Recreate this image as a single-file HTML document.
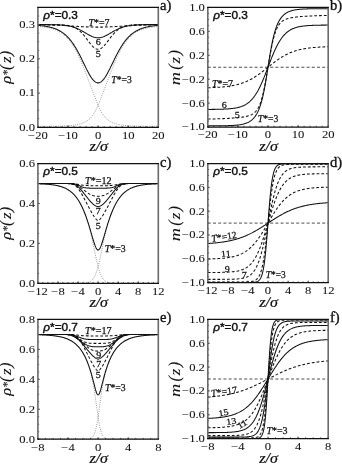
<!DOCTYPE html>
<html><head><meta charset="utf-8"><style>
html,body{margin:0;padding:0;background:#fff;}
svg{display:block;}
.fv{stroke:#6a6a6a;stroke-width:1.6;}
.fh{stroke:#111;stroke-width:1.25;}
.tk{stroke:#333;stroke-width:0.8;}
.cs{fill:none;stroke:#111;stroke-width:1.05;}
.cd{fill:none;stroke:#111;stroke-width:1.05;stroke-dasharray:2.8 2;}
.c0{stroke:#222;stroke-width:0.8;stroke-dasharray:3 2.2;}
.dt{fill:none;stroke:#666;stroke-width:0.8;stroke-dasharray:0.8 1.4;}
text{font-family:"Liberation Serif",serif;fill:#111;}
.tl{font-size:10.5px;stroke:#222;stroke-width:0.06;}
.ax{font-size:15px;font-style:italic;stroke:#111;stroke-width:0.06;}
.axz{stroke-width:0.22;}
.pl{font-size:14.6px;stroke:#111;stroke-width:0.35;}
.rl{font-family:"Liberation Sans",sans-serif;font-size:10px;stroke:#111;stroke-width:0.38;}
.cl{font-size:10px;stroke:#111;stroke-width:0.25;}
.cn{font-size:8.9px;}
</style></head><body>
<svg width="342" height="465" viewBox="0 0 342 465">
<polyline class="dt" points="37.9,126.27 38.4,126.27 38.9,126.27 39.41,126.27 39.91,126.27 40.41,126.27 40.91,126.27 41.41,126.27 41.91,126.27 42.41,126.27 42.92,126.27 43.42,126.26 43.92,126.26 44.42,126.26 44.92,126.26 45.42,126.26 45.93,126.26 46.43,126.26 46.93,126.26 47.43,126.25 47.93,126.25 48.44,126.25 48.94,126.25 49.44,126.25 49.94,126.24 50.44,126.24 50.94,126.24 51.45,126.24 51.95,126.23 52.45,126.23 52.95,126.22 53.45,126.22 53.95,126.22 54.45,126.21 54.96,126.2 55.46,126.2 55.96,126.19 56.46,126.19 56.96,126.18 57.47,126.17 57.97,126.16 58.47,126.15 58.97,126.14 59.47,126.13 59.97,126.12 60.48,126.11 60.98,126.1 61.48,126.08 61.98,126.07 62.48,126.05 62.98,126.03 63.48,126.01 63.99,125.99 64.49,125.97 64.99,125.95 65.49,125.93 65.99,125.9 66.5,125.87 67,125.84 67.5,125.81 68,125.78 68.5,125.74 69,125.7 69.5,125.66 70.01,125.62 70.51,125.57 71.01,125.52 71.51,125.47 72.01,125.41 72.52,125.35 73.02,125.29 73.52,125.22 74.02,125.15 74.52,125.07 75.02,124.99 75.53,124.9 76.03,124.81 76.53,124.72 77.03,124.62 77.53,124.51 78.03,124.4 78.53,124.28 79.04,124.15 79.54,124.02 80.04,123.88 80.54,123.73 81.04,123.57 81.55,123.41 82.05,123.23 82.55,123.05 83.05,122.85 83.55,122.65 84.05,122.43 84.56,122.2 85.06,121.95 85.56,121.69 86.06,121.42 86.56,121.13 87.06,120.81 87.56,120.48 88.07,120.13 88.57,119.75 89.07,119.34 89.57,118.91 90.07,118.44 90.58,117.95 91.08,117.41 91.58,116.84 92.08,116.22 92.58,115.56 93.08,114.85 93.59,114.1 94.09,113.29 94.59,112.43 95.09,111.53 95.59,110.57 96.09,109.56 96.59,108.5 97.1,107.41 97.6,106.27 98.1,105.09 98.6,103.89 99.1,102.66 99.6,101.41 100.11,100.14 100.61,98.85 101.11,97.56 101.61,96.27 102.11,94.96 102.62,93.66 103.12,92.35 103.62,91.04 104.12,89.73 104.62,88.42 105.12,87.11 105.62,85.8 106.13,84.49 106.63,83.18 107.13,81.86 107.63,80.55 108.13,79.24 108.63,77.93 109.14,76.62 109.64,75.32 110.14,74.02 110.64,72.72 111.14,71.43 111.65,70.16 112.15,68.89 112.65,67.63 113.15,66.38 113.65,65.15 114.15,63.94 114.66,62.74 115.16,61.55 115.66,60.39 116.16,59.25 116.66,58.12 117.16,57.02 117.66,55.94 118.17,54.89 118.67,53.85 119.17,52.84 119.67,51.86 120.17,50.9 120.68,49.97 121.18,49.06 121.68,48.17 122.18,47.31 122.68,46.48 123.18,45.67 123.69,44.88 124.19,44.12 124.69,43.39 125.19,42.68 125.69,41.99 126.19,41.32 126.7,40.68 127.2,40.06 127.7,39.46 128.2,38.89 128.7,38.33 129.2,37.8 129.7,37.28 130.21,36.79 130.71,36.31 131.21,35.85 131.71,35.41 132.21,34.99 132.72,34.58 133.22,34.19 133.72,33.82 134.22,33.46 134.72,33.12 135.22,32.79 135.72,32.47 136.23,32.17 136.73,31.87 137.23,31.6 137.73,31.33 138.23,31.07 138.74,30.83 139.24,30.59 139.74,30.37 140.24,30.16 140.74,29.95 141.24,29.75 141.75,29.57 142.25,29.39 142.75,29.21 143.25,29.05 143.75,28.89 144.25,28.74 144.75,28.6 145.26,28.46 145.76,28.33 146.26,28.21 146.76,28.09 147.26,27.97 147.77,27.87 148.27,27.76 148.77,27.66 149.27,27.57 149.77,27.48 150.27,27.39 150.78,27.31 151.28,27.23 151.78,27.15 152.28,27.08 152.78,27.01 153.28,26.95 153.78,26.89 154.29,26.83 154.79,26.77 155.29,26.72 155.79,26.66 156.29,26.62 156.8,26.57 157.3,26.52 157.8,26.48 158.3,26.44"/>
<polyline class="dt" points="37.9,26.44 38.4,26.48 38.9,26.52 39.41,26.57 39.91,26.62 40.41,26.66 40.91,26.72 41.41,26.77 41.91,26.83 42.41,26.89 42.92,26.95 43.42,27.01 43.92,27.08 44.42,27.15 44.92,27.23 45.42,27.31 45.93,27.39 46.43,27.48 46.93,27.57 47.43,27.66 47.93,27.76 48.44,27.87 48.94,27.97 49.44,28.09 49.94,28.21 50.44,28.33 50.94,28.46 51.45,28.6 51.95,28.74 52.45,28.89 52.95,29.05 53.45,29.21 53.95,29.39 54.45,29.57 54.96,29.75 55.46,29.95 55.96,30.16 56.46,30.37 56.96,30.59 57.47,30.83 57.97,31.07 58.47,31.33 58.97,31.6 59.47,31.87 59.97,32.17 60.48,32.47 60.98,32.79 61.48,33.12 61.98,33.46 62.48,33.82 62.98,34.19 63.48,34.58 63.99,34.99 64.49,35.41 64.99,35.85 65.49,36.31 65.99,36.79 66.5,37.28 67,37.8 67.5,38.33 68,38.89 68.5,39.46 69,40.06 69.5,40.68 70.01,41.32 70.51,41.99 71.01,42.68 71.51,43.39 72.01,44.12 72.52,44.88 73.02,45.67 73.52,46.48 74.02,47.31 74.52,48.17 75.02,49.06 75.53,49.97 76.03,50.9 76.53,51.86 77.03,52.84 77.53,53.85 78.03,54.89 78.53,55.94 79.04,57.02 79.54,58.12 80.04,59.25 80.54,60.39 81.04,61.55 81.55,62.74 82.05,63.94 82.55,65.15 83.05,66.38 83.55,67.63 84.05,68.89 84.56,70.16 85.06,71.43 85.56,72.72 86.06,74.02 86.56,75.32 87.06,76.62 87.56,77.93 88.07,79.24 88.57,80.55 89.07,81.86 89.57,83.18 90.07,84.49 90.58,85.8 91.08,87.11 91.58,88.42 92.08,89.73 92.58,91.04 93.08,92.35 93.59,93.66 94.09,94.96 94.59,96.27 95.09,97.56 95.59,98.85 96.09,100.14 96.59,101.41 97.1,102.66 97.6,103.89 98.1,105.09 98.6,106.27 99.1,107.41 99.6,108.5 100.11,109.56 100.61,110.57 101.11,111.53 101.61,112.43 102.11,113.29 102.62,114.1 103.12,114.85 103.62,115.56 104.12,116.22 104.62,116.84 105.12,117.41 105.62,117.95 106.13,118.44 106.63,118.91 107.13,119.34 107.63,119.75 108.13,120.13 108.63,120.48 109.14,120.81 109.64,121.13 110.14,121.42 110.64,121.69 111.14,121.95 111.65,122.2 112.15,122.43 112.65,122.65 113.15,122.85 113.65,123.05 114.15,123.23 114.66,123.41 115.16,123.57 115.66,123.73 116.16,123.88 116.66,124.02 117.16,124.15 117.66,124.28 118.17,124.4 118.67,124.51 119.17,124.62 119.67,124.72 120.17,124.81 120.68,124.9 121.18,124.99 121.68,125.07 122.18,125.15 122.68,125.22 123.18,125.29 123.69,125.35 124.19,125.41 124.69,125.47 125.19,125.52 125.69,125.57 126.19,125.62 126.7,125.66 127.2,125.7 127.7,125.74 128.2,125.78 128.7,125.81 129.2,125.84 129.7,125.87 130.21,125.9 130.71,125.93 131.21,125.95 131.71,125.97 132.21,125.99 132.72,126.01 133.22,126.03 133.72,126.05 134.22,126.07 134.72,126.08 135.22,126.1 135.72,126.11 136.23,126.12 136.73,126.13 137.23,126.14 137.73,126.15 138.23,126.16 138.74,126.17 139.24,126.18 139.74,126.19 140.24,126.19 140.74,126.2 141.24,126.2 141.75,126.21 142.25,126.22 142.75,126.22 143.25,126.22 143.75,126.23 144.25,126.23 144.75,126.24 145.26,126.24 145.76,126.24 146.26,126.24 146.76,126.25 147.26,126.25 147.77,126.25 148.27,126.25 148.77,126.25 149.27,126.26 149.77,126.26 150.27,126.26 150.78,126.26 151.28,126.26 151.78,126.26 152.28,126.26 152.78,126.26 153.28,126.27 153.78,126.27 154.29,126.27 154.79,126.27 155.29,126.27 155.79,126.27 156.29,126.27 156.8,126.27 157.3,126.27 157.8,126.27 158.3,126.27"/>
<polyline class="cd" points="37.9,24.76 38.4,24.77 38.9,24.78 39.41,24.78 39.91,24.79 40.41,24.8 40.91,24.81 41.41,24.82 41.91,24.83 42.41,24.84 42.92,24.85 43.42,24.86 43.92,24.87 44.42,24.88 44.92,24.89 45.42,24.9 45.93,24.91 46.43,24.93 46.93,24.94 47.43,24.95 47.93,24.96 48.44,24.98 48.94,24.99 49.44,25.01 49.94,25.02 50.44,25.04 50.94,25.05 51.45,25.07 51.95,25.08 52.45,25.1 52.95,25.12 53.45,25.13 53.95,25.15 54.45,25.17 54.96,25.19 55.46,25.21 55.96,25.23 56.46,25.25 56.96,25.27 57.47,25.29 57.97,25.31 58.47,25.33 58.97,25.35 59.47,25.38 59.97,25.4 60.48,25.42 60.98,25.45 61.48,25.47 61.98,25.5 62.48,25.52 62.98,25.55 63.48,25.57 63.99,25.6 64.49,25.63 64.99,25.65 65.49,25.68 65.99,25.71 66.5,25.74 67,25.76 67.5,25.79 68,25.82 68.5,25.85 69,25.88 69.5,25.91 70.01,25.94 70.51,25.97 71.01,26 71.51,26.03 72.01,26.06 72.52,26.09 73.02,26.12 73.52,26.15 74.02,26.18 74.52,26.21 75.02,26.24 75.53,26.27 76.03,26.3 76.53,26.33 77.03,26.36 77.53,26.39 78.03,26.42 78.53,26.45 79.04,26.48 79.54,26.51 80.04,26.54 80.54,26.57 81.04,26.6 81.55,26.62 82.05,26.65 82.55,26.68 83.05,26.7 83.55,26.73 84.05,26.76 84.56,26.78 85.06,26.8 85.56,26.83 86.06,26.85 86.56,26.87 87.06,26.89 87.56,26.92 88.07,26.94 88.57,26.95 89.07,26.97 89.57,26.99 90.07,27.01 90.58,27.02 91.08,27.04 91.58,27.05 92.08,27.06 92.58,27.08 93.08,27.09 93.59,27.1 94.09,27.11 94.59,27.11 95.09,27.12 95.59,27.13 96.09,27.13 96.59,27.13 97.1,27.14 97.6,27.14 98.1,27.14 98.6,27.14 99.1,27.14 99.6,27.13 100.11,27.13 100.61,27.13 101.11,27.12 101.61,27.11 102.11,27.11 102.62,27.1 103.12,27.09 103.62,27.08 104.12,27.06 104.62,27.05 105.12,27.04 105.62,27.02 106.13,27.01 106.63,26.99 107.13,26.97 107.63,26.95 108.13,26.94 108.63,26.92 109.14,26.89 109.64,26.87 110.14,26.85 110.64,26.83 111.14,26.8 111.65,26.78 112.15,26.76 112.65,26.73 113.15,26.7 113.65,26.68 114.15,26.65 114.66,26.62 115.16,26.6 115.66,26.57 116.16,26.54 116.66,26.51 117.16,26.48 117.66,26.45 118.17,26.42 118.67,26.39 119.17,26.36 119.67,26.33 120.17,26.3 120.68,26.27 121.18,26.24 121.68,26.21 122.18,26.18 122.68,26.15 123.18,26.12 123.69,26.09 124.19,26.06 124.69,26.03 125.19,26 125.69,25.97 126.19,25.94 126.7,25.91 127.2,25.88 127.7,25.85 128.2,25.82 128.7,25.79 129.2,25.76 129.7,25.74 130.21,25.71 130.71,25.68 131.21,25.65 131.71,25.63 132.21,25.6 132.72,25.57 133.22,25.55 133.72,25.52 134.22,25.5 134.72,25.47 135.22,25.45 135.72,25.42 136.23,25.4 136.73,25.38 137.23,25.35 137.73,25.33 138.23,25.31 138.74,25.29 139.24,25.27 139.74,25.25 140.24,25.23 140.74,25.21 141.24,25.19 141.75,25.17 142.25,25.15 142.75,25.13 143.25,25.12 143.75,25.1 144.25,25.08 144.75,25.07 145.26,25.05 145.76,25.04 146.26,25.02 146.76,25.01 147.26,24.99 147.77,24.98 148.27,24.96 148.77,24.95 149.27,24.94 149.77,24.93 150.27,24.91 150.78,24.9 151.28,24.89 151.78,24.88 152.28,24.87 152.78,24.86 153.28,24.85 153.78,24.84 154.29,24.83 154.79,24.82 155.29,24.81 155.79,24.8 156.29,24.79 156.8,24.78 157.3,24.78 157.8,24.77 158.3,24.76"/>
<polyline class="cs" points="37.9,24.58 38.4,24.58 38.9,24.58 39.41,24.58 39.91,24.58 40.41,24.59 40.91,24.59 41.41,24.59 41.91,24.59 42.41,24.59 42.92,24.59 43.42,24.59 43.92,24.6 44.42,24.6 44.92,24.6 45.42,24.6 45.93,24.61 46.43,24.61 46.93,24.61 47.43,24.62 47.93,24.62 48.44,24.63 48.94,24.63 49.44,24.64 49.94,24.64 50.44,24.65 50.94,24.66 51.45,24.67 51.95,24.67 52.45,24.68 52.95,24.69 53.45,24.7 53.95,24.71 54.45,24.73 54.96,24.74 55.46,24.75 55.96,24.77 56.46,24.79 56.96,24.81 57.47,24.83 57.97,24.85 58.47,24.87 58.97,24.9 59.47,24.92 59.97,24.95 60.48,24.98 60.98,25.01 61.48,25.05 61.98,25.09 62.48,25.13 62.98,25.17 63.48,25.22 63.99,25.27 64.49,25.33 64.99,25.38 65.49,25.45 65.99,25.51 66.5,25.58 67,25.66 67.5,25.74 68,25.82 68.5,25.91 69,26.01 69.5,26.11 70.01,26.22 70.51,26.33 71.01,26.45 71.51,26.58 72.01,26.71 72.52,26.85 73.02,27 73.52,27.15 74.02,27.31 74.52,27.48 75.02,27.66 75.53,27.84 76.03,28.04 76.53,28.24 77.03,28.45 77.53,28.66 78.03,28.89 78.53,29.12 79.04,29.36 79.54,29.61 80.04,29.86 80.54,30.12 81.04,30.39 81.55,30.66 82.05,30.94 82.55,31.22 83.05,31.51 83.55,31.8 84.05,32.09 84.56,32.39 85.06,32.68 85.56,32.98 86.06,33.28 86.56,33.58 87.06,33.87 87.56,34.16 88.07,34.45 88.57,34.74 89.07,35.01 89.57,35.28 90.07,35.54 90.58,35.79 91.08,36.03 91.58,36.26 92.08,36.48 92.58,36.69 93.08,36.87 93.59,37.05 94.09,37.21 94.59,37.35 95.09,37.47 95.59,37.58 96.09,37.67 96.59,37.73 97.1,37.78 97.6,37.81 98.1,37.82 98.6,37.81 99.1,37.78 99.6,37.73 100.11,37.67 100.61,37.58 101.11,37.47 101.61,37.35 102.11,37.21 102.62,37.05 103.12,36.87 103.62,36.69 104.12,36.48 104.62,36.26 105.12,36.03 105.62,35.79 106.13,35.54 106.63,35.28 107.13,35.01 107.63,34.74 108.13,34.45 108.63,34.16 109.14,33.87 109.64,33.58 110.14,33.28 110.64,32.98 111.14,32.68 111.65,32.39 112.15,32.09 112.65,31.8 113.15,31.51 113.65,31.22 114.15,30.94 114.66,30.66 115.16,30.39 115.66,30.12 116.16,29.86 116.66,29.61 117.16,29.36 117.66,29.12 118.17,28.89 118.67,28.66 119.17,28.45 119.67,28.24 120.17,28.04 120.68,27.84 121.18,27.66 121.68,27.48 122.18,27.31 122.68,27.15 123.18,27 123.69,26.85 124.19,26.71 124.69,26.58 125.19,26.45 125.69,26.33 126.19,26.22 126.7,26.11 127.2,26.01 127.7,25.91 128.2,25.82 128.7,25.74 129.2,25.66 129.7,25.58 130.21,25.51 130.71,25.45 131.21,25.38 131.71,25.33 132.21,25.27 132.72,25.22 133.22,25.17 133.72,25.13 134.22,25.09 134.72,25.05 135.22,25.01 135.72,24.98 136.23,24.95 136.73,24.92 137.23,24.9 137.73,24.87 138.23,24.85 138.74,24.83 139.24,24.81 139.74,24.79 140.24,24.77 140.74,24.75 141.24,24.74 141.75,24.73 142.25,24.71 142.75,24.7 143.25,24.69 143.75,24.68 144.25,24.67 144.75,24.67 145.26,24.66 145.76,24.65 146.26,24.64 146.76,24.64 147.26,24.63 147.77,24.63 148.27,24.62 148.77,24.62 149.27,24.61 149.77,24.61 150.27,24.61 150.78,24.6 151.28,24.6 151.78,24.6 152.28,24.6 152.78,24.59 153.28,24.59 153.78,24.59 154.29,24.59 154.79,24.59 155.29,24.59 155.79,24.59 156.29,24.58 156.8,24.58 157.3,24.58 157.8,24.58 158.3,24.58"/>
<polyline class="cd" points="37.9,24.57 38.4,24.57 38.9,24.57 39.41,24.57 39.91,24.57 40.41,24.57 40.91,24.57 41.41,24.58 41.91,24.58 42.41,24.58 42.92,24.58 43.42,24.58 43.92,24.58 44.42,24.58 44.92,24.58 45.42,24.58 45.93,24.58 46.43,24.58 46.93,24.58 47.43,24.59 47.93,24.59 48.44,24.59 48.94,24.59 49.44,24.59 49.94,24.6 50.44,24.6 50.94,24.6 51.45,24.6 51.95,24.61 52.45,24.61 52.95,24.62 53.45,24.62 53.95,24.63 54.45,24.63 54.96,24.64 55.46,24.65 55.96,24.66 56.46,24.67 56.96,24.68 57.47,24.69 57.97,24.7 58.47,24.71 58.97,24.73 59.47,24.75 59.97,24.77 60.48,24.79 60.98,24.81 61.48,24.84 61.98,24.86 62.48,24.9 62.98,24.93 63.48,24.97 63.99,25.01 64.49,25.05 64.99,25.1 65.49,25.15 65.99,25.21 66.5,25.28 67,25.35 67.5,25.42 68,25.51 68.5,25.6 69,25.7 69.5,25.81 70.01,25.92 70.51,26.05 71.01,26.19 71.51,26.33 72.01,26.49 72.52,26.67 73.02,26.85 73.52,27.05 74.02,27.27 74.52,27.5 75.02,27.74 75.53,28.01 76.03,28.29 76.53,28.59 77.03,28.91 77.53,29.25 78.03,29.6 78.53,29.98 79.04,30.38 79.54,30.8 80.04,31.25 80.54,31.71 81.04,32.2 81.55,32.7 82.05,33.23 82.55,33.77 83.05,34.34 83.55,34.93 84.05,35.53 84.56,36.14 85.06,36.78 85.56,37.42 86.06,38.07 86.56,38.74 87.06,39.4 87.56,40.07 88.07,40.75 88.57,41.42 89.07,42.08 89.57,42.73 90.07,43.37 90.58,44 91.08,44.6 91.58,45.19 92.08,45.74 92.58,46.27 93.08,46.76 93.59,47.22 94.09,47.64 94.59,48.02 95.09,48.35 95.59,48.63 96.09,48.87 96.59,49.05 97.1,49.19 97.6,49.27 98.1,49.29 98.6,49.27 99.1,49.19 99.6,49.05 100.11,48.87 100.61,48.63 101.11,48.35 101.61,48.02 102.11,47.64 102.62,47.22 103.12,46.76 103.62,46.27 104.12,45.74 104.62,45.19 105.12,44.6 105.62,44 106.13,43.37 106.63,42.73 107.13,42.08 107.63,41.42 108.13,40.75 108.63,40.07 109.14,39.4 109.64,38.74 110.14,38.07 110.64,37.42 111.14,36.78 111.65,36.14 112.15,35.53 112.65,34.93 113.15,34.34 113.65,33.77 114.15,33.23 114.66,32.7 115.16,32.2 115.66,31.71 116.16,31.25 116.66,30.8 117.16,30.38 117.66,29.98 118.17,29.6 118.67,29.25 119.17,28.91 119.67,28.59 120.17,28.29 120.68,28.01 121.18,27.74 121.68,27.5 122.18,27.27 122.68,27.05 123.18,26.85 123.69,26.67 124.19,26.49 124.69,26.33 125.19,26.19 125.69,26.05 126.19,25.92 126.7,25.81 127.2,25.7 127.7,25.6 128.2,25.51 128.7,25.42 129.2,25.35 129.7,25.28 130.21,25.21 130.71,25.15 131.21,25.1 131.71,25.05 132.21,25.01 132.72,24.97 133.22,24.93 133.72,24.9 134.22,24.86 134.72,24.84 135.22,24.81 135.72,24.79 136.23,24.77 136.73,24.75 137.23,24.73 137.73,24.71 138.23,24.7 138.74,24.69 139.24,24.68 139.74,24.67 140.24,24.66 140.74,24.65 141.24,24.64 141.75,24.63 142.25,24.63 142.75,24.62 143.25,24.62 143.75,24.61 144.25,24.61 144.75,24.6 145.26,24.6 145.76,24.6 146.26,24.6 146.76,24.59 147.26,24.59 147.77,24.59 148.27,24.59 148.77,24.59 149.27,24.58 149.77,24.58 150.27,24.58 150.78,24.58 151.28,24.58 151.78,24.58 152.28,24.58 152.78,24.58 153.28,24.58 153.78,24.58 154.29,24.58 154.79,24.58 155.29,24.57 155.79,24.57 156.29,24.57 156.8,24.57 157.3,24.57 157.8,24.57 158.3,24.57"/>
<polyline class="cs" points="37.9,25.41 38.4,25.45 38.9,25.49 39.41,25.54 39.91,25.58 40.41,25.63 40.91,25.68 41.41,25.74 41.91,25.79 42.41,25.85 42.92,25.91 43.42,25.98 43.92,26.05 44.42,26.12 44.92,26.19 45.42,26.27 45.93,26.35 46.43,26.44 46.93,26.52 47.43,26.62 47.93,26.71 48.44,26.82 48.94,26.92 49.44,27.04 49.94,27.15 50.44,27.27 50.94,27.4 51.45,27.54 51.95,27.68 52.45,27.82 52.95,27.98 53.45,28.13 53.95,28.3 54.45,28.48 54.96,28.66 55.46,28.85 55.96,29.05 56.46,29.26 56.96,29.47 57.47,29.7 57.97,29.94 58.47,30.18 58.97,30.44 59.47,30.71 59.97,30.99 60.48,31.28 60.98,31.58 61.48,31.9 61.98,32.23 62.48,32.57 62.98,32.93 63.48,33.3 63.99,33.68 64.49,34.09 64.99,34.5 65.49,34.94 65.99,35.39 66.5,35.85 67,36.34 67.5,36.84 68,37.36 68.5,37.9 69,38.46 69.5,39.04 70.01,39.64 70.51,40.26 71.01,40.89 71.51,41.55 72.01,42.23 72.52,42.93 73.02,43.65 73.52,44.39 74.02,45.16 74.52,45.94 75.02,46.74 75.53,47.57 76.03,48.41 76.53,49.28 77.03,50.16 77.53,51.06 78.03,51.98 78.53,52.92 79.04,53.87 79.54,54.84 80.04,55.83 80.54,56.82 81.04,57.83 81.55,58.84 82.05,59.87 82.55,60.9 83.05,61.94 83.55,62.98 84.05,64.02 84.56,65.05 85.06,66.09 85.56,67.12 86.06,68.13 86.56,69.14 87.06,70.13 87.56,71.11 88.07,72.06 88.57,73 89.07,73.91 89.57,74.78 90.07,75.63 90.58,76.45 91.08,77.22 91.58,77.96 92.08,78.65 92.58,79.3 93.08,79.9 93.59,80.45 94.09,80.95 94.59,81.4 95.09,81.79 95.59,82.12 96.09,82.4 96.59,82.61 97.1,82.76 97.6,82.86 98.1,82.89 98.6,82.86 99.1,82.76 99.6,82.61 100.11,82.4 100.61,82.12 101.11,81.79 101.61,81.4 102.11,80.95 102.62,80.45 103.12,79.9 103.62,79.3 104.12,78.65 104.62,77.96 105.12,77.22 105.62,76.45 106.13,75.63 106.63,74.78 107.13,73.91 107.63,73 108.13,72.06 108.63,71.11 109.14,70.13 109.64,69.14 110.14,68.13 110.64,67.12 111.14,66.09 111.65,65.05 112.15,64.02 112.65,62.98 113.15,61.94 113.65,60.9 114.15,59.87 114.66,58.84 115.16,57.83 115.66,56.82 116.16,55.83 116.66,54.84 117.16,53.87 117.66,52.92 118.17,51.98 118.67,51.06 119.17,50.16 119.67,49.28 120.17,48.41 120.68,47.57 121.18,46.74 121.68,45.94 122.18,45.16 122.68,44.39 123.18,43.65 123.69,42.93 124.19,42.23 124.69,41.55 125.19,40.89 125.69,40.26 126.19,39.64 126.7,39.04 127.2,38.46 127.7,37.9 128.2,37.36 128.7,36.84 129.2,36.34 129.7,35.85 130.21,35.39 130.71,34.94 131.21,34.5 131.71,34.09 132.21,33.68 132.72,33.3 133.22,32.93 133.72,32.57 134.22,32.23 134.72,31.9 135.22,31.58 135.72,31.28 136.23,30.99 136.73,30.71 137.23,30.44 137.73,30.18 138.23,29.94 138.74,29.7 139.24,29.47 139.74,29.26 140.24,29.05 140.74,28.85 141.24,28.66 141.75,28.48 142.25,28.3 142.75,28.13 143.25,27.98 143.75,27.82 144.25,27.68 144.75,27.54 145.26,27.4 145.76,27.27 146.26,27.15 146.76,27.04 147.26,26.92 147.77,26.82 148.27,26.71 148.77,26.62 149.27,26.52 149.77,26.44 150.27,26.35 150.78,26.27 151.28,26.19 151.78,26.12 152.28,26.05 152.78,25.98 153.28,25.91 153.78,25.85 154.29,25.79 154.79,25.74 155.29,25.68 155.79,25.63 156.29,25.58 156.8,25.54 157.3,25.49 157.8,25.45 158.3,25.41"/>
<line class="c0" x1="207.8" y1="67.25" x2="328.2" y2="67.25"/>
<polyline class="cd" points="207.8,87.77 208.3,87.76 208.8,87.74 209.31,87.72 209.81,87.7 210.31,87.69 210.81,87.67 211.31,87.65 211.81,87.63 212.31,87.6 212.82,87.58 213.32,87.56 213.82,87.53 214.32,87.51 214.82,87.48 215.33,87.46 215.83,87.43 216.33,87.4 216.83,87.37 217.33,87.34 217.83,87.31 218.34,87.27 218.84,87.24 219.34,87.2 219.84,87.17 220.34,87.13 220.84,87.09 221.34,87.04 221.85,87 222.35,86.96 222.85,86.91 223.35,86.86 223.85,86.81 224.36,86.76 224.86,86.71 225.36,86.65 225.86,86.59 226.36,86.53 226.86,86.47 227.37,86.41 227.87,86.34 228.37,86.27 228.87,86.2 229.37,86.13 229.87,86.05 230.38,85.97 230.88,85.89 231.38,85.8 231.88,85.71 232.38,85.62 232.88,85.53 233.38,85.43 233.89,85.33 234.39,85.23 234.89,85.12 235.39,85.01 235.89,84.9 236.4,84.78 236.9,84.65 237.4,84.53 237.9,84.4 238.4,84.26 238.9,84.12 239.41,83.98 239.91,83.83 240.41,83.68 240.91,83.53 241.41,83.36 241.91,83.2 242.41,83.03 242.92,82.85 243.42,82.67 243.92,82.48 244.42,82.29 244.92,82.09 245.43,81.89 245.93,81.68 246.43,81.46 246.93,81.25 247.43,81.02 247.93,80.79 248.44,80.55 248.94,80.31 249.44,80.06 249.94,79.8 250.44,79.54 250.94,79.28 251.44,79 251.95,78.72 252.45,78.44 252.95,78.15 253.45,77.85 253.95,77.55 254.46,77.24 254.96,76.93 255.46,76.61 255.96,76.28 256.46,75.95 256.96,75.62 257.46,75.28 257.97,74.93 258.47,74.58 258.97,74.22 259.47,73.86 259.97,73.5 260.48,73.13 260.98,72.76 261.48,72.38 261.98,72 262.48,71.62 262.98,71.23 263.49,70.84 263.99,70.45 264.49,70.05 264.99,69.66 265.49,69.26 265.99,68.86 266.5,68.46 267,68.06 267.5,67.65 268,67.25 268.5,66.85 269,66.44 269.5,66.04 270.01,65.64 270.51,65.24 271.01,64.84 271.51,64.45 272.01,64.05 272.51,63.66 273.02,63.27 273.52,62.88 274.02,62.5 274.52,62.12 275.02,61.74 275.52,61.37 276.03,61 276.53,60.64 277.03,60.28 277.53,59.92 278.03,59.57 278.53,59.22 279.04,58.88 279.54,58.55 280.04,58.22 280.54,57.89 281.04,57.57 281.55,57.26 282.05,56.95 282.55,56.65 283.05,56.35 283.55,56.06 284.05,55.78 284.56,55.5 285.06,55.22 285.56,54.96 286.06,54.7 286.56,54.44 287.06,54.19 287.56,53.95 288.07,53.71 288.57,53.48 289.07,53.25 289.57,53.04 290.07,52.82 290.57,52.61 291.08,52.41 291.58,52.21 292.08,52.02 292.58,51.83 293.08,51.65 293.58,51.47 294.09,51.3 294.59,51.14 295.09,50.97 295.59,50.82 296.09,50.67 296.6,50.52 297.1,50.38 297.6,50.24 298.1,50.1 298.6,49.97 299.1,49.85 299.61,49.72 300.11,49.6 300.61,49.49 301.11,49.38 301.61,49.27 302.11,49.17 302.62,49.07 303.12,48.97 303.62,48.88 304.12,48.79 304.62,48.7 305.12,48.61 305.62,48.53 306.13,48.45 306.63,48.37 307.13,48.3 307.63,48.23 308.13,48.16 308.63,48.09 309.14,48.03 309.64,47.97 310.14,47.91 310.64,47.85 311.14,47.79 311.64,47.74 312.15,47.69 312.65,47.64 313.15,47.59 313.65,47.54 314.15,47.5 314.65,47.46 315.16,47.41 315.66,47.37 316.16,47.33 316.66,47.3 317.16,47.26 317.66,47.23 318.17,47.19 318.67,47.16 319.17,47.13 319.67,47.1 320.17,47.07 320.67,47.04 321.18,47.02 321.68,46.99 322.18,46.97 322.68,46.94 323.18,46.92 323.69,46.9 324.19,46.87 324.69,46.85 325.19,46.83 325.69,46.81 326.19,46.8 326.69,46.78 327.2,46.76 327.7,46.74 328.2,46.73"/>
<polyline class="cs" points="207.8,109.42 208.3,109.42 208.8,109.42 209.31,109.41 209.81,109.41 210.31,109.4 210.81,109.4 211.31,109.4 211.81,109.39 212.31,109.39 212.82,109.38 213.32,109.38 213.82,109.37 214.32,109.36 214.82,109.36 215.33,109.35 215.83,109.34 216.33,109.33 216.83,109.32 217.33,109.31 217.83,109.3 218.34,109.29 218.84,109.28 219.34,109.27 219.84,109.26 220.34,109.24 220.84,109.23 221.34,109.22 221.85,109.2 222.35,109.18 222.85,109.16 223.35,109.14 223.85,109.12 224.36,109.1 224.86,109.08 225.36,109.05 225.86,109.03 226.36,109 226.86,108.97 227.37,108.93 227.87,108.9 228.37,108.86 228.87,108.83 229.37,108.78 229.87,108.74 230.38,108.69 230.88,108.64 231.38,108.59 231.88,108.54 232.38,108.48 232.88,108.41 233.38,108.35 233.89,108.28 234.39,108.2 234.89,108.12 235.39,108.03 235.89,107.94 236.4,107.85 236.9,107.74 237.4,107.64 237.9,107.52 238.4,107.4 238.9,107.27 239.41,107.13 239.91,106.98 240.41,106.83 240.91,106.66 241.41,106.49 241.91,106.3 242.41,106.11 242.92,105.9 243.42,105.68 243.92,105.45 244.42,105.2 244.92,104.94 245.43,104.67 245.93,104.38 246.43,104.07 246.93,103.75 247.43,103.41 247.93,103.05 248.44,102.66 248.94,102.26 249.44,101.84 249.94,101.4 250.44,100.93 250.94,100.44 251.44,99.92 251.95,99.38 252.45,98.81 252.95,98.22 253.45,97.6 253.95,96.94 254.46,96.26 254.96,95.55 255.46,94.81 255.96,94.04 256.46,93.24 256.96,92.4 257.46,91.54 257.97,90.64 258.47,89.71 258.97,88.75 259.47,87.76 259.97,86.74 260.48,85.69 260.98,84.61 261.48,83.5 261.98,82.36 262.48,81.2 262.98,80.02 263.49,78.81 263.99,77.58 264.49,76.33 264.99,75.07 265.49,73.79 265.99,72.49 266.5,71.19 267,69.88 267.5,68.57 268,67.25 268.5,65.93 269,64.62 269.5,63.31 270.01,62.01 270.51,60.71 271.01,59.43 271.51,58.17 272.01,56.92 272.51,55.69 273.02,54.48 273.52,53.3 274.02,52.14 274.52,51 275.02,49.89 275.52,48.81 276.03,47.76 276.53,46.74 277.03,45.75 277.53,44.79 278.03,43.86 278.53,42.96 279.04,42.1 279.54,41.26 280.04,40.46 280.54,39.69 281.04,38.95 281.55,38.24 282.05,37.56 282.55,36.9 283.05,36.28 283.55,35.69 284.05,35.12 284.56,34.58 285.06,34.06 285.56,33.57 286.06,33.1 286.56,32.66 287.06,32.24 287.56,31.84 288.07,31.45 288.57,31.09 289.07,30.75 289.57,30.43 290.07,30.12 290.57,29.83 291.08,29.56 291.58,29.3 292.08,29.05 292.58,28.82 293.08,28.6 293.58,28.39 294.09,28.2 294.59,28.01 295.09,27.84 295.59,27.67 296.09,27.52 296.6,27.37 297.1,27.23 297.6,27.1 298.1,26.98 298.6,26.86 299.1,26.76 299.61,26.65 300.11,26.56 300.61,26.47 301.11,26.38 301.61,26.3 302.11,26.22 302.62,26.15 303.12,26.09 303.62,26.02 304.12,25.96 304.62,25.91 305.12,25.86 305.62,25.81 306.13,25.76 306.63,25.72 307.13,25.67 307.63,25.64 308.13,25.6 308.63,25.57 309.14,25.53 309.64,25.5 310.14,25.47 310.64,25.45 311.14,25.42 311.64,25.4 312.15,25.38 312.65,25.36 313.15,25.34 313.65,25.32 314.15,25.3 314.65,25.28 315.16,25.27 315.66,25.26 316.16,25.24 316.66,25.23 317.16,25.22 317.66,25.21 318.17,25.2 318.67,25.19 319.17,25.18 319.67,25.17 320.17,25.16 320.67,25.15 321.18,25.14 321.68,25.14 322.18,25.13 322.68,25.12 323.18,25.12 323.69,25.11 324.19,25.11 324.69,25.1 325.19,25.1 325.69,25.1 326.19,25.09 326.69,25.09 327.2,25.08 327.7,25.08 328.2,25.08"/>
<polyline class="cd" points="207.8,119.04 208.3,119.03 208.8,119.02 209.31,119.01 209.81,119.01 210.31,119 210.81,118.99 211.31,118.98 211.81,118.97 212.31,118.96 212.82,118.95 213.32,118.94 213.82,118.93 214.32,118.91 214.82,118.9 215.33,118.89 215.83,118.88 216.33,118.86 216.83,118.85 217.33,118.84 217.83,118.82 218.34,118.81 218.84,118.79 219.34,118.78 219.84,118.76 220.34,118.74 220.84,118.73 221.34,118.71 221.85,118.69 222.35,118.67 222.85,118.65 223.35,118.63 223.85,118.61 224.36,118.59 224.86,118.57 225.36,118.54 225.86,118.52 226.36,118.5 226.86,118.47 227.37,118.44 227.87,118.42 228.37,118.39 228.87,118.36 229.37,118.33 229.87,118.3 230.38,118.27 230.88,118.24 231.38,118.21 231.88,118.17 232.38,118.14 232.88,118.1 233.38,118.06 233.89,118.03 234.39,117.99 234.89,117.94 235.39,117.9 235.89,117.86 236.4,117.81 236.9,117.77 237.4,117.72 237.9,117.67 238.4,117.61 238.9,117.56 239.41,117.5 239.91,117.44 240.41,117.38 240.91,117.32 241.41,117.25 241.91,117.18 242.41,117.11 242.92,117.04 243.42,116.96 243.92,116.87 244.42,116.78 244.92,116.69 245.43,116.59 245.93,116.49 246.43,116.38 246.93,116.26 247.43,116.13 247.93,116 248.44,115.85 248.94,115.69 249.44,115.52 249.94,115.34 250.44,115.14 250.94,114.92 251.44,114.69 251.95,114.43 252.45,114.15 252.95,113.84 253.45,113.5 253.95,113.12 254.46,112.71 254.96,112.25 255.46,111.75 255.96,111.19 256.46,110.58 256.96,109.9 257.46,109.15 257.97,108.32 258.47,107.4 258.97,106.39 259.47,105.28 259.97,104.06 260.48,102.72 260.98,101.26 261.48,99.66 261.98,97.93 262.48,96.06 262.98,94.04 263.49,91.88 263.99,89.58 264.49,87.14 264.99,84.57 265.49,81.88 265.99,79.09 266.5,76.21 267,73.26 267.5,70.27 268,67.25 268.5,64.23 269,61.24 269.5,58.29 270.01,55.41 270.51,52.62 271.01,49.93 271.51,47.36 272.01,44.92 272.51,42.62 273.02,40.46 273.52,38.44 274.02,36.57 274.52,34.84 275.02,33.24 275.52,31.78 276.03,30.44 276.53,29.22 277.03,28.11 277.53,27.1 278.03,26.18 278.53,25.35 279.04,24.6 279.54,23.92 280.04,23.31 280.54,22.75 281.04,22.25 281.55,21.79 282.05,21.38 282.55,21 283.05,20.66 283.55,20.35 284.05,20.07 284.56,19.81 285.06,19.58 285.56,19.36 286.06,19.16 286.56,18.98 287.06,18.81 287.56,18.65 288.07,18.5 288.57,18.37 289.07,18.24 289.57,18.12 290.07,18.01 290.57,17.91 291.08,17.81 291.58,17.72 292.08,17.63 292.58,17.54 293.08,17.46 293.58,17.39 294.09,17.32 294.59,17.25 295.09,17.18 295.59,17.12 296.09,17.06 296.6,17 297.1,16.94 297.6,16.89 298.1,16.83 298.6,16.78 299.1,16.73 299.61,16.69 300.11,16.64 300.61,16.6 301.11,16.56 301.61,16.51 302.11,16.47 302.62,16.44 303.12,16.4 303.62,16.36 304.12,16.33 304.62,16.29 305.12,16.26 305.62,16.23 306.13,16.2 306.63,16.17 307.13,16.14 307.63,16.11 308.13,16.08 308.63,16.06 309.14,16.03 309.64,16 310.14,15.98 310.64,15.96 311.14,15.93 311.64,15.91 312.15,15.89 312.65,15.87 313.15,15.85 313.65,15.83 314.15,15.81 314.65,15.79 315.16,15.77 315.66,15.76 316.16,15.74 316.66,15.72 317.16,15.71 317.66,15.69 318.17,15.68 318.67,15.66 319.17,15.65 319.67,15.64 320.17,15.62 320.67,15.61 321.18,15.6 321.68,15.59 322.18,15.57 322.68,15.56 323.18,15.55 323.69,15.54 324.19,15.53 324.69,15.52 325.19,15.51 325.69,15.5 326.19,15.49 326.69,15.49 327.2,15.48 327.7,15.47 328.2,15.46"/>
<polyline class="cs" points="207.8,125.84 208.3,125.84 208.8,125.84 209.31,125.84 209.81,125.84 210.31,125.84 210.81,125.84 211.31,125.83 211.81,125.83 212.31,125.83 212.82,125.83 213.32,125.83 213.82,125.83 214.32,125.82 214.82,125.82 215.33,125.82 215.83,125.82 216.33,125.81 216.83,125.81 217.33,125.81 217.83,125.81 218.34,125.8 218.84,125.8 219.34,125.79 219.84,125.79 220.34,125.78 220.84,125.78 221.34,125.77 221.85,125.77 222.35,125.76 222.85,125.75 223.35,125.75 223.85,125.74 224.36,125.73 224.86,125.72 225.36,125.71 225.86,125.7 226.36,125.69 226.86,125.68 227.37,125.67 227.87,125.65 228.37,125.64 228.87,125.62 229.37,125.6 229.87,125.59 230.38,125.57 230.88,125.55 231.38,125.52 231.88,125.5 232.38,125.47 232.88,125.44 233.38,125.41 233.89,125.38 234.39,125.35 234.89,125.31 235.39,125.27 235.89,125.23 236.4,125.18 236.9,125.13 237.4,125.08 237.9,125.02 238.4,124.96 238.9,124.9 239.41,124.83 239.91,124.75 240.41,124.67 240.91,124.58 241.41,124.49 241.91,124.39 242.41,124.28 242.92,124.17 243.42,124.05 243.92,123.91 244.42,123.77 244.92,123.62 245.43,123.46 245.93,123.28 246.43,123.09 246.93,122.89 247.43,122.67 247.93,122.44 248.44,122.19 248.94,121.92 249.44,121.63 249.94,121.32 250.44,120.99 250.94,120.63 251.44,120.25 251.95,119.84 252.45,119.39 252.95,118.91 253.45,118.4 253.95,117.84 254.46,117.25 254.96,116.6 255.46,115.91 255.96,115.16 256.46,114.35 256.96,113.48 257.46,112.54 257.97,111.52 258.47,110.42 258.97,109.23 259.47,107.94 259.97,106.55 260.48,105.05 260.98,103.43 261.48,101.69 261.98,99.81 262.48,97.8 262.98,95.64 263.49,93.34 263.99,90.9 264.49,88.31 264.99,85.6 265.49,82.75 265.99,79.8 266.5,76.75 267,73.63 267.5,70.45 268,67.25 268.5,64.05 269,60.87 269.5,57.75 270.01,54.7 270.51,51.75 271.01,48.9 271.51,46.19 272.01,43.6 272.51,41.16 273.02,38.86 273.52,36.7 274.02,34.69 274.52,32.81 275.02,31.07 275.52,29.45 276.03,27.95 276.53,26.56 277.03,25.27 277.53,24.08 278.03,22.98 278.53,21.96 279.04,21.02 279.54,20.15 280.04,19.34 280.54,18.59 281.04,17.9 281.55,17.25 282.05,16.66 282.55,16.1 283.05,15.59 283.55,15.11 284.05,14.66 284.56,14.25 285.06,13.87 285.56,13.51 286.06,13.18 286.56,12.87 287.06,12.58 287.56,12.31 288.07,12.06 288.57,11.83 289.07,11.61 289.57,11.41 290.07,11.22 290.57,11.04 291.08,10.88 291.58,10.73 292.08,10.59 292.58,10.45 293.08,10.33 293.58,10.22 294.09,10.11 294.59,10.01 295.09,9.92 295.59,9.83 296.09,9.75 296.6,9.67 297.1,9.6 297.6,9.54 298.1,9.48 298.6,9.42 299.1,9.37 299.61,9.32 300.11,9.27 300.61,9.23 301.11,9.19 301.61,9.15 302.11,9.12 302.62,9.09 303.12,9.06 303.62,9.03 304.12,9 304.62,8.98 305.12,8.95 305.62,8.93 306.13,8.91 306.63,8.9 307.13,8.88 307.63,8.86 308.13,8.85 308.63,8.83 309.14,8.82 309.64,8.81 310.14,8.8 310.64,8.79 311.14,8.78 311.64,8.77 312.15,8.76 312.65,8.75 313.15,8.75 313.65,8.74 314.15,8.73 314.65,8.73 315.16,8.72 315.66,8.72 316.16,8.71 316.66,8.71 317.16,8.7 317.66,8.7 318.17,8.69 318.67,8.69 319.17,8.69 319.67,8.69 320.17,8.68 320.67,8.68 321.18,8.68 321.68,8.68 322.18,8.67 322.68,8.67 323.18,8.67 323.69,8.67 324.19,8.67 324.69,8.67 325.19,8.66 325.69,8.66 326.19,8.66 326.69,8.66 327.2,8.66 327.7,8.66 328.2,8.66"/>
<polyline class="dt" points="37.9,283.15 38.4,283.15 38.9,283.15 39.41,283.15 39.91,283.15 40.41,283.15 40.91,283.15 41.41,283.15 41.91,283.15 42.41,283.15 42.92,283.15 43.42,283.15 43.92,283.15 44.42,283.15 44.92,283.15 45.42,283.15 45.93,283.15 46.43,283.15 46.93,283.15 47.43,283.15 47.93,283.15 48.43,283.15 48.94,283.15 49.44,283.15 49.94,283.15 50.44,283.15 50.94,283.15 51.44,283.15 51.95,283.15 52.45,283.15 52.95,283.15 53.45,283.15 53.95,283.15 54.46,283.15 54.96,283.15 55.46,283.15 55.96,283.15 56.46,283.15 56.96,283.15 57.47,283.15 57.97,283.15 58.47,283.15 58.97,283.15 59.47,283.15 59.97,283.15 60.48,283.15 60.98,283.15 61.48,283.15 61.98,283.15 62.48,283.15 62.98,283.15 63.48,283.15 63.99,283.15 64.49,283.15 64.99,283.15 65.49,283.16 65.99,283.16 66.5,283.16 67,283.16 67.5,283.16 68,283.16 68.5,283.16 69,283.16 69.5,283.16 70.01,283.16 70.51,283.16 71.01,283.16 71.51,283.16 72.01,283.16 72.52,283.16 73.02,283.16 73.52,283.16 74.02,283.16 74.52,283.16 75.02,283.16 75.53,283.16 76.03,283.16 76.53,283.16 77.03,283.16 77.53,283.16 78.03,283.16 78.53,283.15 79.04,283.15 79.54,283.15 80.04,283.14 80.54,283.14 81.04,283.13 81.55,283.12 82.05,283.11 82.55,283.1 83.05,283.08 83.55,283.06 84.05,283.04 84.56,283.01 85.06,282.97 85.56,282.92 86.06,282.86 86.56,282.8 87.06,282.71 87.56,282.61 88.07,282.49 88.57,282.34 89.07,282.16 89.57,281.95 90.07,281.7 90.58,281.4 91.08,281.04 91.58,280.63 92.08,280.14 92.58,279.58 93.08,278.94 93.59,278.2 94.09,277.37 94.59,276.43 95.09,275.38 95.59,274.23 96.09,272.96 96.59,271.57 97.1,270.06 97.6,268.42 98.1,266.64 98.6,264.73 99.1,262.69 99.61,260.53 100.11,258.27 100.61,255.92 101.11,253.51 101.61,251.08 102.11,248.63 102.62,246.21 103.12,243.82 103.62,241.47 104.12,239.18 104.62,236.96 105.12,234.81 105.62,232.73 106.13,230.71 106.63,228.77 107.13,226.91 107.63,225.1 108.13,223.37 108.63,221.7 109.14,220.1 109.64,218.55 110.14,217.06 110.64,215.63 111.14,214.26 111.65,212.94 112.15,211.66 112.65,210.44 113.15,209.27 113.65,208.14 114.15,207.06 114.66,206.02 115.16,205.02 115.66,204.07 116.16,203.15 116.66,202.27 117.16,201.42 117.66,200.62 118.17,199.84 118.67,199.1 119.17,198.39 119.67,197.71 120.17,197.05 120.68,196.43 121.18,195.83 121.68,195.26 122.18,194.72 122.68,194.2 123.18,193.7 123.69,193.22 124.19,192.77 124.69,192.33 125.19,191.92 125.69,191.52 126.19,191.14 126.69,190.78 127.2,190.44 127.7,190.11 128.2,189.79 128.7,189.49 129.2,189.21 129.71,188.94 130.21,188.68 130.71,188.43 131.21,188.19 131.71,187.97 132.21,187.75 132.72,187.55 133.22,187.36 133.72,187.17 134.22,186.99 134.72,186.83 135.22,186.67 135.72,186.51 136.23,186.37 136.73,186.23 137.23,186.1 137.73,185.97 138.23,185.86 138.74,185.74 139.24,185.64 139.74,185.53 140.24,185.44 140.74,185.34 141.24,185.25 141.75,185.17 142.25,185.09 142.75,185.02 143.25,184.94 143.75,184.88 144.25,184.81 144.76,184.75 145.26,184.69 145.76,184.63 146.26,184.58 146.76,184.53 147.26,184.48 147.77,184.44 148.27,184.4 148.77,184.35 149.27,184.32 149.77,184.28 150.27,184.24 150.78,184.21 151.28,184.18 151.78,184.15 152.28,184.12 152.78,184.09 153.28,184.07 153.78,184.04 154.29,184.02 154.79,184 155.29,183.98 155.79,183.96 156.29,183.94 156.8,183.92 157.3,183.9 157.8,183.89 158.3,183.87"/>
<polyline class="dt" points="37.9,183.87 38.4,183.89 38.9,183.9 39.41,183.92 39.91,183.94 40.41,183.96 40.91,183.98 41.41,184 41.91,184.02 42.41,184.04 42.92,184.07 43.42,184.09 43.92,184.12 44.42,184.15 44.92,184.18 45.42,184.21 45.93,184.24 46.43,184.28 46.93,184.32 47.43,184.35 47.93,184.4 48.43,184.44 48.94,184.48 49.44,184.53 49.94,184.58 50.44,184.63 50.94,184.69 51.44,184.75 51.95,184.81 52.45,184.88 52.95,184.94 53.45,185.02 53.95,185.09 54.46,185.17 54.96,185.25 55.46,185.34 55.96,185.44 56.46,185.53 56.96,185.64 57.47,185.74 57.97,185.86 58.47,185.97 58.97,186.1 59.47,186.23 59.97,186.37 60.48,186.51 60.98,186.67 61.48,186.83 61.98,186.99 62.48,187.17 62.98,187.36 63.48,187.55 63.99,187.75 64.49,187.97 64.99,188.19 65.49,188.43 65.99,188.68 66.5,188.94 67,189.21 67.5,189.49 68,189.79 68.5,190.11 69,190.44 69.5,190.78 70.01,191.14 70.51,191.52 71.01,191.92 71.51,192.33 72.01,192.77 72.52,193.22 73.02,193.7 73.52,194.2 74.02,194.72 74.52,195.26 75.02,195.83 75.53,196.43 76.03,197.05 76.53,197.71 77.03,198.39 77.53,199.1 78.03,199.84 78.53,200.62 79.04,201.42 79.54,202.27 80.04,203.15 80.54,204.07 81.04,205.02 81.55,206.02 82.05,207.06 82.55,208.14 83.05,209.27 83.55,210.44 84.05,211.66 84.56,212.94 85.06,214.26 85.56,215.63 86.06,217.06 86.56,218.55 87.06,220.1 87.56,221.7 88.07,223.37 88.57,225.1 89.07,226.91 89.57,228.77 90.07,230.71 90.58,232.73 91.08,234.81 91.58,236.96 92.08,239.18 92.58,241.47 93.08,243.82 93.59,246.21 94.09,248.63 94.59,251.08 95.09,253.51 95.59,255.92 96.09,258.27 96.59,260.53 97.1,262.69 97.6,264.73 98.1,266.64 98.6,268.42 99.1,270.06 99.61,271.57 100.11,272.96 100.61,274.23 101.11,275.38 101.61,276.43 102.11,277.37 102.62,278.2 103.12,278.94 103.62,279.58 104.12,280.14 104.62,280.63 105.12,281.04 105.62,281.4 106.13,281.7 106.63,281.95 107.13,282.16 107.63,282.34 108.13,282.49 108.63,282.61 109.14,282.71 109.64,282.8 110.14,282.86 110.64,282.92 111.14,282.97 111.65,283.01 112.15,283.04 112.65,283.06 113.15,283.08 113.65,283.1 114.15,283.11 114.66,283.12 115.16,283.13 115.66,283.14 116.16,283.14 116.66,283.15 117.16,283.15 117.66,283.15 118.17,283.16 118.67,283.16 119.17,283.16 119.67,283.16 120.17,283.16 120.68,283.16 121.18,283.16 121.68,283.16 122.18,283.16 122.68,283.16 123.18,283.16 123.69,283.16 124.19,283.16 124.69,283.16 125.19,283.16 125.69,283.16 126.19,283.16 126.69,283.16 127.2,283.16 127.7,283.16 128.2,283.16 128.7,283.16 129.2,283.16 129.71,283.16 130.21,283.16 130.71,283.16 131.21,283.15 131.71,283.15 132.21,283.15 132.72,283.15 133.22,283.15 133.72,283.15 134.22,283.15 134.72,283.15 135.22,283.15 135.72,283.15 136.23,283.15 136.73,283.15 137.23,283.15 137.73,283.15 138.23,283.15 138.74,283.15 139.24,283.15 139.74,283.15 140.24,283.15 140.74,283.15 141.24,283.15 141.75,283.15 142.25,283.15 142.75,283.15 143.25,283.15 143.75,283.15 144.25,283.15 144.76,283.15 145.26,283.15 145.76,283.15 146.26,283.15 146.76,283.15 147.26,283.15 147.77,283.15 148.27,283.15 148.77,283.15 149.27,283.15 149.77,283.15 150.27,283.15 150.78,283.15 151.28,283.15 151.78,283.15 152.28,283.15 152.78,283.15 153.28,283.15 153.78,283.15 154.29,283.15 154.79,283.15 155.29,283.15 155.79,283.15 156.29,283.15 156.8,283.15 157.3,283.15 157.8,283.15 158.3,283.15"/>
<polyline class="cd" points="37.9,183.5 38.4,183.5 38.9,183.5 39.41,183.5 39.91,183.5 40.41,183.5 40.91,183.5 41.41,183.5 41.91,183.5 42.41,183.5 42.92,183.5 43.42,183.5 43.92,183.5 44.42,183.5 44.92,183.5 45.42,183.5 45.93,183.5 46.43,183.5 46.93,183.5 47.43,183.5 47.93,183.5 48.43,183.5 48.94,183.5 49.44,183.5 49.94,183.5 50.44,183.5 50.94,183.5 51.44,183.5 51.95,183.5 52.45,183.5 52.95,183.5 53.45,183.5 53.95,183.5 54.46,183.5 54.96,183.5 55.46,183.5 55.96,183.5 56.46,183.5 56.96,183.5 57.47,183.5 57.97,183.5 58.47,183.5 58.97,183.5 59.47,183.5 59.97,183.5 60.48,183.5 60.98,183.5 61.48,183.5 61.98,183.5 62.48,183.5 62.98,183.5 63.48,183.51 63.99,183.51 64.49,183.51 64.99,183.51 65.49,183.51 65.99,183.52 66.5,183.52 67,183.52 67.5,183.53 68,183.53 68.5,183.54 69,183.55 69.5,183.56 70.01,183.57 70.51,183.59 71.01,183.61 71.51,183.63 72.01,183.65 72.52,183.68 73.02,183.72 73.52,183.76 74.02,183.8 74.52,183.85 75.02,183.91 75.53,183.97 76.03,184.04 76.53,184.12 77.03,184.2 77.53,184.28 78.03,184.37 78.53,184.46 79.04,184.55 79.54,184.64 80.04,184.74 80.54,184.83 81.04,184.92 81.55,185 82.05,185.08 82.55,185.16 83.05,185.22 83.55,185.29 84.05,185.34 84.56,185.4 85.06,185.44 85.56,185.48 86.06,185.51 86.56,185.54 87.06,185.57 87.56,185.59 88.07,185.61 88.57,185.62 89.07,185.64 89.57,185.65 90.07,185.66 90.58,185.66 91.08,185.67 91.58,185.67 92.08,185.68 92.58,185.68 93.08,185.68 93.59,185.69 94.09,185.69 94.59,185.69 95.09,185.69 95.59,185.69 96.09,185.69 96.59,185.69 97.1,185.69 97.6,185.69 98.1,185.69 98.6,185.69 99.1,185.69 99.61,185.69 100.11,185.69 100.61,185.69 101.11,185.69 101.61,185.69 102.11,185.69 102.62,185.69 103.12,185.68 103.62,185.68 104.12,185.68 104.62,185.67 105.12,185.67 105.62,185.66 106.13,185.66 106.63,185.65 107.13,185.64 107.63,185.62 108.13,185.61 108.63,185.59 109.14,185.57 109.64,185.54 110.14,185.51 110.64,185.48 111.14,185.44 111.65,185.4 112.15,185.34 112.65,185.29 113.15,185.22 113.65,185.16 114.15,185.08 114.66,185 115.16,184.92 115.66,184.83 116.16,184.74 116.66,184.64 117.16,184.55 117.66,184.46 118.17,184.37 118.67,184.28 119.17,184.2 119.67,184.12 120.17,184.04 120.68,183.97 121.18,183.91 121.68,183.85 122.18,183.8 122.68,183.76 123.18,183.72 123.69,183.68 124.19,183.65 124.69,183.63 125.19,183.61 125.69,183.59 126.19,183.57 126.69,183.56 127.2,183.55 127.7,183.54 128.2,183.53 128.7,183.53 129.2,183.52 129.71,183.52 130.21,183.52 130.71,183.51 131.21,183.51 131.71,183.51 132.21,183.51 132.72,183.51 133.22,183.5 133.72,183.5 134.22,183.5 134.72,183.5 135.22,183.5 135.72,183.5 136.23,183.5 136.73,183.5 137.23,183.5 137.73,183.5 138.23,183.5 138.74,183.5 139.24,183.5 139.74,183.5 140.24,183.5 140.74,183.5 141.24,183.5 141.75,183.5 142.25,183.5 142.75,183.5 143.25,183.5 143.75,183.5 144.25,183.5 144.76,183.5 145.26,183.5 145.76,183.5 146.26,183.5 146.76,183.5 147.26,183.5 147.77,183.5 148.27,183.5 148.77,183.5 149.27,183.5 149.77,183.5 150.27,183.5 150.78,183.5 151.28,183.5 151.78,183.5 152.28,183.5 152.78,183.5 153.28,183.5 153.78,183.5 154.29,183.5 154.79,183.5 155.29,183.5 155.79,183.5 156.29,183.5 156.8,183.5 157.3,183.5 157.8,183.5 158.3,183.5"/>
<polyline class="cs" points="37.9,183.5 38.4,183.5 38.9,183.5 39.41,183.5 39.91,183.5 40.41,183.5 40.91,183.5 41.41,183.5 41.91,183.5 42.41,183.5 42.92,183.5 43.42,183.5 43.92,183.5 44.42,183.5 44.92,183.5 45.42,183.5 45.93,183.5 46.43,183.5 46.93,183.5 47.43,183.5 47.93,183.5 48.43,183.5 48.94,183.5 49.44,183.5 49.94,183.5 50.44,183.5 50.94,183.5 51.44,183.5 51.95,183.5 52.45,183.5 52.95,183.5 53.45,183.5 53.95,183.5 54.46,183.5 54.96,183.5 55.46,183.5 55.96,183.5 56.46,183.5 56.96,183.5 57.47,183.5 57.97,183.5 58.47,183.5 58.97,183.5 59.47,183.5 59.97,183.5 60.48,183.5 60.98,183.5 61.48,183.5 61.98,183.5 62.48,183.5 62.98,183.5 63.48,183.5 63.99,183.5 64.49,183.5 64.99,183.5 65.49,183.51 65.99,183.51 66.5,183.51 67,183.51 67.5,183.52 68,183.52 68.5,183.53 69,183.53 69.5,183.54 70.01,183.55 70.51,183.57 71.01,183.59 71.51,183.61 72.01,183.64 72.52,183.68 73.02,183.72 73.52,183.78 74.02,183.85 74.52,183.93 75.02,184.03 75.53,184.15 76.03,184.29 76.53,184.45 77.03,184.62 77.53,184.82 78.03,185.03 78.53,185.25 79.04,185.48 79.54,185.72 80.04,185.97 80.54,186.21 81.04,186.44 81.55,186.66 82.05,186.87 82.55,187.07 83.05,187.24 83.55,187.4 84.05,187.54 84.56,187.66 85.06,187.76 85.56,187.84 86.06,187.91 86.56,187.97 87.06,188.01 87.56,188.05 88.07,188.08 88.57,188.1 89.07,188.12 89.57,188.14 90.07,188.15 90.58,188.16 91.08,188.16 91.58,188.17 92.08,188.17 92.58,188.18 93.08,188.18 93.59,188.18 94.09,188.18 94.59,188.18 95.09,188.19 95.59,188.19 96.09,188.19 96.59,188.19 97.1,188.19 97.6,188.19 98.1,188.19 98.6,188.19 99.1,188.19 99.61,188.19 100.11,188.19 100.61,188.19 101.11,188.19 101.61,188.18 102.11,188.18 102.62,188.18 103.12,188.18 103.62,188.18 104.12,188.17 104.62,188.17 105.12,188.16 105.62,188.16 106.13,188.15 106.63,188.14 107.13,188.12 107.63,188.1 108.13,188.08 108.63,188.05 109.14,188.01 109.64,187.97 110.14,187.91 110.64,187.84 111.14,187.76 111.65,187.66 112.15,187.54 112.65,187.4 113.15,187.24 113.65,187.07 114.15,186.87 114.66,186.66 115.16,186.44 115.66,186.21 116.16,185.97 116.66,185.72 117.16,185.48 117.66,185.25 118.17,185.03 118.67,184.82 119.17,184.62 119.67,184.45 120.17,184.29 120.68,184.15 121.18,184.03 121.68,183.93 122.18,183.85 122.68,183.78 123.18,183.72 123.69,183.68 124.19,183.64 124.69,183.61 125.19,183.59 125.69,183.57 126.19,183.55 126.69,183.54 127.2,183.53 127.7,183.53 128.2,183.52 128.7,183.52 129.2,183.51 129.71,183.51 130.21,183.51 130.71,183.51 131.21,183.5 131.71,183.5 132.21,183.5 132.72,183.5 133.22,183.5 133.72,183.5 134.22,183.5 134.72,183.5 135.22,183.5 135.72,183.5 136.23,183.5 136.73,183.5 137.23,183.5 137.73,183.5 138.23,183.5 138.74,183.5 139.24,183.5 139.74,183.5 140.24,183.5 140.74,183.5 141.24,183.5 141.75,183.5 142.25,183.5 142.75,183.5 143.25,183.5 143.75,183.5 144.25,183.5 144.76,183.5 145.26,183.5 145.76,183.5 146.26,183.5 146.76,183.5 147.26,183.5 147.77,183.5 148.27,183.5 148.77,183.5 149.27,183.5 149.77,183.5 150.27,183.5 150.78,183.5 151.28,183.5 151.78,183.5 152.28,183.5 152.78,183.5 153.28,183.5 153.78,183.5 154.29,183.5 154.79,183.5 155.29,183.5 155.79,183.5 156.29,183.5 156.8,183.5 157.3,183.5 157.8,183.5 158.3,183.5"/>
<polyline class="cd" points="37.9,183.5 38.4,183.5 38.9,183.5 39.41,183.5 39.91,183.5 40.41,183.5 40.91,183.5 41.41,183.5 41.91,183.5 42.41,183.5 42.92,183.5 43.42,183.5 43.92,183.5 44.42,183.5 44.92,183.5 45.42,183.5 45.93,183.5 46.43,183.5 46.93,183.5 47.43,183.5 47.93,183.5 48.43,183.5 48.94,183.5 49.44,183.5 49.94,183.5 50.44,183.5 50.94,183.5 51.44,183.5 51.95,183.5 52.45,183.5 52.95,183.5 53.45,183.5 53.95,183.5 54.46,183.5 54.96,183.5 55.46,183.5 55.96,183.5 56.46,183.5 56.96,183.5 57.47,183.5 57.97,183.5 58.47,183.5 58.97,183.5 59.47,183.5 59.97,183.5 60.48,183.5 60.98,183.5 61.48,183.51 61.98,183.51 62.48,183.51 62.98,183.51 63.48,183.51 63.99,183.51 64.49,183.52 64.99,183.52 65.49,183.53 65.99,183.53 66.5,183.54 67,183.55 67.5,183.56 68,183.57 68.5,183.59 69,183.61 69.5,183.63 70.01,183.66 70.51,183.69 71.01,183.73 71.51,183.78 72.01,183.84 72.52,183.91 73.02,183.99 73.52,184.08 74.02,184.19 74.52,184.32 75.02,184.47 75.53,184.64 76.03,184.82 76.53,185.03 77.03,185.27 77.53,185.52 78.03,185.8 78.53,186.09 79.04,186.4 79.54,186.73 80.04,187.08 80.54,187.43 81.04,187.8 81.55,188.18 82.05,188.57 82.55,188.96 83.05,189.35 83.55,189.75 84.05,190.15 84.56,190.55 85.06,190.94 85.56,191.33 86.06,191.72 86.56,192.1 87.06,192.46 87.56,192.82 88.07,193.17 88.57,193.5 89.07,193.81 89.57,194.1 90.07,194.38 90.58,194.63 91.08,194.86 91.58,195.07 92.08,195.26 92.58,195.43 93.08,195.58 93.59,195.7 94.09,195.82 94.59,195.91 95.09,195.99 95.59,196.06 96.09,196.12 96.59,196.17 97.1,196.21 97.6,196.24 98.1,196.27 98.6,196.24 99.1,196.21 99.61,196.17 100.11,196.12 100.61,196.06 101.11,195.99 101.61,195.91 102.11,195.82 102.62,195.7 103.12,195.58 103.62,195.43 104.12,195.26 104.62,195.07 105.12,194.86 105.62,194.63 106.13,194.38 106.63,194.1 107.13,193.81 107.63,193.5 108.13,193.17 108.63,192.82 109.14,192.46 109.64,192.1 110.14,191.72 110.64,191.33 111.14,190.94 111.65,190.55 112.15,190.15 112.65,189.75 113.15,189.35 113.65,188.96 114.15,188.57 114.66,188.18 115.16,187.8 115.66,187.43 116.16,187.08 116.66,186.73 117.16,186.4 117.66,186.09 118.17,185.8 118.67,185.52 119.17,185.27 119.67,185.03 120.17,184.82 120.68,184.64 121.18,184.47 121.68,184.32 122.18,184.19 122.68,184.08 123.18,183.99 123.69,183.91 124.19,183.84 124.69,183.78 125.19,183.73 125.69,183.69 126.19,183.66 126.69,183.63 127.2,183.61 127.7,183.59 128.2,183.57 128.7,183.56 129.2,183.55 129.71,183.54 130.21,183.53 130.71,183.53 131.21,183.52 131.71,183.52 132.21,183.51 132.72,183.51 133.22,183.51 133.72,183.51 134.22,183.51 134.72,183.51 135.22,183.5 135.72,183.5 136.23,183.5 136.73,183.5 137.23,183.5 137.73,183.5 138.23,183.5 138.74,183.5 139.24,183.5 139.74,183.5 140.24,183.5 140.74,183.5 141.24,183.5 141.75,183.5 142.25,183.5 142.75,183.5 143.25,183.5 143.75,183.5 144.25,183.5 144.76,183.5 145.26,183.5 145.76,183.5 146.26,183.5 146.76,183.5 147.26,183.5 147.77,183.5 148.27,183.5 148.77,183.5 149.27,183.5 149.77,183.5 150.27,183.5 150.78,183.5 151.28,183.5 151.78,183.5 152.28,183.5 152.78,183.5 153.28,183.5 153.78,183.5 154.29,183.5 154.79,183.5 155.29,183.5 155.79,183.5 156.29,183.5 156.8,183.5 157.3,183.5 157.8,183.5 158.3,183.5"/>
<polyline class="cs" points="37.9,183.5 38.4,183.5 38.9,183.5 39.41,183.5 39.91,183.5 40.41,183.5 40.91,183.5 41.41,183.5 41.91,183.5 42.41,183.5 42.92,183.5 43.42,183.5 43.92,183.5 44.42,183.5 44.92,183.5 45.42,183.5 45.93,183.5 46.43,183.5 46.93,183.5 47.43,183.5 47.93,183.5 48.43,183.5 48.94,183.5 49.44,183.5 49.94,183.5 50.44,183.5 50.94,183.5 51.44,183.5 51.95,183.5 52.45,183.5 52.95,183.5 53.45,183.5 53.95,183.5 54.46,183.5 54.96,183.5 55.46,183.5 55.96,183.5 56.46,183.5 56.96,183.5 57.47,183.5 57.97,183.5 58.47,183.5 58.97,183.5 59.47,183.5 59.97,183.5 60.48,183.5 60.98,183.5 61.48,183.5 61.98,183.5 62.48,183.51 62.98,183.51 63.48,183.51 63.99,183.51 64.49,183.51 64.99,183.52 65.49,183.52 65.99,183.53 66.5,183.54 67,183.54 67.5,183.55 68,183.57 68.5,183.58 69,183.61 69.5,183.63 70.01,183.66 70.51,183.7 71.01,183.75 71.51,183.81 72.01,183.88 72.52,183.97 73.02,184.07 73.52,184.2 74.02,184.35 74.52,184.53 75.02,184.74 75.53,184.99 76.03,185.26 76.53,185.58 77.03,185.93 77.53,186.32 78.03,186.74 78.53,187.2 79.04,187.68 79.54,188.2 80.04,188.73 80.54,189.29 81.04,189.87 81.55,190.46 82.05,191.07 82.55,191.68 83.05,192.31 83.55,192.94 84.05,193.57 84.56,194.21 85.06,194.85 85.56,195.49 86.06,196.13 86.56,196.77 87.06,197.41 87.56,198.04 88.07,198.67 88.57,199.29 89.07,199.9 89.57,200.5 90.07,201.08 90.58,201.65 91.08,202.2 91.58,202.72 92.08,203.22 92.58,203.7 93.08,204.14 93.59,204.54 94.09,204.91 94.59,205.24 95.09,205.54 95.59,205.8 96.09,206.03 96.59,206.22 97.1,206.39 97.6,206.53 98.1,206.64 98.6,206.53 99.1,206.39 99.61,206.22 100.11,206.03 100.61,205.8 101.11,205.54 101.61,205.24 102.11,204.91 102.62,204.54 103.12,204.14 103.62,203.7 104.12,203.22 104.62,202.72 105.12,202.2 105.62,201.65 106.13,201.08 106.63,200.5 107.13,199.9 107.63,199.29 108.13,198.67 108.63,198.04 109.14,197.41 109.64,196.77 110.14,196.13 110.64,195.49 111.14,194.85 111.65,194.21 112.15,193.57 112.65,192.94 113.15,192.31 113.65,191.68 114.15,191.07 114.66,190.46 115.16,189.87 115.66,189.29 116.16,188.73 116.66,188.2 117.16,187.68 117.66,187.2 118.17,186.74 118.67,186.32 119.17,185.93 119.67,185.58 120.17,185.26 120.68,184.99 121.18,184.74 121.68,184.53 122.18,184.35 122.68,184.2 123.18,184.07 123.69,183.97 124.19,183.88 124.69,183.81 125.19,183.75 125.69,183.7 126.19,183.66 126.69,183.63 127.2,183.61 127.7,183.58 128.2,183.57 128.7,183.55 129.2,183.54 129.71,183.54 130.21,183.53 130.71,183.52 131.21,183.52 131.71,183.51 132.21,183.51 132.72,183.51 133.22,183.51 133.72,183.51 134.22,183.5 134.72,183.5 135.22,183.5 135.72,183.5 136.23,183.5 136.73,183.5 137.23,183.5 137.73,183.5 138.23,183.5 138.74,183.5 139.24,183.5 139.74,183.5 140.24,183.5 140.74,183.5 141.24,183.5 141.75,183.5 142.25,183.5 142.75,183.5 143.25,183.5 143.75,183.5 144.25,183.5 144.76,183.5 145.26,183.5 145.76,183.5 146.26,183.5 146.76,183.5 147.26,183.5 147.77,183.5 148.27,183.5 148.77,183.5 149.27,183.5 149.77,183.5 150.27,183.5 150.78,183.5 151.28,183.5 151.78,183.5 152.28,183.5 152.78,183.5 153.28,183.5 153.78,183.5 154.29,183.5 154.79,183.5 155.29,183.5 155.79,183.5 156.29,183.5 156.8,183.5 157.3,183.5 157.8,183.5 158.3,183.5"/>
<polyline class="cd" points="37.9,183.5 38.4,183.5 38.9,183.5 39.41,183.5 39.91,183.5 40.41,183.5 40.91,183.5 41.41,183.5 41.91,183.5 42.41,183.5 42.92,183.5 43.42,183.5 43.92,183.5 44.42,183.5 44.92,183.5 45.42,183.5 45.93,183.5 46.43,183.5 46.93,183.5 47.43,183.5 47.93,183.5 48.43,183.5 48.94,183.5 49.44,183.5 49.94,183.5 50.44,183.5 50.94,183.5 51.44,183.5 51.95,183.5 52.45,183.5 52.95,183.5 53.45,183.5 53.95,183.5 54.46,183.5 54.96,183.5 55.46,183.5 55.96,183.5 56.46,183.5 56.96,183.5 57.47,183.5 57.97,183.5 58.47,183.5 58.97,183.5 59.47,183.5 59.97,183.5 60.48,183.5 60.98,183.5 61.48,183.51 61.98,183.51 62.48,183.51 62.98,183.51 63.48,183.51 63.99,183.52 64.49,183.52 64.99,183.53 65.49,183.53 65.99,183.54 66.5,183.55 67,183.56 67.5,183.58 68,183.6 68.5,183.62 69,183.65 69.5,183.69 70.01,183.74 70.51,183.8 71.01,183.87 71.51,183.95 72.01,184.06 72.52,184.19 73.02,184.34 73.52,184.53 74.02,184.75 74.52,185.02 75.02,185.32 75.53,185.68 76.03,186.09 76.53,186.55 77.03,187.07 77.53,187.64 78.03,188.26 78.53,188.93 79.04,189.64 79.54,190.4 80.04,191.19 80.54,192.01 81.04,192.86 81.55,193.73 82.05,194.62 82.55,195.53 83.05,196.44 83.55,197.37 84.05,198.31 84.56,199.25 85.06,200.2 85.56,201.16 86.06,202.11 86.56,203.07 87.06,204.02 87.56,204.97 88.07,205.93 88.57,206.88 89.07,207.82 89.57,208.76 90.07,209.69 90.58,210.6 91.08,211.51 91.58,212.4 92.08,213.27 92.58,214.12 93.08,214.94 93.59,215.73 94.09,216.49 94.59,217.2 95.09,217.87 95.59,218.49 96.09,219.06 96.59,219.58 97.1,220.04 97.6,220.45 98.1,220.81 98.6,220.45 99.1,220.04 99.61,219.58 100.11,219.06 100.61,218.49 101.11,217.87 101.61,217.2 102.11,216.49 102.62,215.73 103.12,214.94 103.62,214.12 104.12,213.27 104.62,212.4 105.12,211.51 105.62,210.6 106.13,209.69 106.63,208.76 107.13,207.82 107.63,206.88 108.13,205.93 108.63,204.97 109.14,204.02 109.64,203.07 110.14,202.11 110.64,201.16 111.14,200.2 111.65,199.25 112.15,198.31 112.65,197.37 113.15,196.44 113.65,195.53 114.15,194.62 114.66,193.73 115.16,192.86 115.66,192.01 116.16,191.19 116.66,190.4 117.16,189.64 117.66,188.93 118.17,188.26 118.67,187.64 119.17,187.07 119.67,186.55 120.17,186.09 120.68,185.68 121.18,185.32 121.68,185.02 122.18,184.75 122.68,184.53 123.18,184.34 123.69,184.19 124.19,184.06 124.69,183.95 125.19,183.87 125.69,183.8 126.19,183.74 126.69,183.69 127.2,183.65 127.7,183.62 128.2,183.6 128.7,183.58 129.2,183.56 129.71,183.55 130.21,183.54 130.71,183.53 131.21,183.53 131.71,183.52 132.21,183.52 132.72,183.51 133.22,183.51 133.72,183.51 134.22,183.51 134.72,183.51 135.22,183.5 135.72,183.5 136.23,183.5 136.73,183.5 137.23,183.5 137.73,183.5 138.23,183.5 138.74,183.5 139.24,183.5 139.74,183.5 140.24,183.5 140.74,183.5 141.24,183.5 141.75,183.5 142.25,183.5 142.75,183.5 143.25,183.5 143.75,183.5 144.25,183.5 144.76,183.5 145.26,183.5 145.76,183.5 146.26,183.5 146.76,183.5 147.26,183.5 147.77,183.5 148.27,183.5 148.77,183.5 149.27,183.5 149.77,183.5 150.27,183.5 150.78,183.5 151.28,183.5 151.78,183.5 152.28,183.5 152.78,183.5 153.28,183.5 153.78,183.5 154.29,183.5 154.79,183.5 155.29,183.5 155.79,183.5 156.29,183.5 156.8,183.5 157.3,183.5 157.8,183.5 158.3,183.5"/>
<polyline class="cs" points="37.9,183.77 38.4,183.79 38.9,183.8 39.41,183.82 39.91,183.84 40.41,183.86 40.91,183.88 41.41,183.9 41.91,183.92 42.41,183.94 42.92,183.97 43.42,183.99 43.92,184.02 44.42,184.05 44.92,184.08 45.42,184.11 45.93,184.14 46.43,184.18 46.93,184.22 47.43,184.26 47.93,184.3 48.43,184.34 48.94,184.38 49.44,184.43 49.94,184.48 50.44,184.54 50.94,184.59 51.44,184.65 51.95,184.71 52.45,184.78 52.95,184.85 53.45,184.92 53.95,184.99 54.46,185.07 54.96,185.16 55.46,185.24 55.96,185.34 56.46,185.43 56.96,185.54 57.47,185.65 57.97,185.76 58.47,185.88 58.97,186 59.47,186.13 59.97,186.27 60.48,186.42 60.98,186.57 61.48,186.73 61.98,186.9 62.48,187.07 62.98,187.26 63.48,187.45 63.99,187.66 64.49,187.87 64.99,188.1 65.49,188.33 65.99,188.58 66.5,188.84 67,189.11 67.5,189.4 68,189.7 68.5,190.01 69,190.34 69.5,190.69 70.01,191.05 70.51,191.43 71.01,191.83 71.51,192.24 72.01,192.68 72.52,193.13 73.02,193.61 73.52,194.11 74.02,194.63 74.52,195.17 75.02,195.74 75.53,196.34 76.03,196.96 76.53,197.61 77.03,198.29 77.53,199 78.03,199.75 78.53,200.52 79.04,201.32 79.54,202.17 80.04,203.04 80.54,203.95 81.04,204.9 81.55,205.89 82.05,206.92 82.55,207.99 83.05,209.1 83.55,210.25 84.05,211.45 84.56,212.69 85.06,213.98 85.56,215.3 86.06,216.68 86.56,218.1 87.06,219.56 87.56,221.06 88.07,222.61 88.57,224.19 89.07,225.82 89.57,227.47 90.07,229.16 90.58,230.87 91.08,232.6 91.58,234.34 92.08,236.08 92.58,237.81 93.08,239.5 93.59,241.16 94.09,242.75 94.59,244.25 95.09,245.65 95.59,246.89 96.09,247.97 96.59,248.85 97.1,249.5 97.6,249.9 98.1,250.03 98.6,249.9 99.1,249.5 99.61,248.85 100.11,247.97 100.61,246.89 101.11,245.65 101.61,244.25 102.11,242.75 102.62,241.16 103.12,239.5 103.62,237.81 104.12,236.08 104.62,234.34 105.12,232.6 105.62,230.87 106.13,229.16 106.63,227.47 107.13,225.82 107.63,224.19 108.13,222.61 108.63,221.06 109.14,219.56 109.64,218.1 110.14,216.68 110.64,215.3 111.14,213.98 111.65,212.69 112.15,211.45 112.65,210.25 113.15,209.1 113.65,207.99 114.15,206.92 114.66,205.89 115.16,204.9 115.66,203.95 116.16,203.04 116.66,202.17 117.16,201.32 117.66,200.52 118.17,199.75 118.67,199 119.17,198.29 119.67,197.61 120.17,196.96 120.68,196.34 121.18,195.74 121.68,195.17 122.18,194.63 122.68,194.11 123.18,193.61 123.69,193.13 124.19,192.68 124.69,192.24 125.19,191.83 125.69,191.43 126.19,191.05 126.69,190.69 127.2,190.34 127.7,190.01 128.2,189.7 128.7,189.4 129.2,189.11 129.71,188.84 130.21,188.58 130.71,188.33 131.21,188.1 131.71,187.87 132.21,187.66 132.72,187.45 133.22,187.26 133.72,187.07 134.22,186.9 134.72,186.73 135.22,186.57 135.72,186.42 136.23,186.27 136.73,186.13 137.23,186 137.73,185.88 138.23,185.76 138.74,185.65 139.24,185.54 139.74,185.43 140.24,185.34 140.74,185.24 141.24,185.16 141.75,185.07 142.25,184.99 142.75,184.92 143.25,184.85 143.75,184.78 144.25,184.71 144.76,184.65 145.26,184.59 145.76,184.54 146.26,184.48 146.76,184.43 147.26,184.38 147.77,184.34 148.27,184.3 148.77,184.26 149.27,184.22 149.77,184.18 150.27,184.14 150.78,184.11 151.28,184.08 151.78,184.05 152.28,184.02 152.78,183.99 153.28,183.97 153.78,183.94 154.29,183.92 154.79,183.9 155.29,183.88 155.79,183.86 156.29,183.84 156.8,183.82 157.3,183.8 157.8,183.79 158.3,183.77"/>
<line class="c0" x1="207.8" y1="223.1" x2="328.2" y2="223.1"/>
<polyline class="cs" points="207.8,243.5 208.3,243.46 208.8,243.43 209.31,243.4 209.81,243.36 210.31,243.33 210.81,243.29 211.31,243.25 211.81,243.21 212.31,243.17 212.82,243.13 213.32,243.09 213.82,243.05 214.32,243 214.82,242.96 215.33,242.91 215.83,242.86 216.33,242.81 216.83,242.76 217.33,242.7 217.83,242.65 218.34,242.59 218.84,242.53 219.34,242.47 219.84,242.41 220.34,242.35 220.84,242.29 221.34,242.22 221.85,242.15 222.35,242.08 222.85,242.01 223.35,241.93 223.85,241.86 224.36,241.78 224.86,241.7 225.36,241.62 225.86,241.53 226.36,241.44 226.86,241.35 227.37,241.26 227.87,241.17 228.37,241.07 228.87,240.97 229.37,240.87 229.87,240.77 230.38,240.66 230.88,240.55 231.38,240.44 231.88,240.32 232.38,240.2 232.88,240.08 233.39,239.96 233.89,239.83 234.39,239.7 234.89,239.56 235.39,239.43 235.89,239.29 236.4,239.14 236.9,239 237.4,238.85 237.9,238.69 238.4,238.54 238.9,238.38 239.41,238.21 239.91,238.04 240.41,237.87 240.91,237.7 241.41,237.52 241.91,237.34 242.42,237.15 242.92,236.96 243.42,236.77 243.92,236.57 244.42,236.37 244.92,236.16 245.43,235.95 245.93,235.74 246.43,235.52 246.93,235.3 247.43,235.07 247.93,234.85 248.44,234.61 248.94,234.38 249.44,234.14 249.94,233.89 250.44,233.64 250.94,233.39 251.44,233.14 251.95,232.88 252.45,232.61 252.95,232.35 253.45,232.08 253.95,231.8 254.46,231.53 254.96,231.25 255.46,230.96 255.96,230.67 256.46,230.38 256.96,230.09 257.47,229.79 257.97,229.5 258.47,229.19 258.97,228.89 259.47,228.58 259.97,228.27 260.48,227.96 260.98,227.65 261.48,227.33 261.98,227.01 262.48,226.69 262.98,226.37 263.49,226.05 263.99,225.73 264.49,225.4 264.99,225.07 265.49,224.75 265.99,224.42 266.5,224.09 267,223.76 267.5,223.43 268,223.1 268.5,222.77 269,222.44 269.5,222.11 270.01,221.78 270.51,221.45 271.01,221.13 271.51,220.8 272.01,220.47 272.51,220.15 273.02,219.83 273.52,219.51 274.02,219.19 274.52,218.87 275.02,218.55 275.52,218.24 276.03,217.93 276.53,217.62 277.03,217.31 277.53,217.01 278.03,216.7 278.53,216.41 279.04,216.11 279.54,215.82 280.04,215.53 280.54,215.24 281.04,214.95 281.55,214.67 282.05,214.4 282.55,214.12 283.05,213.85 283.55,213.59 284.05,213.32 284.56,213.06 285.06,212.81 285.56,212.56 286.06,212.31 286.56,212.06 287.06,211.82 287.56,211.59 288.07,211.35 288.57,211.13 289.07,210.9 289.57,210.68 290.07,210.46 290.57,210.25 291.08,210.04 291.58,209.83 292.08,209.63 292.58,209.43 293.08,209.24 293.58,209.05 294.09,208.86 294.59,208.68 295.09,208.5 295.59,208.33 296.09,208.16 296.59,207.99 297.1,207.82 297.6,207.66 298.1,207.51 298.6,207.35 299.1,207.2 299.61,207.06 300.11,206.91 300.61,206.77 301.11,206.64 301.61,206.5 302.11,206.37 302.62,206.24 303.12,206.12 303.62,206 304.12,205.88 304.62,205.76 305.12,205.65 305.62,205.54 306.13,205.43 306.63,205.33 307.13,205.23 307.63,205.13 308.13,205.03 308.63,204.94 309.14,204.85 309.64,204.76 310.14,204.67 310.64,204.58 311.14,204.5 311.64,204.42 312.15,204.34 312.65,204.27 313.15,204.19 313.65,204.12 314.15,204.05 314.65,203.98 315.16,203.91 315.66,203.85 316.16,203.79 316.66,203.73 317.16,203.67 317.67,203.61 318.17,203.55 318.67,203.5 319.17,203.44 319.67,203.39 320.17,203.34 320.67,203.29 321.18,203.24 321.68,203.2 322.18,203.15 322.68,203.11 323.18,203.07 323.69,203.03 324.19,202.99 324.69,202.95 325.19,202.91 325.69,202.87 326.19,202.84 326.69,202.8 327.2,202.77 327.7,202.74 328.2,202.7"/>
<polyline class="cd" points="207.8,259.01 208.3,259 208.8,258.99 209.31,258.97 209.81,258.96 210.31,258.95 210.81,258.93 211.31,258.92 211.81,258.9 212.31,258.88 212.82,258.86 213.32,258.85 213.82,258.83 214.32,258.81 214.82,258.79 215.33,258.76 215.83,258.74 216.33,258.72 216.83,258.69 217.33,258.66 217.83,258.63 218.34,258.6 218.84,258.57 219.34,258.54 219.84,258.51 220.34,258.47 220.84,258.43 221.34,258.39 221.85,258.35 222.35,258.31 222.85,258.27 223.35,258.22 223.85,258.17 224.36,258.12 224.86,258.06 225.36,258.01 225.86,257.95 226.36,257.88 226.86,257.82 227.37,257.75 227.87,257.68 228.37,257.6 228.87,257.53 229.37,257.44 229.87,257.36 230.38,257.27 230.88,257.18 231.38,257.08 231.88,256.98 232.38,256.87 232.88,256.76 233.39,256.64 233.89,256.52 234.39,256.39 234.89,256.26 235.39,256.12 235.89,255.97 236.4,255.82 236.9,255.66 237.4,255.49 237.9,255.32 238.4,255.14 238.9,254.95 239.41,254.75 239.91,254.55 240.41,254.34 240.91,254.11 241.41,253.88 241.91,253.64 242.42,253.39 242.92,253.13 243.42,252.86 243.92,252.57 244.42,252.28 244.92,251.97 245.43,251.66 245.93,251.33 246.43,250.98 246.93,250.63 247.43,250.26 247.93,249.88 248.44,249.48 248.94,249.08 249.44,248.65 249.94,248.21 250.44,247.76 250.94,247.29 251.44,246.81 251.95,246.31 252.45,245.8 252.95,245.27 253.45,244.73 253.95,244.17 254.46,243.59 254.96,243 255.46,242.39 255.96,241.77 256.46,241.13 256.96,240.47 257.47,239.8 257.97,239.12 258.47,238.42 258.97,237.71 259.47,236.98 259.97,236.24 260.48,235.49 260.98,234.72 261.48,233.94 261.98,233.16 262.48,232.36 262.98,231.55 263.49,230.73 263.99,229.9 264.49,229.07 264.99,228.23 265.49,227.38 265.99,226.53 266.5,225.68 267,224.82 267.5,223.96 268,223.1 268.5,222.24 269,221.38 269.5,220.52 270.01,219.67 270.51,218.82 271.01,217.97 271.51,217.13 272.01,216.3 272.51,215.47 273.02,214.65 273.52,213.84 274.02,213.04 274.52,212.26 275.02,211.48 275.52,210.71 276.03,209.96 276.53,209.22 277.03,208.49 277.53,207.78 278.03,207.08 278.53,206.4 279.04,205.73 279.54,205.07 280.04,204.43 280.54,203.81 281.04,203.2 281.55,202.61 282.05,202.03 282.55,201.47 283.05,200.93 283.55,200.4 284.05,199.89 284.56,199.39 285.06,198.91 285.56,198.44 286.06,197.99 286.56,197.55 287.06,197.12 287.56,196.72 288.07,196.32 288.57,195.94 289.07,195.57 289.57,195.22 290.07,194.87 290.57,194.54 291.08,194.23 291.58,193.92 292.08,193.63 292.58,193.34 293.08,193.07 293.58,192.81 294.09,192.56 294.59,192.32 295.09,192.09 295.59,191.86 296.09,191.65 296.59,191.45 297.1,191.25 297.6,191.06 298.1,190.88 298.6,190.71 299.1,190.54 299.61,190.38 300.11,190.23 300.61,190.08 301.11,189.94 301.61,189.81 302.11,189.68 302.62,189.56 303.12,189.44 303.62,189.33 304.12,189.22 304.62,189.12 305.12,189.02 305.62,188.93 306.13,188.84 306.63,188.76 307.13,188.67 307.63,188.6 308.13,188.52 308.63,188.45 309.14,188.38 309.64,188.32 310.14,188.25 310.64,188.19 311.14,188.14 311.64,188.08 312.15,188.03 312.65,187.98 313.15,187.93 313.65,187.89 314.15,187.85 314.65,187.81 315.16,187.77 315.66,187.73 316.16,187.69 316.66,187.66 317.16,187.63 317.67,187.6 318.17,187.57 318.67,187.54 319.17,187.51 319.67,187.48 320.17,187.46 320.67,187.44 321.18,187.41 321.68,187.39 322.18,187.37 322.68,187.35 323.18,187.34 323.69,187.32 324.19,187.3 324.69,187.28 325.19,187.27 325.69,187.25 326.19,187.24 326.69,187.23 327.2,187.21 327.7,187.2 328.2,187.19"/>
<polyline class="cd" points="207.8,272.5 208.3,272.5 208.8,272.5 209.31,272.5 209.81,272.49 210.31,272.49 210.81,272.49 211.31,272.49 211.81,272.48 212.31,272.48 212.82,272.48 213.32,272.47 213.82,272.47 214.32,272.46 214.82,272.46 215.33,272.46 215.83,272.45 216.33,272.45 216.83,272.44 217.33,272.43 217.83,272.43 218.34,272.42 218.84,272.41 219.34,272.4 219.84,272.39 220.34,272.39 220.84,272.38 221.34,272.36 221.85,272.35 222.35,272.34 222.85,272.33 223.35,272.31 223.85,272.3 224.36,272.28 224.86,272.26 225.36,272.25 225.86,272.23 226.36,272.2 226.86,272.18 227.37,272.16 227.87,272.13 228.37,272.1 228.87,272.07 229.37,272.04 229.87,272.01 230.38,271.97 230.88,271.93 231.38,271.89 231.88,271.84 232.38,271.79 232.88,271.74 233.39,271.69 233.89,271.63 234.39,271.56 234.89,271.49 235.39,271.42 235.89,271.34 236.4,271.26 236.9,271.17 237.4,271.08 237.9,270.97 238.4,270.87 238.9,270.75 239.41,270.62 239.91,270.49 240.41,270.35 240.91,270.2 241.41,270.03 241.91,269.86 242.42,269.68 242.92,269.48 243.42,269.27 243.92,269.05 244.42,268.81 244.92,268.55 245.43,268.28 245.93,267.99 246.43,267.68 246.93,267.35 247.43,267.01 247.93,266.63 248.44,266.24 248.94,265.82 249.44,265.38 249.94,264.91 250.44,264.41 250.94,263.88 251.44,263.32 251.95,262.73 252.45,262.1 252.95,261.44 253.45,260.74 253.95,260.01 254.46,259.23 254.96,258.42 255.46,257.57 255.96,256.67 256.46,255.73 256.96,254.75 257.47,253.72 257.97,252.65 258.47,251.53 258.97,250.36 259.47,249.16 259.97,247.9 260.48,246.61 260.98,245.27 261.48,243.88 261.98,242.46 262.48,241 262.98,239.5 263.49,237.97 263.99,236.4 264.49,234.8 264.99,233.18 265.49,231.54 265.99,229.87 266.5,228.19 267,226.5 267.5,224.8 268,223.1 268.5,221.4 269,219.7 269.5,218.01 270.01,216.33 270.51,214.66 271.01,213.02 271.51,211.4 272.01,209.8 272.51,208.23 273.02,206.7 273.52,205.2 274.02,203.74 274.52,202.32 275.02,200.93 275.52,199.59 276.03,198.3 276.53,197.04 277.03,195.84 277.53,194.67 278.03,193.55 278.53,192.48 279.04,191.45 279.54,190.47 280.04,189.53 280.54,188.63 281.04,187.78 281.55,186.97 282.05,186.19 282.55,185.46 283.05,184.76 283.55,184.1 284.05,183.47 284.56,182.88 285.06,182.32 285.56,181.79 286.06,181.29 286.56,180.82 287.06,180.38 287.56,179.96 288.07,179.57 288.57,179.19 289.07,178.85 289.57,178.52 290.07,178.21 290.57,177.92 291.08,177.65 291.58,177.39 292.08,177.15 292.58,176.93 293.08,176.72 293.58,176.52 294.09,176.34 294.59,176.17 295.09,176 295.59,175.85 296.09,175.71 296.59,175.58 297.1,175.45 297.6,175.33 298.1,175.23 298.6,175.12 299.1,175.03 299.61,174.94 300.11,174.86 300.61,174.78 301.11,174.71 301.61,174.64 302.11,174.57 302.62,174.51 303.12,174.46 303.62,174.41 304.12,174.36 304.62,174.31 305.12,174.27 305.62,174.23 306.13,174.19 306.63,174.16 307.13,174.13 307.63,174.1 308.13,174.07 308.63,174.04 309.14,174.02 309.64,174 310.14,173.97 310.64,173.95 311.14,173.94 311.64,173.92 312.15,173.9 312.65,173.89 313.15,173.87 313.65,173.86 314.15,173.85 314.65,173.84 315.16,173.82 315.66,173.81 316.16,173.81 316.66,173.8 317.16,173.79 317.67,173.78 318.17,173.77 318.67,173.77 319.17,173.76 319.67,173.75 320.17,173.75 320.67,173.74 321.18,173.74 321.68,173.74 322.18,173.73 322.68,173.73 323.18,173.72 323.69,173.72 324.19,173.72 324.69,173.71 325.19,173.71 325.69,173.71 326.19,173.71 326.69,173.7 327.2,173.7 327.7,173.7 328.2,173.7"/>
<polyline class="cd" points="207.8,279.37 208.3,279.37 208.8,279.37 209.31,279.37 209.81,279.37 210.31,279.37 210.81,279.37 211.31,279.37 211.81,279.37 212.31,279.37 212.82,279.37 213.32,279.37 213.82,279.37 214.32,279.37 214.82,279.37 215.33,279.37 215.83,279.37 216.33,279.37 216.83,279.36 217.33,279.36 217.83,279.36 218.34,279.36 218.84,279.36 219.34,279.36 219.84,279.36 220.34,279.35 220.84,279.35 221.34,279.35 221.85,279.35 222.35,279.35 222.85,279.34 223.35,279.34 223.85,279.34 224.36,279.33 224.86,279.33 225.36,279.33 225.86,279.32 226.36,279.32 226.86,279.31 227.37,279.3 227.87,279.3 228.37,279.29 228.87,279.28 229.37,279.27 229.87,279.26 230.38,279.25 230.88,279.24 231.38,279.23 231.88,279.21 232.38,279.2 232.88,279.18 233.39,279.16 233.89,279.14 234.39,279.12 234.89,279.1 235.39,279.07 235.89,279.04 236.4,279.01 236.9,278.97 237.4,278.94 237.9,278.9 238.4,278.85 238.9,278.8 239.41,278.75 239.91,278.69 240.41,278.62 240.91,278.55 241.41,278.47 241.91,278.39 242.42,278.29 242.92,278.19 243.42,278.08 243.92,277.96 244.42,277.83 244.92,277.68 245.43,277.52 245.93,277.35 246.43,277.16 246.93,276.96 247.43,276.73 247.93,276.49 248.44,276.22 248.94,275.93 249.44,275.61 249.94,275.26 250.44,274.89 250.94,274.48 251.44,274.04 251.95,273.56 252.45,273.03 252.95,272.47 253.45,271.85 253.95,271.19 254.46,270.47 254.96,269.7 255.46,268.86 255.96,267.96 256.46,267 256.96,265.96 257.47,264.85 257.97,263.66 258.47,262.39 258.97,261.03 259.47,259.59 259.97,258.07 260.48,256.45 260.98,254.75 261.48,252.96 261.98,251.07 262.48,249.11 262.98,247.05 263.49,244.92 263.99,242.71 264.49,240.42 264.99,238.08 265.49,235.67 265.99,233.22 266.5,230.73 267,228.2 267.5,225.66 268,223.1 268.5,220.54 269,218 269.5,215.47 270.01,212.98 270.51,210.53 271.01,208.12 271.51,205.78 272.01,203.49 272.51,201.28 273.02,199.15 273.52,197.09 274.02,195.13 274.52,193.24 275.02,191.45 275.52,189.75 276.03,188.13 276.53,186.61 277.03,185.17 277.53,183.81 278.03,182.54 278.53,181.35 279.04,180.24 279.54,179.2 280.04,178.24 280.54,177.34 281.04,176.5 281.55,175.73 282.05,175.01 282.55,174.35 283.05,173.73 283.55,173.17 284.05,172.64 284.56,172.16 285.06,171.72 285.56,171.31 286.06,170.94 286.56,170.59 287.06,170.27 287.56,169.98 288.07,169.71 288.57,169.47 289.07,169.24 289.57,169.04 290.07,168.85 290.57,168.68 291.08,168.52 291.58,168.37 292.08,168.24 292.58,168.12 293.08,168.01 293.58,167.91 294.09,167.81 294.59,167.73 295.09,167.65 295.59,167.58 296.09,167.51 296.59,167.45 297.1,167.4 297.6,167.35 298.1,167.3 298.6,167.26 299.1,167.23 299.61,167.19 300.11,167.16 300.61,167.13 301.11,167.1 301.61,167.08 302.11,167.06 302.62,167.04 303.12,167.02 303.62,167 304.12,166.99 304.62,166.97 305.12,166.96 305.62,166.95 306.13,166.94 306.63,166.93 307.13,166.92 307.63,166.91 308.13,166.9 308.63,166.9 309.14,166.89 309.64,166.88 310.14,166.88 310.64,166.87 311.14,166.87 311.64,166.87 312.15,166.86 312.65,166.86 313.15,166.86 313.65,166.85 314.15,166.85 314.65,166.85 315.16,166.85 315.66,166.85 316.16,166.84 316.66,166.84 317.16,166.84 317.67,166.84 318.17,166.84 318.67,166.84 319.17,166.84 319.67,166.83 320.17,166.83 320.67,166.83 321.18,166.83 321.68,166.83 322.18,166.83 322.68,166.83 323.18,166.83 323.69,166.83 324.19,166.83 324.69,166.83 325.19,166.83 325.69,166.83 326.19,166.83 326.69,166.83 327.2,166.83 327.7,166.83 328.2,166.83"/>
<polyline class="cd" points="207.8,281.94 208.3,281.94 208.8,281.94 209.31,281.94 209.81,281.94 210.31,281.94 210.81,281.94 211.31,281.94 211.81,281.94 212.31,281.94 212.82,281.94 213.32,281.94 213.82,281.94 214.32,281.94 214.82,281.94 215.33,281.94 215.83,281.94 216.33,281.94 216.83,281.94 217.33,281.94 217.83,281.94 218.34,281.94 218.84,281.94 219.34,281.94 219.84,281.94 220.34,281.94 220.84,281.94 221.34,281.94 221.85,281.94 222.35,281.94 222.85,281.94 223.35,281.94 223.85,281.94 224.36,281.94 224.86,281.94 225.36,281.94 225.86,281.94 226.36,281.94 226.86,281.94 227.37,281.94 227.87,281.94 228.37,281.94 228.87,281.94 229.37,281.94 229.87,281.94 230.38,281.93 230.88,281.93 231.38,281.93 231.88,281.93 232.38,281.93 232.88,281.93 233.39,281.93 233.89,281.93 234.39,281.93 234.89,281.93 235.39,281.93 235.89,281.93 236.4,281.93 236.9,281.93 237.4,281.93 237.9,281.93 238.4,281.93 238.9,281.93 239.41,281.93 239.91,281.92 240.41,281.92 240.91,281.92 241.41,281.92 241.91,281.92 242.42,281.91 242.92,281.91 243.42,281.9 243.92,281.9 244.42,281.89 244.92,281.88 245.43,281.87 245.93,281.86 246.43,281.84 246.93,281.83 247.43,281.81 247.93,281.79 248.44,281.76 248.94,281.73 249.44,281.69 249.94,281.64 250.44,281.59 250.94,281.53 251.44,281.46 251.95,281.37 252.45,281.27 252.95,281.15 253.45,281.01 253.95,280.84 254.46,280.64 254.96,280.41 255.46,280.14 255.96,279.82 256.46,279.44 256.96,279 257.47,278.49 257.97,277.88 258.47,277.18 258.97,276.35 259.47,275.4 259.97,274.29 260.48,273.01 260.98,271.53 261.48,269.84 261.98,267.91 262.48,265.72 262.98,263.24 263.49,260.47 263.99,257.39 264.49,253.99 264.99,250.29 265.49,246.29 265.99,242.02 266.5,237.51 267,232.82 267.5,227.99 268,223.1 268.5,218.21 269,213.38 269.5,208.69 270.01,204.18 270.51,199.91 271.01,195.91 271.51,192.21 272.01,188.81 272.51,185.73 273.02,182.96 273.52,180.48 274.02,178.29 274.52,176.36 275.02,174.67 275.52,173.19 276.03,171.91 276.53,170.8 277.03,169.85 277.53,169.02 278.03,168.32 278.53,167.71 279.04,167.2 279.54,166.76 280.04,166.38 280.54,166.06 281.04,165.79 281.55,165.56 282.05,165.36 282.55,165.19 283.05,165.05 283.55,164.93 284.05,164.83 284.56,164.74 285.06,164.67 285.56,164.61 286.06,164.56 286.56,164.51 287.06,164.47 287.56,164.44 288.07,164.41 288.57,164.39 289.07,164.37 289.57,164.36 290.07,164.34 290.57,164.33 291.08,164.32 291.58,164.31 292.08,164.3 292.58,164.3 293.08,164.29 293.58,164.29 294.09,164.28 294.59,164.28 295.09,164.28 295.59,164.28 296.09,164.28 296.59,164.27 297.1,164.27 297.6,164.27 298.1,164.27 298.6,164.27 299.1,164.27 299.61,164.27 300.11,164.27 300.61,164.27 301.11,164.27 301.61,164.27 302.11,164.27 302.62,164.27 303.12,164.27 303.62,164.27 304.12,164.27 304.62,164.27 305.12,164.27 305.62,164.27 306.13,164.26 306.63,164.26 307.13,164.26 307.63,164.26 308.13,164.26 308.63,164.26 309.14,164.26 309.64,164.26 310.14,164.26 310.64,164.26 311.14,164.26 311.64,164.26 312.15,164.26 312.65,164.26 313.15,164.26 313.65,164.26 314.15,164.26 314.65,164.26 315.16,164.26 315.66,164.26 316.16,164.26 316.66,164.26 317.16,164.26 317.67,164.26 318.17,164.26 318.67,164.26 319.17,164.26 319.67,164.26 320.17,164.26 320.67,164.26 321.18,164.26 321.68,164.26 322.18,164.26 322.68,164.26 323.18,164.26 323.69,164.26 324.19,164.26 324.69,164.26 325.19,164.26 325.69,164.26 326.19,164.26 326.69,164.26 327.2,164.26 327.7,164.26 328.2,164.26"/>
<polyline class="cs" points="207.8,282.53 208.3,282.53 208.8,282.53 209.31,282.53 209.81,282.53 210.31,282.53 210.81,282.53 211.31,282.53 211.81,282.53 212.31,282.53 212.82,282.53 213.32,282.53 213.82,282.53 214.32,282.53 214.82,282.53 215.33,282.53 215.83,282.53 216.33,282.53 216.83,282.53 217.33,282.53 217.83,282.53 218.34,282.53 218.84,282.53 219.34,282.53 219.84,282.53 220.34,282.53 220.84,282.53 221.34,282.53 221.85,282.53 222.35,282.53 222.85,282.53 223.35,282.53 223.85,282.53 224.36,282.53 224.86,282.53 225.36,282.53 225.86,282.53 226.36,282.53 226.86,282.53 227.37,282.53 227.87,282.53 228.37,282.53 228.87,282.53 229.37,282.53 229.87,282.53 230.38,282.53 230.88,282.53 231.38,282.53 231.88,282.53 232.38,282.53 232.88,282.53 233.39,282.53 233.89,282.53 234.39,282.53 234.89,282.53 235.39,282.53 235.89,282.53 236.4,282.53 236.9,282.53 237.4,282.53 237.9,282.53 238.4,282.53 238.9,282.53 239.41,282.53 239.91,282.53 240.41,282.53 240.91,282.53 241.41,282.53 241.91,282.53 242.42,282.53 242.92,282.53 243.42,282.53 243.92,282.53 244.42,282.53 244.92,282.53 245.43,282.53 245.93,282.52 246.43,282.52 246.93,282.52 247.43,282.52 247.93,282.51 248.44,282.51 248.94,282.51 249.44,282.5 249.94,282.49 250.44,282.48 250.94,282.47 251.44,282.45 251.95,282.43 252.45,282.41 252.95,282.38 253.45,282.34 253.95,282.3 254.46,282.24 254.96,282.16 255.46,282.07 255.96,281.96 256.46,281.82 256.96,281.64 257.47,281.42 257.97,281.15 258.47,280.81 258.97,280.39 259.47,279.87 259.97,279.23 260.48,278.44 260.98,277.46 261.48,276.27 261.98,274.81 262.48,273.04 262.98,270.91 263.49,268.36 263.99,265.35 264.49,261.82 264.99,257.74 265.49,253.09 265.99,247.9 266.5,242.21 267,236.09 267.5,229.68 268,223.1 268.5,216.52 269,210.11 269.5,203.99 270.01,198.3 270.51,193.11 271.01,188.46 271.51,184.38 272.01,180.85 272.51,177.84 273.02,175.29 273.52,173.16 274.02,171.39 274.52,169.93 275.02,168.74 275.52,167.76 276.03,166.97 276.53,166.33 277.03,165.81 277.53,165.39 278.03,165.05 278.53,164.78 279.04,164.56 279.54,164.38 280.04,164.24 280.54,164.13 281.04,164.04 281.55,163.96 282.05,163.9 282.55,163.86 283.05,163.82 283.55,163.79 284.05,163.77 284.56,163.75 285.06,163.73 285.56,163.72 286.06,163.71 286.56,163.7 287.06,163.69 287.56,163.69 288.07,163.69 288.57,163.68 289.07,163.68 289.57,163.68 290.07,163.68 290.57,163.67 291.08,163.67 291.58,163.67 292.08,163.67 292.58,163.67 293.08,163.67 293.58,163.67 294.09,163.67 294.59,163.67 295.09,163.67 295.59,163.67 296.09,163.67 296.59,163.67 297.1,163.67 297.6,163.67 298.1,163.67 298.6,163.67 299.1,163.67 299.61,163.67 300.11,163.67 300.61,163.67 301.11,163.67 301.61,163.67 302.11,163.67 302.62,163.67 303.12,163.67 303.62,163.67 304.12,163.67 304.62,163.67 305.12,163.67 305.62,163.67 306.13,163.67 306.63,163.67 307.13,163.67 307.63,163.67 308.13,163.67 308.63,163.67 309.14,163.67 309.64,163.67 310.14,163.67 310.64,163.67 311.14,163.67 311.64,163.67 312.15,163.67 312.65,163.67 313.15,163.67 313.65,163.67 314.15,163.67 314.65,163.67 315.16,163.67 315.66,163.67 316.16,163.67 316.66,163.67 317.16,163.67 317.67,163.67 318.17,163.67 318.67,163.67 319.17,163.67 319.67,163.67 320.17,163.67 320.67,163.67 321.18,163.67 321.68,163.67 322.18,163.67 322.68,163.67 323.18,163.67 323.69,163.67 324.19,163.67 324.69,163.67 325.19,163.67 325.69,163.67 326.19,163.67 326.69,163.67 327.2,163.67 327.7,163.67 328.2,163.67"/>
<polyline class="dt" points="37.9,439.15 38.4,439.15 38.9,439.15 39.41,439.15 39.91,439.15 40.41,439.15 40.91,439.15 41.41,439.15 41.91,439.15 42.41,439.15 42.92,439.15 43.42,439.15 43.92,439.15 44.42,439.15 44.92,439.15 45.42,439.15 45.93,439.15 46.43,439.15 46.93,439.15 47.43,439.15 47.93,439.15 48.44,439.15 48.94,439.15 49.44,439.15 49.94,439.15 50.44,439.15 50.94,439.15 51.45,439.15 51.95,439.15 52.45,439.15 52.95,439.15 53.45,439.15 53.95,439.15 54.45,439.15 54.96,439.15 55.46,439.15 55.96,439.15 56.46,439.15 56.96,439.15 57.46,439.15 57.97,439.15 58.47,439.15 58.97,439.15 59.47,439.15 59.97,439.15 60.48,439.15 60.98,439.15 61.48,439.15 61.98,439.15 62.48,439.15 62.98,439.15 63.48,439.15 63.99,439.15 64.49,439.15 64.99,439.15 65.49,439.15 65.99,439.15 66.5,439.15 67,439.15 67.5,439.15 68,439.15 68.5,439.15 69,439.15 69.5,439.15 70.01,439.15 70.51,439.15 71.01,439.15 71.51,439.15 72.01,439.15 72.52,439.15 73.02,439.15 73.52,439.15 74.02,439.15 74.52,439.15 75.02,439.15 75.53,439.15 76.03,439.15 76.53,439.15 77.03,439.15 77.53,439.15 78.03,439.15 78.53,439.15 79.04,439.15 79.54,439.15 80.04,439.15 80.54,439.15 81.04,439.15 81.55,439.15 82.05,439.15 82.55,439.15 83.05,439.15 83.55,439.14 84.05,439.14 84.56,439.13 85.06,439.12 85.56,439.11 86.06,439.09 86.56,439.07 87.06,439.05 87.56,439.01 88.07,438.96 88.57,438.9 89.07,438.82 89.57,438.71 90.07,438.56 90.58,438.38 91.08,438.14 91.58,437.83 92.08,437.43 92.58,436.92 93.08,436.28 93.58,435.48 94.09,434.48 94.59,433.26 95.09,431.79 95.59,430.06 96.09,428.03 96.59,425.71 97.1,423.1 97.6,420.2 98.1,417.05 98.6,413.66 99.1,410.09 99.6,406.42 100.11,402.71 100.61,399.05 101.11,395.51 101.61,392.14 102.11,388.96 102.62,385.99 103.12,383.22 103.62,380.66 104.12,378.28 104.62,376.07 105.12,374.01 105.62,372.09 106.13,370.29 106.63,368.59 107.13,367 107.63,365.5 108.13,364.07 108.63,362.72 109.14,361.44 109.64,360.22 110.14,359.07 110.64,357.96 111.14,356.91 111.65,355.91 112.15,354.95 112.65,354.04 113.15,353.17 113.65,352.34 114.15,351.55 114.66,350.79 115.16,350.06 115.66,349.37 116.16,348.71 116.66,348.08 117.16,347.47 117.66,346.9 118.17,346.35 118.67,345.82 119.17,345.32 119.67,344.84 120.17,344.38 120.68,343.94 121.18,343.52 121.68,343.12 122.18,342.73 122.68,342.37 123.18,342.02 123.69,341.68 124.19,341.36 124.69,341.06 125.19,340.77 125.69,340.49 126.19,340.22 126.7,339.96 127.2,339.72 127.7,339.49 128.2,339.27 128.7,339.05 129.2,338.85 129.7,338.66 130.21,338.47 130.71,338.29 131.21,338.12 131.71,337.96 132.21,337.81 132.72,337.66 133.22,337.52 133.72,337.38 134.22,337.25 134.72,337.13 135.22,337.01 135.72,336.9 136.23,336.79 136.73,336.69 137.23,336.59 137.73,336.5 138.23,336.41 138.74,336.32 139.24,336.24 139.74,336.16 140.24,336.09 140.74,336.01 141.24,335.95 141.75,335.88 142.25,335.82 142.75,335.76 143.25,335.7 143.75,335.65 144.25,335.59 144.75,335.54 145.26,335.5 145.76,335.45 146.26,335.41 146.76,335.37 147.26,335.33 147.77,335.29 148.27,335.25 148.77,335.22 149.27,335.19 149.77,335.15 150.27,335.12 150.78,335.09 151.28,335.07 151.78,335.04 152.28,335.02 152.78,334.99 153.28,334.97 153.78,334.95 154.29,334.92 154.79,334.9 155.29,334.89 155.79,334.87 156.29,334.85 156.79,334.83 157.3,334.82 157.8,334.8 158.3,334.79"/>
<polyline class="dt" points="37.9,334.79 38.4,334.8 38.9,334.82 39.41,334.83 39.91,334.85 40.41,334.87 40.91,334.89 41.41,334.9 41.91,334.92 42.41,334.95 42.92,334.97 43.42,334.99 43.92,335.02 44.42,335.04 44.92,335.07 45.42,335.09 45.93,335.12 46.43,335.15 46.93,335.19 47.43,335.22 47.93,335.25 48.44,335.29 48.94,335.33 49.44,335.37 49.94,335.41 50.44,335.45 50.94,335.5 51.45,335.54 51.95,335.59 52.45,335.65 52.95,335.7 53.45,335.76 53.95,335.82 54.45,335.88 54.96,335.95 55.46,336.01 55.96,336.09 56.46,336.16 56.96,336.24 57.46,336.32 57.97,336.41 58.47,336.5 58.97,336.59 59.47,336.69 59.97,336.79 60.48,336.9 60.98,337.01 61.48,337.13 61.98,337.25 62.48,337.38 62.98,337.52 63.48,337.66 63.99,337.81 64.49,337.96 64.99,338.12 65.49,338.29 65.99,338.47 66.5,338.66 67,338.85 67.5,339.05 68,339.27 68.5,339.49 69,339.72 69.5,339.96 70.01,340.22 70.51,340.49 71.01,340.77 71.51,341.06 72.01,341.36 72.52,341.68 73.02,342.02 73.52,342.37 74.02,342.73 74.52,343.12 75.02,343.52 75.53,343.94 76.03,344.38 76.53,344.84 77.03,345.32 77.53,345.82 78.03,346.35 78.53,346.9 79.04,347.47 79.54,348.08 80.04,348.71 80.54,349.37 81.04,350.06 81.55,350.79 82.05,351.55 82.55,352.34 83.05,353.17 83.55,354.04 84.05,354.95 84.56,355.91 85.06,356.91 85.56,357.96 86.06,359.07 86.56,360.22 87.06,361.44 87.56,362.72 88.07,364.07 88.57,365.5 89.07,367 89.57,368.59 90.07,370.29 90.58,372.09 91.08,374.01 91.58,376.07 92.08,378.28 92.58,380.66 93.08,383.22 93.58,385.99 94.09,388.96 94.59,392.14 95.09,395.51 95.59,399.05 96.09,402.71 96.59,406.42 97.1,410.09 97.6,413.66 98.1,417.05 98.6,420.2 99.1,423.1 99.6,425.71 100.11,428.03 100.61,430.06 101.11,431.79 101.61,433.26 102.11,434.48 102.62,435.48 103.12,436.28 103.62,436.92 104.12,437.43 104.62,437.83 105.12,438.14 105.62,438.38 106.13,438.56 106.63,438.71 107.13,438.82 107.63,438.9 108.13,438.96 108.63,439.01 109.14,439.05 109.64,439.07 110.14,439.09 110.64,439.11 111.14,439.12 111.65,439.13 112.15,439.14 112.65,439.14 113.15,439.15 113.65,439.15 114.15,439.15 114.66,439.15 115.16,439.15 115.66,439.15 116.16,439.15 116.66,439.15 117.16,439.15 117.66,439.15 118.17,439.15 118.67,439.15 119.17,439.15 119.67,439.15 120.17,439.15 120.68,439.15 121.18,439.15 121.68,439.15 122.18,439.15 122.68,439.15 123.18,439.15 123.69,439.15 124.19,439.15 124.69,439.15 125.19,439.15 125.69,439.15 126.19,439.15 126.7,439.15 127.2,439.15 127.7,439.15 128.2,439.15 128.7,439.15 129.2,439.15 129.7,439.15 130.21,439.15 130.71,439.15 131.21,439.15 131.71,439.15 132.21,439.15 132.72,439.15 133.22,439.15 133.72,439.15 134.22,439.15 134.72,439.15 135.22,439.15 135.72,439.15 136.23,439.15 136.73,439.15 137.23,439.15 137.73,439.15 138.23,439.15 138.74,439.15 139.24,439.15 139.74,439.15 140.24,439.15 140.74,439.15 141.24,439.15 141.75,439.15 142.25,439.15 142.75,439.15 143.25,439.15 143.75,439.15 144.25,439.15 144.75,439.15 145.26,439.15 145.76,439.15 146.26,439.15 146.76,439.15 147.26,439.15 147.77,439.15 148.27,439.15 148.77,439.15 149.27,439.15 149.77,439.15 150.27,439.15 150.78,439.15 151.28,439.15 151.78,439.15 152.28,439.15 152.78,439.15 153.28,439.15 153.78,439.15 154.29,439.15 154.79,439.15 155.29,439.15 155.79,439.15 156.29,439.15 156.79,439.15 157.3,439.15 157.8,439.15 158.3,439.15"/>
<polyline class="cd" points="37.9,334.42 38.4,334.42 38.9,334.42 39.41,334.42 39.91,334.42 40.41,334.42 40.91,334.42 41.41,334.42 41.91,334.42 42.41,334.42 42.92,334.42 43.42,334.42 43.92,334.42 44.42,334.42 44.92,334.42 45.42,334.42 45.93,334.42 46.43,334.42 46.93,334.42 47.43,334.42 47.93,334.42 48.44,334.42 48.94,334.42 49.44,334.42 49.94,334.42 50.44,334.42 50.94,334.42 51.45,334.42 51.95,334.42 52.45,334.42 52.95,334.42 53.45,334.42 53.95,334.42 54.45,334.42 54.96,334.42 55.46,334.42 55.96,334.42 56.46,334.42 56.96,334.42 57.46,334.42 57.97,334.42 58.47,334.42 58.97,334.42 59.47,334.42 59.97,334.42 60.48,334.42 60.98,334.42 61.48,334.42 61.98,334.42 62.48,334.42 62.98,334.42 63.48,334.42 63.99,334.43 64.49,334.43 64.99,334.43 65.49,334.43 65.99,334.44 66.5,334.44 67,334.45 67.5,334.45 68,334.46 68.5,334.47 69,334.48 69.5,334.49 70.01,334.51 70.51,334.53 71.01,334.55 71.51,334.58 72.01,334.61 72.52,334.64 73.02,334.68 73.52,334.72 74.02,334.76 74.52,334.81 75.02,334.86 75.53,334.91 76.03,334.97 76.53,335.02 77.03,335.08 77.53,335.14 78.03,335.2 78.53,335.26 79.04,335.31 79.54,335.37 80.04,335.42 80.54,335.48 81.04,335.53 81.55,335.58 82.05,335.62 82.55,335.66 83.05,335.7 83.55,335.73 84.05,335.76 84.56,335.78 85.06,335.81 85.56,335.83 86.06,335.84 86.56,335.86 87.06,335.87 87.56,335.88 88.07,335.88 88.57,335.89 89.07,335.89 89.57,335.9 90.07,335.9 90.58,335.9 91.08,335.91 91.58,335.91 92.08,335.91 92.58,335.91 93.08,335.91 93.58,335.91 94.09,335.91 94.59,335.91 95.09,335.91 95.59,335.91 96.09,335.92 96.59,335.92 97.1,335.92 97.6,335.92 98.1,335.92 98.6,335.92 99.1,335.92 99.6,335.92 100.11,335.92 100.61,335.91 101.11,335.91 101.61,335.91 102.11,335.91 102.62,335.91 103.12,335.91 103.62,335.91 104.12,335.91 104.62,335.91 105.12,335.91 105.62,335.9 106.13,335.9 106.63,335.9 107.13,335.89 107.63,335.89 108.13,335.88 108.63,335.88 109.14,335.87 109.64,335.86 110.14,335.84 110.64,335.83 111.14,335.81 111.65,335.78 112.15,335.76 112.65,335.73 113.15,335.7 113.65,335.66 114.15,335.62 114.66,335.58 115.16,335.53 115.66,335.48 116.16,335.42 116.66,335.37 117.16,335.31 117.66,335.26 118.17,335.2 118.67,335.14 119.17,335.08 119.67,335.02 120.17,334.97 120.68,334.91 121.18,334.86 121.68,334.81 122.18,334.76 122.68,334.72 123.18,334.68 123.69,334.64 124.19,334.61 124.69,334.58 125.19,334.55 125.69,334.53 126.19,334.51 126.7,334.49 127.2,334.48 127.7,334.47 128.2,334.46 128.7,334.45 129.2,334.45 129.7,334.44 130.21,334.44 130.71,334.43 131.21,334.43 131.71,334.43 132.21,334.43 132.72,334.42 133.22,334.42 133.72,334.42 134.22,334.42 134.72,334.42 135.22,334.42 135.72,334.42 136.23,334.42 136.73,334.42 137.23,334.42 137.73,334.42 138.23,334.42 138.74,334.42 139.24,334.42 139.74,334.42 140.24,334.42 140.74,334.42 141.24,334.42 141.75,334.42 142.25,334.42 142.75,334.42 143.25,334.42 143.75,334.42 144.25,334.42 144.75,334.42 145.26,334.42 145.76,334.42 146.26,334.42 146.76,334.42 147.26,334.42 147.77,334.42 148.27,334.42 148.77,334.42 149.27,334.42 149.77,334.42 150.27,334.42 150.78,334.42 151.28,334.42 151.78,334.42 152.28,334.42 152.78,334.42 153.28,334.42 153.78,334.42 154.29,334.42 154.79,334.42 155.29,334.42 155.79,334.42 156.29,334.42 156.79,334.42 157.3,334.42 157.8,334.42 158.3,334.42"/>
<polyline class="cs" points="37.9,334.42 38.4,334.42 38.9,334.42 39.41,334.42 39.91,334.42 40.41,334.42 40.91,334.42 41.41,334.42 41.91,334.42 42.41,334.42 42.92,334.42 43.42,334.42 43.92,334.42 44.42,334.42 44.92,334.42 45.42,334.42 45.93,334.42 46.43,334.42 46.93,334.42 47.43,334.42 47.93,334.42 48.44,334.42 48.94,334.42 49.44,334.42 49.94,334.42 50.44,334.42 50.94,334.42 51.45,334.42 51.95,334.42 52.45,334.42 52.95,334.42 53.45,334.42 53.95,334.42 54.45,334.42 54.96,334.42 55.46,334.42 55.96,334.42 56.46,334.42 56.96,334.42 57.46,334.42 57.97,334.42 58.47,334.42 58.97,334.42 59.47,334.42 59.97,334.42 60.48,334.42 60.98,334.42 61.48,334.42 61.98,334.43 62.48,334.43 62.98,334.43 63.48,334.43 63.99,334.44 64.49,334.44 64.99,334.45 65.49,334.45 65.99,334.46 66.5,334.47 67,334.48 67.5,334.5 68,334.52 68.5,334.54 69,334.57 69.5,334.61 70.01,334.65 70.51,334.7 71.01,334.76 71.51,334.83 72.01,334.91 72.52,335 73.02,335.11 73.52,335.23 74.02,335.36 74.52,335.5 75.02,335.66 75.53,335.82 76.03,336 76.53,336.18 77.03,336.37 77.53,336.57 78.03,336.77 78.53,336.96 79.04,337.16 79.54,337.36 80.04,337.56 80.54,337.75 81.04,337.93 81.55,338.1 82.05,338.27 82.55,338.43 83.05,338.57 83.55,338.7 84.05,338.82 84.56,338.93 85.06,339.02 85.56,339.1 86.06,339.17 86.56,339.23 87.06,339.28 87.56,339.32 88.07,339.36 88.57,339.39 89.07,339.41 89.57,339.43 90.07,339.44 90.58,339.46 91.08,339.47 91.58,339.48 92.08,339.48 92.58,339.49 93.08,339.49 93.58,339.5 94.09,339.5 94.59,339.5 95.09,339.5 95.59,339.5 96.09,339.51 96.59,339.51 97.1,339.51 97.6,339.51 98.1,339.51 98.6,339.51 99.1,339.51 99.6,339.51 100.11,339.51 100.61,339.5 101.11,339.5 101.61,339.5 102.11,339.5 102.62,339.5 103.12,339.49 103.62,339.49 104.12,339.48 104.62,339.48 105.12,339.47 105.62,339.46 106.13,339.44 106.63,339.43 107.13,339.41 107.63,339.39 108.13,339.36 108.63,339.32 109.14,339.28 109.64,339.23 110.14,339.17 110.64,339.1 111.14,339.02 111.65,338.93 112.15,338.82 112.65,338.7 113.15,338.57 113.65,338.43 114.15,338.27 114.66,338.1 115.16,337.93 115.66,337.75 116.16,337.56 116.66,337.36 117.16,337.16 117.66,336.96 118.17,336.77 118.67,336.57 119.17,336.37 119.67,336.18 120.17,336 120.68,335.82 121.18,335.66 121.68,335.5 122.18,335.36 122.68,335.23 123.18,335.11 123.69,335 124.19,334.91 124.69,334.83 125.19,334.76 125.69,334.7 126.19,334.65 126.7,334.61 127.2,334.57 127.7,334.54 128.2,334.52 128.7,334.5 129.2,334.48 129.7,334.47 130.21,334.46 130.71,334.45 131.21,334.45 131.71,334.44 132.21,334.44 132.72,334.43 133.22,334.43 133.72,334.43 134.22,334.43 134.72,334.42 135.22,334.42 135.72,334.42 136.23,334.42 136.73,334.42 137.23,334.42 137.73,334.42 138.23,334.42 138.74,334.42 139.24,334.42 139.74,334.42 140.24,334.42 140.74,334.42 141.24,334.42 141.75,334.42 142.25,334.42 142.75,334.42 143.25,334.42 143.75,334.42 144.25,334.42 144.75,334.42 145.26,334.42 145.76,334.42 146.26,334.42 146.76,334.42 147.26,334.42 147.77,334.42 148.27,334.42 148.77,334.42 149.27,334.42 149.77,334.42 150.27,334.42 150.78,334.42 151.28,334.42 151.78,334.42 152.28,334.42 152.78,334.42 153.28,334.42 153.78,334.42 154.29,334.42 154.79,334.42 155.29,334.42 155.79,334.42 156.29,334.42 156.79,334.42 157.3,334.42 157.8,334.42 158.3,334.42"/>
<polyline class="cd" points="37.9,334.42 38.4,334.42 38.9,334.42 39.41,334.42 39.91,334.42 40.41,334.42 40.91,334.42 41.41,334.42 41.91,334.42 42.41,334.42 42.92,334.42 43.42,334.42 43.92,334.42 44.42,334.42 44.92,334.42 45.42,334.42 45.93,334.42 46.43,334.42 46.93,334.42 47.43,334.42 47.93,334.42 48.44,334.42 48.94,334.42 49.44,334.42 49.94,334.42 50.44,334.42 50.94,334.42 51.45,334.42 51.95,334.42 52.45,334.42 52.95,334.42 53.45,334.42 53.95,334.42 54.45,334.42 54.96,334.42 55.46,334.42 55.96,334.42 56.46,334.42 56.96,334.42 57.46,334.42 57.97,334.42 58.47,334.42 58.97,334.42 59.47,334.42 59.97,334.42 60.48,334.42 60.98,334.43 61.48,334.43 61.98,334.43 62.48,334.43 62.98,334.44 63.48,334.44 63.99,334.45 64.49,334.45 64.99,334.46 65.49,334.47 65.99,334.48 66.5,334.5 67,334.52 67.5,334.54 68,334.57 68.5,334.61 69,334.65 69.5,334.71 70.01,334.77 70.51,334.85 71.01,334.94 71.51,335.05 72.01,335.18 72.52,335.32 73.02,335.49 73.52,335.67 74.02,335.88 74.52,336.1 75.02,336.35 75.53,336.61 76.03,336.89 76.53,337.18 77.03,337.48 77.53,337.79 78.03,338.1 78.53,338.42 79.04,338.75 79.54,339.08 80.04,339.4 80.54,339.72 81.04,340.04 81.55,340.35 82.05,340.65 82.55,340.94 83.05,341.21 83.55,341.48 84.05,341.72 84.56,341.94 85.06,342.15 85.56,342.34 86.06,342.5 86.56,342.65 87.06,342.77 87.56,342.88 88.07,342.97 88.57,343.05 89.07,343.12 89.57,343.17 90.07,343.21 90.58,343.25 91.08,343.28 91.58,343.3 92.08,343.32 92.58,343.34 93.08,343.35 93.58,343.36 94.09,343.37 94.59,343.38 95.09,343.38 95.59,343.39 96.09,343.39 96.59,343.39 97.1,343.4 97.6,343.4 98.1,343.4 98.6,343.4 99.1,343.4 99.6,343.39 100.11,343.39 100.61,343.39 101.11,343.38 101.61,343.38 102.11,343.37 102.62,343.36 103.12,343.35 103.62,343.34 104.12,343.32 104.62,343.3 105.12,343.28 105.62,343.25 106.13,343.21 106.63,343.17 107.13,343.12 107.63,343.05 108.13,342.97 108.63,342.88 109.14,342.77 109.64,342.65 110.14,342.5 110.64,342.34 111.14,342.15 111.65,341.94 112.15,341.72 112.65,341.48 113.15,341.21 113.65,340.94 114.15,340.65 114.66,340.35 115.16,340.04 115.66,339.72 116.16,339.4 116.66,339.08 117.16,338.75 117.66,338.42 118.17,338.1 118.67,337.79 119.17,337.48 119.67,337.18 120.17,336.89 120.68,336.61 121.18,336.35 121.68,336.1 122.18,335.88 122.68,335.67 123.18,335.49 123.69,335.32 124.19,335.18 124.69,335.05 125.19,334.94 125.69,334.85 126.19,334.77 126.7,334.71 127.2,334.65 127.7,334.61 128.2,334.57 128.7,334.54 129.2,334.52 129.7,334.5 130.21,334.48 130.71,334.47 131.21,334.46 131.71,334.45 132.21,334.45 132.72,334.44 133.22,334.44 133.72,334.43 134.22,334.43 134.72,334.43 135.22,334.43 135.72,334.42 136.23,334.42 136.73,334.42 137.23,334.42 137.73,334.42 138.23,334.42 138.74,334.42 139.24,334.42 139.74,334.42 140.24,334.42 140.74,334.42 141.24,334.42 141.75,334.42 142.25,334.42 142.75,334.42 143.25,334.42 143.75,334.42 144.25,334.42 144.75,334.42 145.26,334.42 145.76,334.42 146.26,334.42 146.76,334.42 147.26,334.42 147.77,334.42 148.27,334.42 148.77,334.42 149.27,334.42 149.77,334.42 150.27,334.42 150.78,334.42 151.28,334.42 151.78,334.42 152.28,334.42 152.78,334.42 153.28,334.42 153.78,334.42 154.29,334.42 154.79,334.42 155.29,334.42 155.79,334.42 156.29,334.42 156.79,334.42 157.3,334.42 157.8,334.42 158.3,334.42"/>
<polyline class="cs" points="37.9,334.42 38.4,334.42 38.9,334.42 39.41,334.42 39.91,334.42 40.41,334.42 40.91,334.42 41.41,334.42 41.91,334.42 42.41,334.42 42.92,334.42 43.42,334.42 43.92,334.42 44.42,334.42 44.92,334.42 45.42,334.42 45.93,334.42 46.43,334.42 46.93,334.42 47.43,334.42 47.93,334.42 48.44,334.42 48.94,334.42 49.44,334.42 49.94,334.42 50.44,334.42 50.94,334.42 51.45,334.42 51.95,334.42 52.45,334.42 52.95,334.42 53.45,334.42 53.95,334.42 54.45,334.42 54.96,334.42 55.46,334.42 55.96,334.42 56.46,334.42 56.96,334.42 57.46,334.42 57.97,334.42 58.47,334.42 58.97,334.42 59.47,334.43 59.97,334.43 60.48,334.43 60.98,334.43 61.48,334.44 61.98,334.44 62.48,334.45 62.98,334.45 63.48,334.46 63.99,334.47 64.49,334.49 64.99,334.5 65.49,334.52 65.99,334.55 66.5,334.58 67,334.61 67.5,334.66 68,334.71 68.5,334.78 69,334.86 69.5,334.95 70.01,335.06 70.51,335.19 71.01,335.33 71.51,335.5 72.01,335.69 72.52,335.9 73.02,336.13 73.52,336.38 74.02,336.64 74.52,336.93 75.02,337.23 75.53,337.54 76.03,337.86 76.53,338.19 77.03,338.52 77.53,338.87 78.03,339.22 78.53,339.57 79.04,339.93 79.54,340.28 80.04,340.64 80.54,341 81.04,341.36 81.55,341.71 82.05,342.07 82.55,342.41 83.05,342.76 83.55,343.1 84.05,343.43 84.56,343.75 85.06,344.06 85.56,344.36 86.06,344.64 86.56,344.91 87.06,345.15 87.56,345.38 88.07,345.59 88.57,345.78 89.07,345.95 89.57,346.1 90.07,346.22 90.58,346.33 91.08,346.43 91.58,346.51 92.08,346.57 92.58,346.63 93.08,346.67 93.58,346.71 94.09,346.74 94.59,346.76 95.09,346.78 95.59,346.8 96.09,346.81 96.59,346.82 97.1,346.83 97.6,346.84 98.1,346.84 98.6,346.84 99.1,346.83 99.6,346.82 100.11,346.81 100.61,346.8 101.11,346.78 101.61,346.76 102.11,346.74 102.62,346.71 103.12,346.67 103.62,346.63 104.12,346.57 104.62,346.51 105.12,346.43 105.62,346.33 106.13,346.22 106.63,346.1 107.13,345.95 107.63,345.78 108.13,345.59 108.63,345.38 109.14,345.15 109.64,344.91 110.14,344.64 110.64,344.36 111.14,344.06 111.65,343.75 112.15,343.43 112.65,343.1 113.15,342.76 113.65,342.41 114.15,342.07 114.66,341.71 115.16,341.36 115.66,341 116.16,340.64 116.66,340.28 117.16,339.93 117.66,339.57 118.17,339.22 118.67,338.87 119.17,338.52 119.67,338.19 120.17,337.86 120.68,337.54 121.18,337.23 121.68,336.93 122.18,336.64 122.68,336.38 123.18,336.13 123.69,335.9 124.19,335.69 124.69,335.5 125.19,335.33 125.69,335.19 126.19,335.06 126.7,334.95 127.2,334.86 127.7,334.78 128.2,334.71 128.7,334.66 129.2,334.61 129.7,334.58 130.21,334.55 130.71,334.52 131.21,334.5 131.71,334.49 132.21,334.47 132.72,334.46 133.22,334.45 133.72,334.45 134.22,334.44 134.72,334.44 135.22,334.43 135.72,334.43 136.23,334.43 136.73,334.43 137.23,334.42 137.73,334.42 138.23,334.42 138.74,334.42 139.24,334.42 139.74,334.42 140.24,334.42 140.74,334.42 141.24,334.42 141.75,334.42 142.25,334.42 142.75,334.42 143.25,334.42 143.75,334.42 144.25,334.42 144.75,334.42 145.26,334.42 145.76,334.42 146.26,334.42 146.76,334.42 147.26,334.42 147.77,334.42 148.27,334.42 148.77,334.42 149.27,334.42 149.77,334.42 150.27,334.42 150.78,334.42 151.28,334.42 151.78,334.42 152.28,334.42 152.78,334.42 153.28,334.42 153.78,334.42 154.29,334.42 154.79,334.42 155.29,334.42 155.79,334.42 156.29,334.42 156.79,334.42 157.3,334.42 157.8,334.42 158.3,334.42"/>
<polyline class="cd" points="37.9,334.42 38.4,334.42 38.9,334.42 39.41,334.42 39.91,334.42 40.41,334.42 40.91,334.42 41.41,334.42 41.91,334.42 42.41,334.42 42.92,334.42 43.42,334.42 43.92,334.42 44.42,334.42 44.92,334.42 45.42,334.42 45.93,334.42 46.43,334.42 46.93,334.42 47.43,334.42 47.93,334.42 48.44,334.42 48.94,334.42 49.44,334.42 49.94,334.42 50.44,334.42 50.94,334.42 51.45,334.42 51.95,334.42 52.45,334.42 52.95,334.42 53.45,334.42 53.95,334.42 54.45,334.42 54.96,334.42 55.46,334.42 55.96,334.42 56.46,334.42 56.96,334.42 57.46,334.42 57.97,334.42 58.47,334.42 58.97,334.42 59.47,334.42 59.97,334.43 60.48,334.43 60.98,334.43 61.48,334.43 61.98,334.43 62.48,334.44 62.98,334.44 63.48,334.45 63.99,334.46 64.49,334.47 64.99,334.48 65.49,334.49 65.99,334.51 66.5,334.54 67,334.56 67.5,334.6 68,334.64 68.5,334.69 69,334.75 69.5,334.83 70.01,334.92 70.51,335.03 71.01,335.15 71.51,335.3 72.01,335.47 72.52,335.66 73.02,335.88 73.52,336.12 74.02,336.39 74.52,336.68 75.02,336.99 75.53,337.32 76.03,337.66 76.53,338.02 77.03,338.4 77.53,338.78 78.03,339.18 78.53,339.58 79.04,339.99 79.54,340.41 80.04,340.83 80.54,341.25 81.04,341.67 81.55,342.1 82.05,342.53 82.55,342.95 83.05,343.38 83.55,343.81 84.05,344.23 84.56,344.66 85.06,345.08 85.56,345.5 86.06,345.91 86.56,346.32 87.06,346.72 87.56,347.11 88.07,347.49 88.57,347.86 89.07,348.21 89.57,348.55 90.07,348.88 90.58,349.18 91.08,349.46 91.58,349.71 92.08,349.94 92.58,350.15 93.08,350.34 93.58,350.5 94.09,350.63 94.59,350.75 95.09,350.85 95.59,350.94 96.09,351.01 96.59,351.07 97.1,351.11 97.6,351.15 98.1,351.18 98.6,351.15 99.1,351.11 99.6,351.07 100.11,351.01 100.61,350.94 101.11,350.85 101.61,350.75 102.11,350.63 102.62,350.5 103.12,350.34 103.62,350.15 104.12,349.94 104.62,349.71 105.12,349.46 105.62,349.18 106.13,348.88 106.63,348.55 107.13,348.21 107.63,347.86 108.13,347.49 108.63,347.11 109.14,346.72 109.64,346.32 110.14,345.91 110.64,345.5 111.14,345.08 111.65,344.66 112.15,344.23 112.65,343.81 113.15,343.38 113.65,342.95 114.15,342.53 114.66,342.1 115.16,341.67 115.66,341.25 116.16,340.83 116.66,340.41 117.16,339.99 117.66,339.58 118.17,339.18 118.67,338.78 119.17,338.4 119.67,338.02 120.17,337.66 120.68,337.32 121.18,336.99 121.68,336.68 122.18,336.39 122.68,336.12 123.18,335.88 123.69,335.66 124.19,335.47 124.69,335.3 125.19,335.15 125.69,335.03 126.19,334.92 126.7,334.83 127.2,334.75 127.7,334.69 128.2,334.64 128.7,334.6 129.2,334.56 129.7,334.54 130.21,334.51 130.71,334.49 131.21,334.48 131.71,334.47 132.21,334.46 132.72,334.45 133.22,334.44 133.72,334.44 134.22,334.43 134.72,334.43 135.22,334.43 135.72,334.43 136.23,334.43 136.73,334.42 137.23,334.42 137.73,334.42 138.23,334.42 138.74,334.42 139.24,334.42 139.74,334.42 140.24,334.42 140.74,334.42 141.24,334.42 141.75,334.42 142.25,334.42 142.75,334.42 143.25,334.42 143.75,334.42 144.25,334.42 144.75,334.42 145.26,334.42 145.76,334.42 146.26,334.42 146.76,334.42 147.26,334.42 147.77,334.42 148.27,334.42 148.77,334.42 149.27,334.42 149.77,334.42 150.27,334.42 150.78,334.42 151.28,334.42 151.78,334.42 152.28,334.42 152.78,334.42 153.28,334.42 153.78,334.42 154.29,334.42 154.79,334.42 155.29,334.42 155.79,334.42 156.29,334.42 156.79,334.42 157.3,334.42 157.8,334.42 158.3,334.42"/>
<polyline class="cs" points="37.9,334.42 38.4,334.42 38.9,334.42 39.41,334.42 39.91,334.42 40.41,334.42 40.91,334.42 41.41,334.42 41.91,334.42 42.41,334.42 42.92,334.42 43.42,334.42 43.92,334.42 44.42,334.42 44.92,334.42 45.42,334.42 45.93,334.42 46.43,334.42 46.93,334.42 47.43,334.42 47.93,334.42 48.44,334.42 48.94,334.42 49.44,334.42 49.94,334.42 50.44,334.42 50.94,334.42 51.45,334.42 51.95,334.42 52.45,334.42 52.95,334.42 53.45,334.42 53.95,334.42 54.45,334.42 54.96,334.42 55.46,334.42 55.96,334.42 56.46,334.42 56.96,334.42 57.46,334.42 57.97,334.42 58.47,334.42 58.97,334.42 59.47,334.42 59.97,334.42 60.48,334.42 60.98,334.42 61.48,334.43 61.98,334.43 62.48,334.43 62.98,334.43 63.48,334.44 63.99,334.44 64.49,334.45 64.99,334.45 65.49,334.46 65.99,334.47 66.5,334.49 67,334.51 67.5,334.53 68,334.55 68.5,334.58 69,334.62 69.5,334.67 70.01,334.73 70.51,334.81 71.01,334.9 71.51,335 72.01,335.13 72.52,335.28 73.02,335.46 73.52,335.67 74.02,335.91 74.52,336.18 75.02,336.49 75.53,336.83 76.03,337.2 76.53,337.6 77.03,338.04 77.53,338.5 78.03,338.98 78.53,339.49 79.04,340.01 79.54,340.55 80.04,341.1 80.54,341.66 81.04,342.23 81.55,342.81 82.05,343.4 82.55,343.99 83.05,344.58 83.55,345.18 84.05,345.77 84.56,346.37 85.06,346.97 85.56,347.57 86.06,348.18 86.56,348.77 87.06,349.37 87.56,349.97 88.07,350.56 88.57,351.15 89.07,351.74 89.57,352.32 90.07,352.89 90.58,353.45 91.08,354 91.58,354.54 92.08,355.06 92.58,355.57 93.08,356.05 93.58,356.51 94.09,356.95 94.59,357.35 95.09,357.72 95.59,358.06 96.09,358.37 96.59,358.64 97.1,358.88 97.6,359.09 98.1,359.27 98.6,359.09 99.1,358.88 99.6,358.64 100.11,358.37 100.61,358.06 101.11,357.72 101.61,357.35 102.11,356.95 102.62,356.51 103.12,356.05 103.62,355.57 104.12,355.06 104.62,354.54 105.12,354 105.62,353.45 106.13,352.89 106.63,352.32 107.13,351.74 107.63,351.15 108.13,350.56 108.63,349.97 109.14,349.37 109.64,348.77 110.14,348.18 110.64,347.57 111.14,346.97 111.65,346.37 112.15,345.77 112.65,345.18 113.15,344.58 113.65,343.99 114.15,343.4 114.66,342.81 115.16,342.23 115.66,341.66 116.16,341.1 116.66,340.55 117.16,340.01 117.66,339.49 118.17,338.98 118.67,338.5 119.17,338.04 119.67,337.6 120.17,337.2 120.68,336.83 121.18,336.49 121.68,336.18 122.18,335.91 122.68,335.67 123.18,335.46 123.69,335.28 124.19,335.13 124.69,335 125.19,334.9 125.69,334.81 126.19,334.73 126.7,334.67 127.2,334.62 127.7,334.58 128.2,334.55 128.7,334.53 129.2,334.51 129.7,334.49 130.21,334.47 130.71,334.46 131.21,334.45 131.71,334.45 132.21,334.44 132.72,334.44 133.22,334.43 133.72,334.43 134.22,334.43 134.72,334.43 135.22,334.42 135.72,334.42 136.23,334.42 136.73,334.42 137.23,334.42 137.73,334.42 138.23,334.42 138.74,334.42 139.24,334.42 139.74,334.42 140.24,334.42 140.74,334.42 141.24,334.42 141.75,334.42 142.25,334.42 142.75,334.42 143.25,334.42 143.75,334.42 144.25,334.42 144.75,334.42 145.26,334.42 145.76,334.42 146.26,334.42 146.76,334.42 147.26,334.42 147.77,334.42 148.27,334.42 148.77,334.42 149.27,334.42 149.77,334.42 150.27,334.42 150.78,334.42 151.28,334.42 151.78,334.42 152.28,334.42 152.78,334.42 153.28,334.42 153.78,334.42 154.29,334.42 154.79,334.42 155.29,334.42 155.79,334.42 156.29,334.42 156.79,334.42 157.3,334.42 157.8,334.42 158.3,334.42"/>
<polyline class="cd" points="37.9,334.42 38.4,334.42 38.9,334.42 39.41,334.42 39.91,334.42 40.41,334.42 40.91,334.42 41.41,334.42 41.91,334.42 42.41,334.42 42.92,334.42 43.42,334.42 43.92,334.42 44.42,334.42 44.92,334.42 45.42,334.42 45.93,334.42 46.43,334.42 46.93,334.42 47.43,334.42 47.93,334.42 48.44,334.42 48.94,334.42 49.44,334.42 49.94,334.42 50.44,334.42 50.94,334.42 51.45,334.42 51.95,334.42 52.45,334.42 52.95,334.42 53.45,334.42 53.95,334.42 54.45,334.42 54.96,334.42 55.46,334.42 55.96,334.42 56.46,334.42 56.96,334.42 57.46,334.42 57.97,334.42 58.47,334.42 58.97,334.42 59.47,334.42 59.97,334.42 60.48,334.42 60.98,334.42 61.48,334.42 61.98,334.42 62.48,334.42 62.98,334.43 63.48,334.43 63.99,334.43 64.49,334.43 64.99,334.43 65.49,334.44 65.99,334.44 66.5,334.45 67,334.46 67.5,334.47 68,334.48 68.5,334.49 69,334.51 69.5,334.53 70.01,334.56 70.51,334.59 71.01,334.64 71.51,334.69 72.01,334.76 72.52,334.84 73.02,334.93 73.52,335.05 74.02,335.2 74.52,335.37 75.02,335.58 75.53,335.83 76.03,336.13 76.53,336.47 77.03,336.87 77.53,337.32 78.03,337.83 78.53,338.39 79.04,339.01 79.54,339.69 80.04,340.41 80.54,341.18 81.04,341.99 81.55,342.84 82.05,343.72 82.55,344.62 83.05,345.55 83.55,346.49 84.05,347.45 84.56,348.43 85.06,349.41 85.56,350.4 86.06,351.39 86.56,352.39 87.06,353.39 87.56,354.39 88.07,355.39 88.57,356.39 89.07,357.39 89.57,358.37 90.07,359.35 90.58,360.32 91.08,361.28 91.58,362.22 92.08,363.14 92.58,364.03 93.08,364.9 93.58,365.73 94.09,366.53 94.59,367.29 95.09,367.99 95.59,368.65 96.09,369.25 96.59,369.8 97.1,370.28 97.6,370.72 98.1,371.09 98.6,370.72 99.1,370.28 99.6,369.8 100.11,369.25 100.61,368.65 101.11,367.99 101.61,367.29 102.11,366.53 102.62,365.73 103.12,364.9 103.62,364.03 104.12,363.14 104.62,362.22 105.12,361.28 105.62,360.32 106.13,359.35 106.63,358.37 107.13,357.39 107.63,356.39 108.13,355.39 108.63,354.39 109.14,353.39 109.64,352.39 110.14,351.39 110.64,350.4 111.14,349.41 111.65,348.43 112.15,347.45 112.65,346.49 113.15,345.55 113.65,344.62 114.15,343.72 114.66,342.84 115.16,341.99 115.66,341.18 116.16,340.41 116.66,339.69 117.16,339.01 117.66,338.39 118.17,337.83 118.67,337.32 119.17,336.87 119.67,336.47 120.17,336.13 120.68,335.83 121.18,335.58 121.68,335.37 122.18,335.2 122.68,335.05 123.18,334.93 123.69,334.84 124.19,334.76 124.69,334.69 125.19,334.64 125.69,334.59 126.19,334.56 126.7,334.53 127.2,334.51 127.7,334.49 128.2,334.48 128.7,334.47 129.2,334.46 129.7,334.45 130.21,334.44 130.71,334.44 131.21,334.43 131.71,334.43 132.21,334.43 132.72,334.43 133.22,334.43 133.72,334.42 134.22,334.42 134.72,334.42 135.22,334.42 135.72,334.42 136.23,334.42 136.73,334.42 137.23,334.42 137.73,334.42 138.23,334.42 138.74,334.42 139.24,334.42 139.74,334.42 140.24,334.42 140.74,334.42 141.24,334.42 141.75,334.42 142.25,334.42 142.75,334.42 143.25,334.42 143.75,334.42 144.25,334.42 144.75,334.42 145.26,334.42 145.76,334.42 146.26,334.42 146.76,334.42 147.26,334.42 147.77,334.42 148.27,334.42 148.77,334.42 149.27,334.42 149.77,334.42 150.27,334.42 150.78,334.42 151.28,334.42 151.78,334.42 152.28,334.42 152.78,334.42 153.28,334.42 153.78,334.42 154.29,334.42 154.79,334.42 155.29,334.42 155.79,334.42 156.29,334.42 156.79,334.42 157.3,334.42 157.8,334.42 158.3,334.42"/>
<polyline class="cs" points="37.9,334.73 38.4,334.75 38.9,334.76 39.41,334.78 39.91,334.8 40.41,334.81 40.91,334.83 41.41,334.85 41.91,334.87 42.41,334.89 42.92,334.92 43.42,334.94 43.92,334.96 44.42,334.99 44.92,335.01 45.42,335.04 45.93,335.07 46.43,335.1 46.93,335.13 47.43,335.17 47.93,335.2 48.44,335.24 48.94,335.28 49.44,335.31 49.94,335.36 50.44,335.4 50.94,335.45 51.45,335.49 51.95,335.54 52.45,335.6 52.95,335.65 53.45,335.71 53.95,335.77 54.45,335.83 54.96,335.89 55.46,335.96 55.96,336.03 56.46,336.11 56.96,336.19 57.46,336.27 57.97,336.36 58.47,336.45 58.97,336.54 59.47,336.64 59.97,336.74 60.48,336.85 60.98,336.96 61.48,337.08 61.98,337.2 62.48,337.33 62.98,337.47 63.48,337.61 63.99,337.76 64.49,337.91 64.99,338.07 65.49,338.24 65.99,338.42 66.5,338.61 67,338.8 67.5,339 68,339.22 68.5,339.44 69,339.67 69.5,339.92 70.01,340.17 70.51,340.44 71.01,340.72 71.51,341.01 72.01,341.31 72.52,341.63 73.02,341.97 73.52,342.32 74.02,342.68 74.52,343.07 75.02,343.47 75.53,343.89 76.03,344.33 76.53,344.79 77.03,345.27 77.53,345.77 78.03,346.3 78.53,346.85 79.04,347.43 79.54,348.03 80.04,348.66 80.54,349.32 81.04,350.01 81.55,350.74 82.05,351.49 82.55,352.29 83.05,353.12 83.55,353.98 84.05,354.89 84.56,355.84 85.06,356.83 85.56,357.87 86.06,358.96 86.56,360.1 87.06,361.29 87.56,362.53 88.07,363.83 88.57,365.19 89.07,366.62 89.57,368.1 90.07,369.65 90.58,371.27 91.08,372.95 91.58,374.7 92.08,376.51 92.58,378.38 93.08,380.3 93.58,382.26 94.09,384.24 94.59,386.2 95.09,388.11 95.59,389.91 96.09,391.54 96.59,392.93 97.1,393.99 97.6,394.66 98.1,394.89 98.6,394.66 99.1,393.99 99.6,392.93 100.11,391.54 100.61,389.91 101.11,388.11 101.61,386.2 102.11,384.24 102.62,382.26 103.12,380.3 103.62,378.38 104.12,376.51 104.62,374.7 105.12,372.95 105.62,371.27 106.13,369.65 106.63,368.1 107.13,366.62 107.63,365.19 108.13,363.83 108.63,362.53 109.14,361.29 109.64,360.1 110.14,358.96 110.64,357.87 111.14,356.83 111.65,355.84 112.15,354.89 112.65,353.98 113.15,353.12 113.65,352.29 114.15,351.49 114.66,350.74 115.16,350.01 115.66,349.32 116.16,348.66 116.66,348.03 117.16,347.43 117.66,346.85 118.17,346.3 118.67,345.77 119.17,345.27 119.67,344.79 120.17,344.33 120.68,343.89 121.18,343.47 121.68,343.07 122.18,342.68 122.68,342.32 123.18,341.97 123.69,341.63 124.19,341.31 124.69,341.01 125.19,340.72 125.69,340.44 126.19,340.17 126.7,339.92 127.2,339.67 127.7,339.44 128.2,339.22 128.7,339 129.2,338.8 129.7,338.61 130.21,338.42 130.71,338.24 131.21,338.07 131.71,337.91 132.21,337.76 132.72,337.61 133.22,337.47 133.72,337.33 134.22,337.2 134.72,337.08 135.22,336.96 135.72,336.85 136.23,336.74 136.73,336.64 137.23,336.54 137.73,336.45 138.23,336.36 138.74,336.27 139.24,336.19 139.74,336.11 140.24,336.03 140.74,335.96 141.24,335.89 141.75,335.83 142.25,335.77 142.75,335.71 143.25,335.65 143.75,335.6 144.25,335.54 144.75,335.49 145.26,335.45 145.76,335.4 146.26,335.36 146.76,335.31 147.26,335.28 147.77,335.24 148.27,335.2 148.77,335.17 149.27,335.13 149.77,335.1 150.27,335.07 150.78,335.04 151.28,335.01 151.78,334.99 152.28,334.96 152.78,334.94 153.28,334.92 153.78,334.89 154.29,334.87 154.79,334.85 155.29,334.83 155.79,334.81 156.29,334.8 156.79,334.78 157.3,334.76 157.8,334.75 158.3,334.73"/>
<line class="c0" x1="207.8" y1="379.02" x2="328.2" y2="379.02"/>
<polyline class="cd" points="207.8,397.14 208.3,397.1 208.8,397.06 209.31,397.02 209.81,396.98 210.31,396.93 210.81,396.89 211.31,396.84 211.81,396.8 212.31,396.75 212.82,396.7 213.32,396.65 213.82,396.59 214.32,396.54 214.82,396.49 215.33,396.43 215.83,396.37 216.33,396.31 216.83,396.25 217.33,396.19 217.83,396.13 218.34,396.07 218.84,396 219.34,395.93 219.84,395.86 220.34,395.79 220.84,395.72 221.34,395.65 221.85,395.57 222.35,395.49 222.85,395.41 223.35,395.33 223.85,395.25 224.36,395.17 224.86,395.08 225.36,394.99 225.86,394.9 226.36,394.81 226.86,394.72 227.37,394.62 227.87,394.52 228.37,394.42 228.87,394.32 229.37,394.21 229.87,394.11 230.38,394 230.88,393.89 231.38,393.77 231.88,393.66 232.38,393.54 232.88,393.42 233.39,393.3 233.89,393.17 234.39,393.04 234.89,392.91 235.39,392.78 235.89,392.65 236.4,392.51 236.9,392.37 237.4,392.23 237.9,392.08 238.4,391.93 238.9,391.78 239.41,391.63 239.91,391.47 240.41,391.31 240.91,391.15 241.41,390.99 241.91,390.82 242.41,390.65 242.92,390.48 243.42,390.31 243.92,390.13 244.42,389.95 244.92,389.77 245.43,389.58 245.93,389.4 246.43,389.2 246.93,389.01 247.43,388.82 247.93,388.62 248.44,388.42 248.94,388.21 249.44,388.01 249.94,387.8 250.44,387.59 250.94,387.37 251.44,387.16 251.95,386.94 252.45,386.72 252.95,386.49 253.45,386.27 253.95,386.04 254.46,385.81 254.96,385.58 255.46,385.35 255.96,385.11 256.46,384.87 256.96,384.63 257.46,384.39 257.97,384.15 258.47,383.9 258.97,383.65 259.47,383.41 259.97,383.16 260.48,382.91 260.98,382.65 261.48,382.4 261.98,382.14 262.48,381.89 262.98,381.63 263.49,381.37 263.99,381.11 264.49,380.85 264.99,380.59 265.49,380.33 265.99,380.07 266.5,379.81 267,379.55 267.5,379.29 268,379.02 268.5,378.76 269,378.5 269.5,378.24 270.01,377.98 270.51,377.72 271.01,377.46 271.51,377.2 272.01,376.94 272.51,376.68 273.02,376.42 273.52,376.16 274.02,375.91 274.52,375.65 275.02,375.4 275.52,375.14 276.03,374.89 276.53,374.64 277.03,374.4 277.53,374.15 278.03,373.9 278.53,373.66 279.04,373.42 279.54,373.18 280.04,372.94 280.54,372.7 281.04,372.47 281.55,372.24 282.05,372.01 282.55,371.78 283.05,371.56 283.55,371.33 284.05,371.11 284.56,370.89 285.06,370.68 285.56,370.46 286.06,370.25 286.56,370.04 287.06,369.84 287.56,369.63 288.07,369.43 288.57,369.23 289.07,369.04 289.57,368.85 290.07,368.65 290.57,368.47 291.08,368.28 291.58,368.1 292.08,367.92 292.58,367.74 293.08,367.57 293.58,367.4 294.09,367.23 294.59,367.06 295.09,366.9 295.59,366.74 296.09,366.58 296.6,366.42 297.1,366.27 297.6,366.12 298.1,365.97 298.6,365.82 299.1,365.68 299.61,365.54 300.11,365.4 300.61,365.27 301.11,365.14 301.61,365.01 302.11,364.88 302.62,364.75 303.12,364.63 303.62,364.51 304.12,364.39 304.62,364.28 305.12,364.16 305.62,364.05 306.13,363.94 306.63,363.84 307.13,363.73 307.63,363.63 308.13,363.53 308.63,363.43 309.14,363.33 309.64,363.24 310.14,363.15 310.64,363.06 311.14,362.97 311.64,362.88 312.15,362.8 312.65,362.72 313.15,362.64 313.65,362.56 314.15,362.48 314.65,362.4 315.16,362.33 315.66,362.26 316.16,362.19 316.66,362.12 317.16,362.05 317.66,361.98 318.17,361.92 318.67,361.86 319.17,361.8 319.67,361.74 320.17,361.68 320.67,361.62 321.18,361.56 321.68,361.51 322.18,361.46 322.68,361.4 323.18,361.35 323.69,361.3 324.19,361.25 324.69,361.21 325.19,361.16 325.69,361.12 326.19,361.07 326.69,361.03 327.2,360.99 327.7,360.95 328.2,360.91"/>
<polyline class="cs" points="207.8,418.41 208.3,418.38 208.8,418.36 209.31,418.34 209.81,418.31 210.31,418.28 210.81,418.26 211.31,418.23 211.81,418.2 212.31,418.17 212.82,418.13 213.32,418.1 213.82,418.06 214.32,418.03 214.82,417.99 215.33,417.95 215.83,417.91 216.33,417.86 216.83,417.82 217.33,417.77 217.83,417.72 218.34,417.67 218.84,417.62 219.34,417.56 219.84,417.5 220.34,417.44 220.84,417.38 221.34,417.32 221.85,417.25 222.35,417.18 222.85,417.11 223.35,417.03 223.85,416.95 224.36,416.87 224.86,416.78 225.36,416.69 225.86,416.6 226.36,416.5 226.86,416.4 227.37,416.3 227.87,416.19 228.37,416.08 228.87,415.96 229.37,415.84 229.87,415.71 230.38,415.58 230.88,415.44 231.38,415.3 231.88,415.15 232.38,415 232.88,414.84 233.39,414.68 233.89,414.51 234.39,414.33 234.89,414.14 235.39,413.95 235.89,413.75 236.4,413.55 236.9,413.33 237.4,413.11 237.9,412.88 238.4,412.65 238.9,412.4 239.41,412.15 239.91,411.88 240.41,411.61 240.91,411.33 241.41,411.04 241.91,410.73 242.41,410.42 242.92,410.1 243.42,409.77 243.92,409.42 244.42,409.07 244.92,408.7 245.43,408.33 245.93,407.94 246.43,407.53 246.93,407.12 247.43,406.7 247.93,406.26 248.44,405.81 248.94,405.34 249.44,404.87 249.94,404.38 250.44,403.87 250.94,403.36 251.44,402.83 251.95,402.29 252.45,401.73 252.95,401.16 253.45,400.58 253.95,399.98 254.46,399.37 254.96,398.75 255.46,398.12 255.96,397.47 256.46,396.81 256.96,396.14 257.46,395.45 257.97,394.76 258.47,394.05 258.97,393.33 259.47,392.6 259.97,391.86 260.48,391.11 260.98,390.35 261.48,389.58 261.98,388.8 262.48,388.02 262.98,387.22 263.49,386.42 263.99,385.62 264.49,384.81 264.99,383.99 265.49,383.17 265.99,382.34 266.5,381.52 267,380.69 267.5,379.86 268,379.02 268.5,378.19 269,377.36 269.5,376.53 270.01,375.71 270.51,374.88 271.01,374.06 271.51,373.24 272.01,372.43 272.51,371.63 273.02,370.83 273.52,370.03 274.02,369.25 274.52,368.47 275.02,367.7 275.52,366.94 276.03,366.19 276.53,365.45 277.03,364.72 277.53,364 278.03,363.29 278.53,362.6 279.04,361.91 279.54,361.24 280.04,360.58 280.54,359.93 281.04,359.3 281.55,358.68 282.05,358.07 282.55,357.47 283.05,356.89 283.55,356.32 284.05,355.76 284.56,355.22 285.06,354.69 285.56,354.18 286.06,353.67 286.56,353.18 287.06,352.71 287.56,352.24 288.07,351.79 288.57,351.35 289.07,350.93 289.57,350.52 290.07,350.11 290.57,349.72 291.08,349.35 291.58,348.98 292.08,348.63 292.58,348.28 293.08,347.95 293.58,347.63 294.09,347.32 294.59,347.01 295.09,346.72 295.59,346.44 296.09,346.17 296.6,345.9 297.1,345.65 297.6,345.4 298.1,345.17 298.6,344.94 299.1,344.72 299.61,344.5 300.11,344.3 300.61,344.1 301.11,343.91 301.61,343.72 302.11,343.54 302.62,343.37 303.12,343.21 303.62,343.05 304.12,342.9 304.62,342.75 305.12,342.61 305.62,342.47 306.13,342.34 306.63,342.21 307.13,342.09 307.63,341.97 308.13,341.86 308.63,341.75 309.14,341.65 309.64,341.55 310.14,341.45 310.64,341.36 311.14,341.27 311.64,341.18 312.15,341.1 312.65,341.02 313.15,340.94 313.65,340.87 314.15,340.8 314.65,340.73 315.16,340.67 315.66,340.61 316.16,340.55 316.66,340.49 317.16,340.43 317.66,340.38 318.17,340.33 318.67,340.28 319.17,340.23 319.67,340.19 320.17,340.14 320.67,340.1 321.18,340.06 321.68,340.02 322.18,339.99 322.68,339.95 323.18,339.92 323.69,339.88 324.19,339.85 324.69,339.82 325.19,339.79 325.69,339.77 326.19,339.74 326.69,339.71 327.2,339.69 327.7,339.67 328.2,339.64"/>
<polyline class="cd" points="207.8,427.75 208.3,427.75 208.8,427.74 209.31,427.73 209.81,427.72 210.31,427.71 210.81,427.7 211.31,427.69 211.81,427.68 212.31,427.67 212.82,427.66 213.32,427.65 213.82,427.63 214.32,427.62 214.82,427.61 215.33,427.59 215.83,427.57 216.33,427.56 216.83,427.54 217.33,427.52 217.83,427.5 218.34,427.48 218.84,427.46 219.34,427.43 219.84,427.41 220.34,427.38 220.84,427.35 221.34,427.32 221.85,427.29 222.35,427.26 222.85,427.22 223.35,427.19 223.85,427.15 224.36,427.1 224.86,427.06 225.36,427.02 225.86,426.97 226.36,426.91 226.86,426.86 227.37,426.8 227.87,426.74 228.37,426.68 228.87,426.61 229.37,426.54 229.87,426.46 230.38,426.38 230.88,426.3 231.38,426.21 231.88,426.12 232.38,426.02 232.88,425.92 233.39,425.81 233.89,425.69 234.39,425.57 234.89,425.44 235.39,425.31 235.89,425.16 236.4,425.01 236.9,424.85 237.4,424.69 237.9,424.51 238.4,424.33 238.9,424.13 239.41,423.93 239.91,423.71 240.41,423.48 240.91,423.24 241.41,422.99 241.91,422.73 242.41,422.45 242.92,422.16 243.42,421.85 243.92,421.53 244.42,421.19 244.92,420.84 245.43,420.46 245.93,420.08 246.43,419.67 246.93,419.24 247.43,418.79 247.93,418.32 248.44,417.83 248.94,417.32 249.44,416.79 249.94,416.23 250.44,415.65 250.94,415.04 251.44,414.41 251.95,413.75 252.45,413.07 252.95,412.35 253.45,411.62 253.95,410.85 254.46,410.05 254.96,409.23 255.46,408.38 255.96,407.49 256.46,406.58 256.96,405.64 257.46,404.68 257.97,403.68 258.47,402.65 258.97,401.6 259.47,400.52 259.97,399.41 260.48,398.28 260.98,397.12 261.48,395.94 261.98,394.73 262.48,393.5 262.98,392.26 263.49,390.99 263.99,389.71 264.49,388.41 264.99,387.09 265.49,385.77 265.99,384.43 266.5,383.09 267,381.74 267.5,380.38 268,379.02 268.5,377.67 269,376.31 269.5,374.96 270.01,373.62 270.51,372.28 271.01,370.96 271.51,369.64 272.01,368.34 272.51,367.06 273.02,365.79 273.52,364.55 274.02,363.32 274.52,362.11 275.02,360.93 275.52,359.77 276.03,358.64 276.53,357.53 277.03,356.45 277.53,355.4 278.03,354.37 278.53,353.37 279.04,352.41 279.54,351.47 280.04,350.56 280.54,349.67 281.04,348.82 281.55,348 282.05,347.2 282.55,346.43 283.05,345.7 283.55,344.98 284.05,344.3 284.56,343.64 285.06,343.01 285.56,342.4 286.06,341.82 286.56,341.26 287.06,340.73 287.56,340.22 288.07,339.73 288.57,339.26 289.07,338.81 289.57,338.38 290.07,337.97 290.57,337.59 291.08,337.21 291.58,336.86 292.08,336.52 292.58,336.2 293.08,335.89 293.58,335.6 294.09,335.32 294.59,335.06 295.09,334.81 295.59,334.57 296.09,334.34 296.6,334.12 297.1,333.92 297.6,333.72 298.1,333.54 298.6,333.36 299.1,333.2 299.61,333.04 300.11,332.89 300.61,332.74 301.11,332.61 301.61,332.48 302.11,332.36 302.62,332.24 303.12,332.13 303.62,332.03 304.12,331.93 304.62,331.84 305.12,331.75 305.62,331.67 306.13,331.59 306.63,331.51 307.13,331.44 307.63,331.37 308.13,331.31 308.63,331.25 309.14,331.19 309.64,331.14 310.14,331.08 310.64,331.03 311.14,330.99 311.64,330.95 312.15,330.9 312.65,330.86 313.15,330.83 313.65,330.79 314.15,330.76 314.65,330.73 315.16,330.7 315.66,330.67 316.16,330.64 316.66,330.62 317.16,330.59 317.66,330.57 318.17,330.55 318.67,330.53 319.17,330.51 319.67,330.49 320.17,330.48 320.67,330.46 321.18,330.44 321.68,330.43 322.18,330.42 322.68,330.4 323.18,330.39 323.69,330.38 324.19,330.37 324.69,330.36 325.19,330.35 325.69,330.34 326.19,330.33 326.69,330.32 327.2,330.31 327.7,330.3 328.2,330.3"/>
<polyline class="cs" points="207.8,432.63 208.3,432.63 208.8,432.63 209.31,432.62 209.81,432.62 210.31,432.62 210.81,432.62 211.31,432.62 211.81,432.62 212.31,432.61 212.82,432.61 213.32,432.61 213.82,432.61 214.32,432.6 214.82,432.6 215.33,432.6 215.83,432.59 216.33,432.59 216.83,432.59 217.33,432.58 217.83,432.58 218.34,432.57 218.84,432.57 219.34,432.56 219.84,432.56 220.34,432.55 220.84,432.54 221.34,432.53 221.85,432.52 222.35,432.52 222.85,432.51 223.35,432.5 223.85,432.48 224.36,432.47 224.86,432.46 225.36,432.45 225.86,432.43 226.36,432.41 226.86,432.4 227.37,432.38 227.87,432.36 228.37,432.34 228.87,432.31 229.37,432.29 229.87,432.26 230.38,432.23 230.88,432.2 231.38,432.16 231.88,432.13 232.38,432.09 232.88,432.05 233.39,432 233.89,431.95 234.39,431.9 234.89,431.84 235.39,431.78 235.89,431.71 236.4,431.64 236.9,431.57 237.4,431.49 237.9,431.4 238.4,431.3 238.9,431.2 239.41,431.09 239.91,430.98 240.41,430.85 240.91,430.71 241.41,430.57 241.91,430.41 242.41,430.24 242.92,430.06 243.42,429.87 243.92,429.66 244.42,429.44 244.92,429.2 245.43,428.95 245.93,428.68 246.43,428.38 246.93,428.07 247.43,427.73 247.93,427.37 248.44,426.99 248.94,426.58 249.44,426.14 249.94,425.68 250.44,425.18 250.94,424.65 251.44,424.08 251.95,423.48 252.45,422.84 252.95,422.16 253.45,421.44 253.95,420.67 254.46,419.86 254.96,419 255.46,418.1 255.96,417.14 256.46,416.13 256.96,415.07 257.46,413.95 257.97,412.78 258.47,411.56 258.97,410.27 259.47,408.93 259.97,407.54 260.48,406.08 260.98,404.58 261.48,403.02 261.98,401.4 262.48,399.74 262.98,398.02 263.49,396.26 263.99,394.46 264.49,392.62 264.99,390.75 265.49,388.84 265.99,386.91 266.5,384.96 267,382.99 267.5,381.01 268,379.02 268.5,377.04 269,375.06 269.5,373.09 270.01,371.14 270.51,369.21 271.01,367.3 271.51,365.43 272.01,363.59 272.51,361.79 273.02,360.03 273.52,358.31 274.02,356.65 274.52,355.03 275.02,353.47 275.52,351.97 276.03,350.51 276.53,349.12 277.03,347.78 277.53,346.49 278.03,345.27 278.53,344.1 279.04,342.98 279.54,341.92 280.04,340.91 280.54,339.95 281.04,339.05 281.55,338.19 282.05,337.38 282.55,336.61 283.05,335.89 283.55,335.21 284.05,334.57 284.56,333.97 285.06,333.4 285.56,332.87 286.06,332.37 286.56,331.91 287.06,331.47 287.56,331.06 288.07,330.68 288.57,330.32 289.07,329.98 289.57,329.67 290.07,329.37 290.57,329.1 291.08,328.85 291.58,328.61 292.08,328.39 292.58,328.18 293.08,327.99 293.58,327.81 294.09,327.64 294.59,327.48 295.09,327.34 295.59,327.2 296.09,327.07 296.6,326.96 297.1,326.85 297.6,326.75 298.1,326.65 298.6,326.56 299.1,326.48 299.61,326.41 300.11,326.34 300.61,326.27 301.11,326.21 301.61,326.15 302.11,326.1 302.62,326.05 303.12,326 303.62,325.96 304.12,325.92 304.62,325.89 305.12,325.85 305.62,325.82 306.13,325.79 306.63,325.76 307.13,325.74 307.63,325.71 308.13,325.69 308.63,325.67 309.14,325.65 309.64,325.64 310.14,325.62 310.64,325.6 311.14,325.59 311.64,325.58 312.15,325.57 312.65,325.55 313.15,325.54 313.65,325.53 314.15,325.53 314.65,325.52 315.16,325.51 315.66,325.5 316.16,325.49 316.66,325.49 317.16,325.48 317.66,325.48 318.17,325.47 318.67,325.47 319.17,325.46 319.67,325.46 320.17,325.46 320.67,325.45 321.18,325.45 321.68,325.45 322.18,325.44 322.68,325.44 323.18,325.44 323.69,325.44 324.19,325.43 324.69,325.43 325.19,325.43 325.69,325.43 326.19,325.43 326.69,325.43 327.2,325.42 327.7,325.42 328.2,325.42"/>
<polyline class="cd" points="207.8,435.62 208.3,435.62 208.8,435.62 209.31,435.62 209.81,435.62 210.31,435.62 210.81,435.62 211.31,435.62 211.81,435.62 212.31,435.62 212.82,435.62 213.32,435.62 213.82,435.62 214.32,435.62 214.82,435.62 215.33,435.62 215.83,435.62 216.33,435.62 216.83,435.62 217.33,435.62 217.83,435.62 218.34,435.62 218.84,435.62 219.34,435.62 219.84,435.62 220.34,435.61 220.84,435.61 221.34,435.61 221.85,435.61 222.35,435.61 222.85,435.61 223.35,435.61 223.85,435.61 224.36,435.61 224.86,435.6 225.36,435.6 225.86,435.6 226.36,435.6 226.86,435.6 227.37,435.59 227.87,435.59 228.37,435.59 228.87,435.58 229.37,435.58 229.87,435.57 230.38,435.57 230.88,435.56 231.38,435.56 231.88,435.55 232.38,435.54 232.88,435.54 233.39,435.53 233.89,435.52 234.39,435.5 234.89,435.49 235.39,435.48 235.89,435.46 236.4,435.44 236.9,435.43 237.4,435.4 237.9,435.38 238.4,435.36 238.9,435.33 239.41,435.29 239.91,435.26 240.41,435.22 240.91,435.18 241.41,435.13 241.91,435.08 242.41,435.02 242.92,434.95 243.42,434.88 243.92,434.8 244.42,434.72 244.92,434.62 245.43,434.51 245.93,434.39 246.43,434.26 246.93,434.12 247.43,433.96 247.93,433.78 248.44,433.59 248.94,433.37 249.44,433.13 249.94,432.87 250.44,432.58 250.94,432.26 251.44,431.91 251.95,431.52 252.45,431.1 252.95,430.63 253.45,430.12 253.95,429.56 254.46,428.94 254.96,428.27 255.46,427.53 255.96,426.72 256.46,425.85 256.96,424.89 257.46,423.85 257.97,422.73 258.47,421.51 258.97,420.19 259.47,418.77 259.97,417.25 260.48,415.61 260.98,413.87 261.48,412.01 261.98,410.03 262.48,407.95 262.98,405.75 263.49,403.44 263.99,401.02 264.49,398.51 264.99,395.91 265.49,393.23 265.99,390.47 266.5,387.66 267,384.81 267.5,381.92 268,379.02 268.5,376.13 269,373.24 269.5,370.39 270.01,367.58 270.51,364.82 271.01,362.14 271.51,359.54 272.01,357.03 272.51,354.61 273.02,352.3 273.52,350.1 274.02,348.02 274.52,346.04 275.02,344.18 275.52,342.44 276.03,340.8 276.53,339.28 277.03,337.86 277.53,336.54 278.03,335.32 278.53,334.2 279.04,333.16 279.54,332.2 280.04,331.33 280.54,330.52 281.04,329.78 281.55,329.11 282.05,328.49 282.55,327.93 283.05,327.42 283.55,326.95 284.05,326.53 284.56,326.14 285.06,325.79 285.56,325.47 286.06,325.18 286.56,324.92 287.06,324.68 287.56,324.46 288.07,324.27 288.57,324.09 289.07,323.93 289.57,323.79 290.07,323.66 290.57,323.54 291.08,323.43 291.58,323.33 292.08,323.25 292.58,323.17 293.08,323.1 293.58,323.03 294.09,322.97 294.59,322.92 295.09,322.87 295.59,322.83 296.09,322.79 296.6,322.76 297.1,322.72 297.6,322.69 298.1,322.67 298.6,322.65 299.1,322.62 299.61,322.61 300.11,322.59 300.61,322.57 301.11,322.56 301.61,322.55 302.11,322.53 302.62,322.52 303.12,322.51 303.62,322.51 304.12,322.5 304.62,322.49 305.12,322.49 305.62,322.48 306.13,322.48 306.63,322.47 307.13,322.47 307.63,322.46 308.13,322.46 308.63,322.46 309.14,322.45 309.64,322.45 310.14,322.45 310.64,322.45 311.14,322.45 311.64,322.44 312.15,322.44 312.65,322.44 313.15,322.44 313.65,322.44 314.15,322.44 314.65,322.44 315.16,322.44 315.66,322.44 316.16,322.43 316.66,322.43 317.16,322.43 317.66,322.43 318.17,322.43 318.67,322.43 319.17,322.43 319.67,322.43 320.17,322.43 320.67,322.43 321.18,322.43 321.68,322.43 322.18,322.43 322.68,322.43 323.18,322.43 323.69,322.43 324.19,322.43 324.69,322.43 325.19,322.43 325.69,322.43 326.19,322.43 326.69,322.43 327.2,322.43 327.7,322.43 328.2,322.43"/>
<polyline class="cs" points="207.8,437.11 208.3,437.11 208.8,437.11 209.31,437.11 209.81,437.11 210.31,437.11 210.81,437.11 211.31,437.11 211.81,437.11 212.31,437.11 212.82,437.11 213.32,437.11 213.82,437.11 214.32,437.11 214.82,437.11 215.33,437.11 215.83,437.11 216.33,437.11 216.83,437.11 217.33,437.11 217.83,437.11 218.34,437.11 218.84,437.11 219.34,437.11 219.84,437.11 220.34,437.11 220.84,437.11 221.34,437.11 221.85,437.11 222.35,437.11 222.85,437.11 223.35,437.11 223.85,437.11 224.36,437.11 224.86,437.11 225.36,437.11 225.86,437.11 226.36,437.11 226.86,437.11 227.37,437.11 227.87,437.11 228.37,437.11 228.87,437.11 229.37,437.11 229.87,437.11 230.38,437.11 230.88,437.11 231.38,437.11 231.88,437.11 232.38,437.11 232.88,437.11 233.39,437.11 233.89,437.11 234.39,437.1 234.89,437.1 235.39,437.1 235.89,437.1 236.4,437.1 236.9,437.1 237.4,437.1 237.9,437.09 238.4,437.09 238.9,437.09 239.41,437.09 239.91,437.08 240.41,437.08 240.91,437.07 241.41,437.07 241.91,437.06 242.41,437.05 242.92,437.04 243.42,437.03 243.92,437.02 244.42,437 244.92,436.98 245.43,436.96 245.93,436.94 246.43,436.91 246.93,436.88 247.43,436.84 247.93,436.8 248.44,436.75 248.94,436.7 249.44,436.63 249.94,436.55 250.44,436.46 250.94,436.36 251.44,436.24 251.95,436.1 252.45,435.95 252.95,435.76 253.45,435.55 253.95,435.3 254.46,435.02 254.96,434.69 255.46,434.32 255.96,433.88 256.46,433.39 256.96,432.81 257.46,432.16 257.97,431.4 258.47,430.54 258.97,429.56 259.47,428.45 259.97,427.18 260.48,425.75 260.98,424.14 261.48,422.33 261.98,420.31 262.48,418.07 262.98,415.6 263.49,412.88 263.99,409.91 264.49,406.71 264.99,403.27 265.49,399.61 265.99,395.75 266.5,391.72 267,387.57 267.5,383.32 268,379.02 268.5,374.73 269,370.48 269.5,366.33 270.01,362.3 270.51,358.44 271.01,354.78 271.51,351.34 272.01,348.14 272.51,345.17 273.02,342.45 273.52,339.98 274.02,337.74 274.52,335.72 275.02,333.91 275.52,332.3 276.03,330.87 276.53,329.6 277.03,328.49 277.53,327.51 278.03,326.65 278.53,325.89 279.04,325.24 279.54,324.66 280.04,324.17 280.54,323.73 281.04,323.36 281.55,323.03 282.05,322.75 282.55,322.5 283.05,322.29 283.55,322.1 284.05,321.95 284.56,321.81 285.06,321.69 285.56,321.59 286.06,321.5 286.56,321.42 287.06,321.35 287.56,321.3 288.07,321.25 288.57,321.21 289.07,321.17 289.57,321.14 290.07,321.11 290.57,321.09 291.08,321.07 291.58,321.05 292.08,321.03 292.58,321.02 293.08,321.01 293.58,321 294.09,320.99 294.59,320.98 295.09,320.98 295.59,320.97 296.09,320.97 296.6,320.96 297.1,320.96 297.6,320.96 298.1,320.96 298.6,320.95 299.1,320.95 299.61,320.95 300.11,320.95 300.61,320.95 301.11,320.95 301.61,320.95 302.11,320.94 302.62,320.94 303.12,320.94 303.62,320.94 304.12,320.94 304.62,320.94 305.12,320.94 305.62,320.94 306.13,320.94 306.63,320.94 307.13,320.94 307.63,320.94 308.13,320.94 308.63,320.94 309.14,320.94 309.64,320.94 310.14,320.94 310.64,320.94 311.14,320.94 311.64,320.94 312.15,320.94 312.65,320.94 313.15,320.94 313.65,320.94 314.15,320.94 314.65,320.94 315.16,320.94 315.66,320.94 316.16,320.94 316.66,320.94 317.16,320.94 317.66,320.94 318.17,320.94 318.67,320.94 319.17,320.94 319.67,320.94 320.17,320.94 320.67,320.94 321.18,320.94 321.68,320.94 322.18,320.94 322.68,320.94 323.18,320.94 323.69,320.94 324.19,320.94 324.69,320.94 325.19,320.94 325.69,320.94 326.19,320.94 326.69,320.94 327.2,320.94 327.7,320.94 328.2,320.94"/>
<polyline class="cd" points="207.8,438 208.3,438 208.8,438 209.31,438 209.81,438 210.31,438 210.81,438 211.31,438 211.81,438 212.31,438 212.82,438 213.32,438 213.82,438 214.32,438 214.82,438 215.33,438 215.83,438 216.33,438 216.83,438 217.33,438 217.83,438 218.34,438 218.84,438 219.34,438 219.84,438 220.34,438 220.84,438 221.34,438 221.85,438 222.35,438 222.85,438 223.35,438 223.85,438 224.36,438 224.86,438 225.36,438 225.86,438 226.36,438 226.86,438 227.37,438 227.87,438 228.37,438 228.87,438 229.37,438 229.87,438 230.38,438 230.88,438 231.38,438 231.88,438 232.38,438 232.88,438 233.39,438 233.89,438 234.39,438 234.89,438 235.39,438 235.89,438 236.4,438 236.9,438 237.4,438 237.9,438 238.4,438 238.9,438 239.41,438 239.91,438 240.41,438 240.91,438 241.41,438 241.91,438 242.41,438 242.92,438 243.42,438 243.92,438 244.42,438 244.92,438 245.43,438 245.93,438 246.43,438 246.93,437.99 247.43,437.99 247.93,437.99 248.44,437.98 248.94,437.98 249.44,437.97 249.94,437.96 250.44,437.95 250.94,437.94 251.44,437.93 251.95,437.91 252.45,437.88 252.95,437.85 253.45,437.82 253.95,437.77 254.46,437.71 254.96,437.64 255.46,437.55 255.96,437.44 256.46,437.3 256.96,437.12 257.46,436.91 257.97,436.64 258.47,436.3 258.97,435.88 259.47,435.37 259.97,434.73 260.48,433.94 260.98,432.97 261.48,431.79 261.98,430.34 262.48,428.59 262.98,426.47 263.49,423.94 263.99,420.95 264.49,417.45 264.99,413.4 265.49,408.79 265.99,403.64 266.5,397.99 267,391.92 267.5,385.55 268,379.02 268.5,372.5 269,366.13 269.5,360.06 270.01,354.41 270.51,349.26 271.01,344.65 271.51,340.6 272.01,337.1 272.51,334.11 273.02,331.58 273.52,329.46 274.02,327.71 274.52,326.26 275.02,325.08 275.52,324.11 276.03,323.32 276.53,322.68 277.03,322.17 277.53,321.75 278.03,321.41 278.53,321.14 279.04,320.93 279.54,320.75 280.04,320.61 280.54,320.5 281.04,320.41 281.55,320.34 282.05,320.28 282.55,320.23 283.05,320.2 283.55,320.17 284.05,320.14 284.56,320.12 285.06,320.11 285.56,320.1 286.06,320.09 286.56,320.08 287.06,320.07 287.56,320.07 288.07,320.06 288.57,320.06 289.07,320.06 289.57,320.05 290.07,320.05 290.57,320.05 291.08,320.05 291.58,320.05 292.08,320.05 292.58,320.05 293.08,320.05 293.58,320.05 294.09,320.05 294.59,320.05 295.09,320.05 295.59,320.05 296.09,320.05 296.6,320.05 297.1,320.05 297.6,320.05 298.1,320.05 298.6,320.05 299.1,320.05 299.61,320.05 300.11,320.05 300.61,320.05 301.11,320.05 301.61,320.05 302.11,320.05 302.62,320.05 303.12,320.05 303.62,320.05 304.12,320.05 304.62,320.05 305.12,320.05 305.62,320.05 306.13,320.05 306.63,320.05 307.13,320.05 307.63,320.05 308.13,320.05 308.63,320.05 309.14,320.05 309.64,320.05 310.14,320.05 310.64,320.05 311.14,320.05 311.64,320.05 312.15,320.05 312.65,320.05 313.15,320.05 313.65,320.05 314.15,320.05 314.65,320.05 315.16,320.05 315.66,320.05 316.16,320.05 316.66,320.05 317.16,320.05 317.66,320.05 318.17,320.05 318.67,320.05 319.17,320.05 319.67,320.05 320.17,320.05 320.67,320.05 321.18,320.05 321.68,320.05 322.18,320.05 322.68,320.05 323.18,320.05 323.69,320.05 324.19,320.05 324.69,320.05 325.19,320.05 325.69,320.05 326.19,320.05 326.69,320.05 327.2,320.05 327.7,320.05 328.2,320.05"/>
<polyline class="cs" points="207.8,438.54 208.3,438.54 208.8,438.54 209.31,438.54 209.81,438.54 210.31,438.54 210.81,438.54 211.31,438.54 211.81,438.54 212.31,438.54 212.82,438.54 213.32,438.54 213.82,438.54 214.32,438.54 214.82,438.54 215.33,438.54 215.83,438.54 216.33,438.54 216.83,438.54 217.33,438.54 217.83,438.54 218.34,438.54 218.84,438.54 219.34,438.54 219.84,438.54 220.34,438.54 220.84,438.54 221.34,438.54 221.85,438.54 222.35,438.54 222.85,438.54 223.35,438.54 223.85,438.54 224.36,438.54 224.86,438.54 225.36,438.54 225.86,438.54 226.36,438.54 226.86,438.54 227.37,438.54 227.87,438.54 228.37,438.54 228.87,438.54 229.37,438.54 229.87,438.54 230.38,438.54 230.88,438.54 231.38,438.54 231.88,438.54 232.38,438.54 232.88,438.54 233.39,438.54 233.89,438.54 234.39,438.54 234.89,438.54 235.39,438.54 235.89,438.54 236.4,438.54 236.9,438.54 237.4,438.54 237.9,438.54 238.4,438.54 238.9,438.54 239.41,438.54 239.91,438.54 240.41,438.54 240.91,438.54 241.41,438.54 241.91,438.54 242.41,438.54 242.92,438.54 243.42,438.54 243.92,438.54 244.42,438.54 244.92,438.54 245.43,438.54 245.93,438.54 246.43,438.54 246.93,438.54 247.43,438.54 247.93,438.54 248.44,438.54 248.94,438.54 249.44,438.54 249.94,438.54 250.44,438.54 250.94,438.54 251.44,438.53 251.95,438.53 252.45,438.53 252.95,438.52 253.45,438.52 253.95,438.51 254.46,438.5 254.96,438.49 255.46,438.47 255.96,438.44 256.46,438.41 256.96,438.37 257.46,438.3 257.97,438.22 258.47,438.11 258.97,437.97 259.47,437.77 259.97,437.51 260.48,437.16 260.98,436.69 261.48,436.06 261.98,435.23 262.48,434.14 262.98,432.69 263.49,430.81 263.99,428.37 264.49,425.25 264.99,421.33 265.49,416.5 265.99,410.67 266.5,403.86 267,396.16 267.5,387.78 268,379.02 268.5,370.27 269,361.89 269.5,354.19 270.01,347.38 270.51,341.55 271.01,336.72 271.51,332.8 272.01,329.68 272.51,327.24 273.02,325.36 273.52,323.91 274.02,322.82 274.52,321.99 275.02,321.36 275.52,320.89 276.03,320.54 276.53,320.28 277.03,320.08 277.53,319.94 278.03,319.83 278.53,319.75 279.04,319.68 279.54,319.64 280.04,319.61 280.54,319.58 281.04,319.56 281.55,319.55 282.05,319.54 282.55,319.53 283.05,319.53 283.55,319.52 284.05,319.52 284.56,319.52 285.06,319.51 285.56,319.51 286.06,319.51 286.56,319.51 287.06,319.51 287.56,319.51 288.07,319.51 288.57,319.51 289.07,319.51 289.57,319.51 290.07,319.51 290.57,319.51 291.08,319.51 291.58,319.51 292.08,319.51 292.58,319.51 293.08,319.51 293.58,319.51 294.09,319.51 294.59,319.51 295.09,319.51 295.59,319.51 296.09,319.51 296.6,319.51 297.1,319.51 297.6,319.51 298.1,319.51 298.6,319.51 299.1,319.51 299.61,319.51 300.11,319.51 300.61,319.51 301.11,319.51 301.61,319.51 302.11,319.51 302.62,319.51 303.12,319.51 303.62,319.51 304.12,319.51 304.62,319.51 305.12,319.51 305.62,319.51 306.13,319.51 306.63,319.51 307.13,319.51 307.63,319.51 308.13,319.51 308.63,319.51 309.14,319.51 309.64,319.51 310.14,319.51 310.64,319.51 311.14,319.51 311.64,319.51 312.15,319.51 312.65,319.51 313.15,319.51 313.65,319.51 314.15,319.51 314.65,319.51 315.16,319.51 315.66,319.51 316.16,319.51 316.66,319.51 317.16,319.51 317.66,319.51 318.17,319.51 318.67,319.51 319.17,319.51 319.67,319.51 320.17,319.51 320.67,319.51 321.18,319.51 321.68,319.51 322.18,319.51 322.68,319.51 323.18,319.51 323.69,319.51 324.19,319.51 324.69,319.51 325.19,319.51 325.69,319.51 326.19,319.51 326.69,319.51 327.2,319.51 327.7,319.51 328.2,319.51"/>
<line class="tk" x1="37.9" y1="127.3" x2="37.9" y2="126"/>
<line class="tk" x1="43.92" y1="127.3" x2="43.92" y2="126"/>
<line class="tk" x1="49.94" y1="127.3" x2="49.94" y2="126"/>
<line class="tk" x1="55.96" y1="127.3" x2="55.96" y2="126"/>
<line class="tk" x1="61.98" y1="127.3" x2="61.98" y2="126"/>
<line class="tk" x1="68" y1="127.3" x2="68" y2="126"/>
<line class="tk" x1="74.02" y1="127.3" x2="74.02" y2="126"/>
<line class="tk" x1="80.04" y1="127.3" x2="80.04" y2="126"/>
<line class="tk" x1="86.06" y1="127.3" x2="86.06" y2="126"/>
<line class="tk" x1="92.08" y1="127.3" x2="92.08" y2="126"/>
<line class="tk" x1="98.1" y1="127.3" x2="98.1" y2="126"/>
<line class="tk" x1="104.12" y1="127.3" x2="104.12" y2="126"/>
<line class="tk" x1="110.14" y1="127.3" x2="110.14" y2="126"/>
<line class="tk" x1="116.16" y1="127.3" x2="116.16" y2="126"/>
<line class="tk" x1="122.18" y1="127.3" x2="122.18" y2="126"/>
<line class="tk" x1="128.2" y1="127.3" x2="128.2" y2="126"/>
<line class="tk" x1="134.22" y1="127.3" x2="134.22" y2="126"/>
<line class="tk" x1="140.24" y1="127.3" x2="140.24" y2="126"/>
<line class="tk" x1="146.26" y1="127.3" x2="146.26" y2="126"/>
<line class="tk" x1="152.28" y1="127.3" x2="152.28" y2="126"/>
<line class="tk" x1="158.3" y1="127.3" x2="158.3" y2="126"/>
<line class="tk" x1="37.9" y1="127.3" x2="37.9" y2="125.3"/>
<line class="tk" x1="68" y1="127.3" x2="68" y2="125.3"/>
<line class="tk" x1="98.1" y1="127.3" x2="98.1" y2="125.3"/>
<line class="tk" x1="128.2" y1="127.3" x2="128.2" y2="125.3"/>
<line class="tk" x1="158.3" y1="127.3" x2="158.3" y2="125.3"/>
<line class="tk" x1="37.9" y1="127.3" x2="39.2" y2="127.3"/>
<line class="tk" x1="37.9" y1="118.74" x2="39.2" y2="118.74"/>
<line class="tk" x1="37.9" y1="110.18" x2="39.2" y2="110.18"/>
<line class="tk" x1="37.9" y1="101.62" x2="39.2" y2="101.62"/>
<line class="tk" x1="37.9" y1="93.06" x2="39.2" y2="93.06"/>
<line class="tk" x1="37.9" y1="84.5" x2="39.2" y2="84.5"/>
<line class="tk" x1="37.9" y1="75.94" x2="39.2" y2="75.94"/>
<line class="tk" x1="37.9" y1="67.37" x2="39.2" y2="67.37"/>
<line class="tk" x1="37.9" y1="58.81" x2="39.2" y2="58.81"/>
<line class="tk" x1="37.9" y1="50.25" x2="39.2" y2="50.25"/>
<line class="tk" x1="37.9" y1="41.69" x2="39.2" y2="41.69"/>
<line class="tk" x1="37.9" y1="33.13" x2="39.2" y2="33.13"/>
<line class="tk" x1="37.9" y1="24.57" x2="39.2" y2="24.57"/>
<line class="tk" x1="37.9" y1="16.01" x2="39.2" y2="16.01"/>
<line class="tk" x1="37.9" y1="7.45" x2="39.2" y2="7.45"/>
<line class="tk" x1="37.9" y1="127.3" x2="39.9" y2="127.3"/>
<line class="tk" x1="37.9" y1="93.06" x2="39.9" y2="93.06"/>
<line class="tk" x1="37.9" y1="58.81" x2="39.9" y2="58.81"/>
<line class="tk" x1="37.9" y1="24.57" x2="39.9" y2="24.57"/>
<line class="fv" x1="37.9" y1="7.45" x2="37.9" y2="127.3"/>
<line class="fv" x1="158.3" y1="7.45" x2="158.3" y2="127.3"/>
<line class="fh" x1="37.2" y1="7.45" x2="159" y2="7.45"/>
<line class="fh" x1="37.2" y1="127.3" x2="159" y2="127.3"/>
<text class="tl" transform="translate(37.9,138.7) scale(1.2,1)" text-anchor="middle">−20</text>
<text class="tl" transform="translate(68,138.7) scale(1.2,1)" text-anchor="middle">−10</text>
<text class="tl" transform="translate(98.1,138.7) scale(1.2,1)" text-anchor="middle">0</text>
<text class="tl" transform="translate(128.2,138.7) scale(1.2,1)" text-anchor="middle">10</text>
<text class="tl" transform="translate(158.3,138.7) scale(1.2,1)" text-anchor="middle">20</text>
<text class="tl" transform="translate(35,130.7) scale(1.2,1)" text-anchor="end">0.0</text>
<text class="tl" transform="translate(35,96.46) scale(1.2,1)" text-anchor="end">0.1</text>
<text class="tl" transform="translate(35,62.21) scale(1.2,1)" text-anchor="end">0.2</text>
<text class="tl" transform="translate(35,27.97) scale(1.2,1)" text-anchor="end">0.3</text>
<line class="tk" x1="207.8" y1="127.05" x2="207.8" y2="125.75"/>
<line class="tk" x1="213.82" y1="127.05" x2="213.82" y2="125.75"/>
<line class="tk" x1="219.84" y1="127.05" x2="219.84" y2="125.75"/>
<line class="tk" x1="225.86" y1="127.05" x2="225.86" y2="125.75"/>
<line class="tk" x1="231.88" y1="127.05" x2="231.88" y2="125.75"/>
<line class="tk" x1="237.9" y1="127.05" x2="237.9" y2="125.75"/>
<line class="tk" x1="243.92" y1="127.05" x2="243.92" y2="125.75"/>
<line class="tk" x1="249.94" y1="127.05" x2="249.94" y2="125.75"/>
<line class="tk" x1="255.96" y1="127.05" x2="255.96" y2="125.75"/>
<line class="tk" x1="261.98" y1="127.05" x2="261.98" y2="125.75"/>
<line class="tk" x1="268" y1="127.05" x2="268" y2="125.75"/>
<line class="tk" x1="274.02" y1="127.05" x2="274.02" y2="125.75"/>
<line class="tk" x1="280.04" y1="127.05" x2="280.04" y2="125.75"/>
<line class="tk" x1="286.06" y1="127.05" x2="286.06" y2="125.75"/>
<line class="tk" x1="292.08" y1="127.05" x2="292.08" y2="125.75"/>
<line class="tk" x1="298.1" y1="127.05" x2="298.1" y2="125.75"/>
<line class="tk" x1="304.12" y1="127.05" x2="304.12" y2="125.75"/>
<line class="tk" x1="310.14" y1="127.05" x2="310.14" y2="125.75"/>
<line class="tk" x1="316.16" y1="127.05" x2="316.16" y2="125.75"/>
<line class="tk" x1="322.18" y1="127.05" x2="322.18" y2="125.75"/>
<line class="tk" x1="328.2" y1="127.05" x2="328.2" y2="125.75"/>
<line class="tk" x1="207.8" y1="127.05" x2="207.8" y2="125.05"/>
<line class="tk" x1="237.9" y1="127.05" x2="237.9" y2="125.05"/>
<line class="tk" x1="268" y1="127.05" x2="268" y2="125.05"/>
<line class="tk" x1="298.1" y1="127.05" x2="298.1" y2="125.05"/>
<line class="tk" x1="328.2" y1="127.05" x2="328.2" y2="125.05"/>
<line class="tk" x1="207.8" y1="127.05" x2="209.1" y2="127.05"/>
<line class="tk" x1="207.8" y1="121.07" x2="209.1" y2="121.07"/>
<line class="tk" x1="207.8" y1="115.09" x2="209.1" y2="115.09"/>
<line class="tk" x1="207.8" y1="109.11" x2="209.1" y2="109.11"/>
<line class="tk" x1="207.8" y1="103.13" x2="209.1" y2="103.13"/>
<line class="tk" x1="207.8" y1="97.15" x2="209.1" y2="97.15"/>
<line class="tk" x1="207.8" y1="91.17" x2="209.1" y2="91.17"/>
<line class="tk" x1="207.8" y1="85.19" x2="209.1" y2="85.19"/>
<line class="tk" x1="207.8" y1="79.21" x2="209.1" y2="79.21"/>
<line class="tk" x1="207.8" y1="73.23" x2="209.1" y2="73.23"/>
<line class="tk" x1="207.8" y1="67.25" x2="209.1" y2="67.25"/>
<line class="tk" x1="207.8" y1="61.27" x2="209.1" y2="61.27"/>
<line class="tk" x1="207.8" y1="55.29" x2="209.1" y2="55.29"/>
<line class="tk" x1="207.8" y1="49.31" x2="209.1" y2="49.31"/>
<line class="tk" x1="207.8" y1="43.33" x2="209.1" y2="43.33"/>
<line class="tk" x1="207.8" y1="37.35" x2="209.1" y2="37.35"/>
<line class="tk" x1="207.8" y1="31.37" x2="209.1" y2="31.37"/>
<line class="tk" x1="207.8" y1="25.39" x2="209.1" y2="25.39"/>
<line class="tk" x1="207.8" y1="19.41" x2="209.1" y2="19.41"/>
<line class="tk" x1="207.8" y1="13.43" x2="209.1" y2="13.43"/>
<line class="tk" x1="207.8" y1="7.45" x2="209.1" y2="7.45"/>
<line class="tk" x1="207.8" y1="127.05" x2="209.8" y2="127.05"/>
<line class="tk" x1="207.8" y1="103.13" x2="209.8" y2="103.13"/>
<line class="tk" x1="207.8" y1="79.21" x2="209.8" y2="79.21"/>
<line class="tk" x1="207.8" y1="55.29" x2="209.8" y2="55.29"/>
<line class="tk" x1="207.8" y1="31.37" x2="209.8" y2="31.37"/>
<line class="tk" x1="207.8" y1="7.45" x2="209.8" y2="7.45"/>
<line class="fv" x1="207.8" y1="7.45" x2="207.8" y2="127.05"/>
<line class="fv" x1="328.2" y1="7.45" x2="328.2" y2="127.05"/>
<line class="fh" x1="207.1" y1="7.45" x2="328.9" y2="7.45"/>
<line class="fh" x1="207.1" y1="127.05" x2="328.9" y2="127.05"/>
<text class="tl" transform="translate(207.8,138.45) scale(1.2,1)" text-anchor="middle">−20</text>
<text class="tl" transform="translate(237.9,138.45) scale(1.2,1)" text-anchor="middle">−10</text>
<text class="tl" transform="translate(268,138.45) scale(1.2,1)" text-anchor="middle">0</text>
<text class="tl" transform="translate(298.1,138.45) scale(1.2,1)" text-anchor="middle">10</text>
<text class="tl" transform="translate(328.2,138.45) scale(1.2,1)" text-anchor="middle">20</text>
<text class="tl" transform="translate(204.9,130.45) scale(1.2,1)" text-anchor="end">−1.0</text>
<text class="tl" transform="translate(204.9,106.53) scale(1.2,1)" text-anchor="end">−0.6</text>
<text class="tl" transform="translate(204.9,82.61) scale(1.2,1)" text-anchor="end">−0.2</text>
<text class="tl" transform="translate(204.9,58.69) scale(1.2,1)" text-anchor="end">0.2</text>
<text class="tl" transform="translate(204.9,34.77) scale(1.2,1)" text-anchor="end">0.6</text>
<text class="tl" transform="translate(204.9,10.85) scale(1.2,1)" text-anchor="end">1.0</text>
<line class="tk" x1="37.9" y1="283.25" x2="37.9" y2="281.95"/>
<line class="tk" x1="42.92" y1="283.25" x2="42.92" y2="281.95"/>
<line class="tk" x1="47.93" y1="283.25" x2="47.93" y2="281.95"/>
<line class="tk" x1="52.95" y1="283.25" x2="52.95" y2="281.95"/>
<line class="tk" x1="57.97" y1="283.25" x2="57.97" y2="281.95"/>
<line class="tk" x1="62.98" y1="283.25" x2="62.98" y2="281.95"/>
<line class="tk" x1="68" y1="283.25" x2="68" y2="281.95"/>
<line class="tk" x1="73.02" y1="283.25" x2="73.02" y2="281.95"/>
<line class="tk" x1="78.03" y1="283.25" x2="78.03" y2="281.95"/>
<line class="tk" x1="83.05" y1="283.25" x2="83.05" y2="281.95"/>
<line class="tk" x1="88.07" y1="283.25" x2="88.07" y2="281.95"/>
<line class="tk" x1="93.08" y1="283.25" x2="93.08" y2="281.95"/>
<line class="tk" x1="98.1" y1="283.25" x2="98.1" y2="281.95"/>
<line class="tk" x1="103.12" y1="283.25" x2="103.12" y2="281.95"/>
<line class="tk" x1="108.13" y1="283.25" x2="108.13" y2="281.95"/>
<line class="tk" x1="113.15" y1="283.25" x2="113.15" y2="281.95"/>
<line class="tk" x1="118.17" y1="283.25" x2="118.17" y2="281.95"/>
<line class="tk" x1="123.18" y1="283.25" x2="123.18" y2="281.95"/>
<line class="tk" x1="128.2" y1="283.25" x2="128.2" y2="281.95"/>
<line class="tk" x1="133.22" y1="283.25" x2="133.22" y2="281.95"/>
<line class="tk" x1="138.23" y1="283.25" x2="138.23" y2="281.95"/>
<line class="tk" x1="143.25" y1="283.25" x2="143.25" y2="281.95"/>
<line class="tk" x1="148.27" y1="283.25" x2="148.27" y2="281.95"/>
<line class="tk" x1="153.28" y1="283.25" x2="153.28" y2="281.95"/>
<line class="tk" x1="158.3" y1="283.25" x2="158.3" y2="281.95"/>
<line class="tk" x1="37.9" y1="283.25" x2="37.9" y2="281.25"/>
<line class="tk" x1="57.97" y1="283.25" x2="57.97" y2="281.25"/>
<line class="tk" x1="78.03" y1="283.25" x2="78.03" y2="281.25"/>
<line class="tk" x1="98.1" y1="283.25" x2="98.1" y2="281.25"/>
<line class="tk" x1="118.17" y1="283.25" x2="118.17" y2="281.25"/>
<line class="tk" x1="138.23" y1="283.25" x2="138.23" y2="281.25"/>
<line class="tk" x1="158.3" y1="283.25" x2="158.3" y2="281.25"/>
<line class="tk" x1="37.9" y1="283.25" x2="39.2" y2="283.25"/>
<line class="tk" x1="37.9" y1="273.27" x2="39.2" y2="273.27"/>
<line class="tk" x1="37.9" y1="263.3" x2="39.2" y2="263.3"/>
<line class="tk" x1="37.9" y1="253.32" x2="39.2" y2="253.32"/>
<line class="tk" x1="37.9" y1="243.35" x2="39.2" y2="243.35"/>
<line class="tk" x1="37.9" y1="233.38" x2="39.2" y2="233.38"/>
<line class="tk" x1="37.9" y1="223.4" x2="39.2" y2="223.4"/>
<line class="tk" x1="37.9" y1="213.43" x2="39.2" y2="213.43"/>
<line class="tk" x1="37.9" y1="203.45" x2="39.2" y2="203.45"/>
<line class="tk" x1="37.9" y1="193.48" x2="39.2" y2="193.48"/>
<line class="tk" x1="37.9" y1="183.5" x2="39.2" y2="183.5"/>
<line class="tk" x1="37.9" y1="173.53" x2="39.2" y2="173.53"/>
<line class="tk" x1="37.9" y1="163.55" x2="39.2" y2="163.55"/>
<line class="tk" x1="37.9" y1="283.25" x2="39.9" y2="283.25"/>
<line class="tk" x1="37.9" y1="243.35" x2="39.9" y2="243.35"/>
<line class="tk" x1="37.9" y1="203.45" x2="39.9" y2="203.45"/>
<line class="tk" x1="37.9" y1="163.55" x2="39.9" y2="163.55"/>
<line class="fv" x1="37.9" y1="163.55" x2="37.9" y2="283.25"/>
<line class="fv" x1="158.3" y1="163.55" x2="158.3" y2="283.25"/>
<line class="fh" x1="37.2" y1="163.55" x2="159" y2="163.55"/>
<line class="fh" x1="37.2" y1="283.25" x2="159" y2="283.25"/>
<text class="tl" transform="translate(37.9,294.65) scale(1.2,1)" text-anchor="middle">−12</text>
<text class="tl" transform="translate(57.97,294.65) scale(1.2,1)" text-anchor="middle">−8</text>
<text class="tl" transform="translate(78.03,294.65) scale(1.2,1)" text-anchor="middle">−4</text>
<text class="tl" transform="translate(98.1,294.65) scale(1.2,1)" text-anchor="middle">0</text>
<text class="tl" transform="translate(118.17,294.65) scale(1.2,1)" text-anchor="middle">4</text>
<text class="tl" transform="translate(138.23,294.65) scale(1.2,1)" text-anchor="middle">8</text>
<text class="tl" transform="translate(158.3,294.65) scale(1.2,1)" text-anchor="middle">12</text>
<text class="tl" transform="translate(35,286.65) scale(1.2,1)" text-anchor="end">0.0</text>
<text class="tl" transform="translate(35,246.75) scale(1.2,1)" text-anchor="end">0.2</text>
<text class="tl" transform="translate(35,206.85) scale(1.2,1)" text-anchor="end">0.4</text>
<text class="tl" transform="translate(35,166.95) scale(1.2,1)" text-anchor="end">0.6</text>
<line class="tk" x1="207.8" y1="282.65" x2="207.8" y2="281.35"/>
<line class="tk" x1="212.82" y1="282.65" x2="212.82" y2="281.35"/>
<line class="tk" x1="217.83" y1="282.65" x2="217.83" y2="281.35"/>
<line class="tk" x1="222.85" y1="282.65" x2="222.85" y2="281.35"/>
<line class="tk" x1="227.87" y1="282.65" x2="227.87" y2="281.35"/>
<line class="tk" x1="232.88" y1="282.65" x2="232.88" y2="281.35"/>
<line class="tk" x1="237.9" y1="282.65" x2="237.9" y2="281.35"/>
<line class="tk" x1="242.92" y1="282.65" x2="242.92" y2="281.35"/>
<line class="tk" x1="247.93" y1="282.65" x2="247.93" y2="281.35"/>
<line class="tk" x1="252.95" y1="282.65" x2="252.95" y2="281.35"/>
<line class="tk" x1="257.97" y1="282.65" x2="257.97" y2="281.35"/>
<line class="tk" x1="262.98" y1="282.65" x2="262.98" y2="281.35"/>
<line class="tk" x1="268" y1="282.65" x2="268" y2="281.35"/>
<line class="tk" x1="273.02" y1="282.65" x2="273.02" y2="281.35"/>
<line class="tk" x1="278.03" y1="282.65" x2="278.03" y2="281.35"/>
<line class="tk" x1="283.05" y1="282.65" x2="283.05" y2="281.35"/>
<line class="tk" x1="288.07" y1="282.65" x2="288.07" y2="281.35"/>
<line class="tk" x1="293.08" y1="282.65" x2="293.08" y2="281.35"/>
<line class="tk" x1="298.1" y1="282.65" x2="298.1" y2="281.35"/>
<line class="tk" x1="303.12" y1="282.65" x2="303.12" y2="281.35"/>
<line class="tk" x1="308.13" y1="282.65" x2="308.13" y2="281.35"/>
<line class="tk" x1="313.15" y1="282.65" x2="313.15" y2="281.35"/>
<line class="tk" x1="318.17" y1="282.65" x2="318.17" y2="281.35"/>
<line class="tk" x1="323.18" y1="282.65" x2="323.18" y2="281.35"/>
<line class="tk" x1="328.2" y1="282.65" x2="328.2" y2="281.35"/>
<line class="tk" x1="207.8" y1="282.65" x2="207.8" y2="280.65"/>
<line class="tk" x1="227.87" y1="282.65" x2="227.87" y2="280.65"/>
<line class="tk" x1="247.93" y1="282.65" x2="247.93" y2="280.65"/>
<line class="tk" x1="268" y1="282.65" x2="268" y2="280.65"/>
<line class="tk" x1="288.07" y1="282.65" x2="288.07" y2="280.65"/>
<line class="tk" x1="308.13" y1="282.65" x2="308.13" y2="280.65"/>
<line class="tk" x1="328.2" y1="282.65" x2="328.2" y2="280.65"/>
<line class="tk" x1="207.8" y1="282.65" x2="209.1" y2="282.65"/>
<line class="tk" x1="207.8" y1="276.69" x2="209.1" y2="276.69"/>
<line class="tk" x1="207.8" y1="270.74" x2="209.1" y2="270.74"/>
<line class="tk" x1="207.8" y1="264.78" x2="209.1" y2="264.78"/>
<line class="tk" x1="207.8" y1="258.83" x2="209.1" y2="258.83"/>
<line class="tk" x1="207.8" y1="252.88" x2="209.1" y2="252.88"/>
<line class="tk" x1="207.8" y1="246.92" x2="209.1" y2="246.92"/>
<line class="tk" x1="207.8" y1="240.97" x2="209.1" y2="240.97"/>
<line class="tk" x1="207.8" y1="235.01" x2="209.1" y2="235.01"/>
<line class="tk" x1="207.8" y1="229.06" x2="209.1" y2="229.06"/>
<line class="tk" x1="207.8" y1="223.1" x2="209.1" y2="223.1"/>
<line class="tk" x1="207.8" y1="217.15" x2="209.1" y2="217.15"/>
<line class="tk" x1="207.8" y1="211.19" x2="209.1" y2="211.19"/>
<line class="tk" x1="207.8" y1="205.24" x2="209.1" y2="205.24"/>
<line class="tk" x1="207.8" y1="199.28" x2="209.1" y2="199.28"/>
<line class="tk" x1="207.8" y1="193.33" x2="209.1" y2="193.33"/>
<line class="tk" x1="207.8" y1="187.37" x2="209.1" y2="187.37"/>
<line class="tk" x1="207.8" y1="181.42" x2="209.1" y2="181.42"/>
<line class="tk" x1="207.8" y1="175.46" x2="209.1" y2="175.46"/>
<line class="tk" x1="207.8" y1="169.51" x2="209.1" y2="169.51"/>
<line class="tk" x1="207.8" y1="163.55" x2="209.1" y2="163.55"/>
<line class="tk" x1="207.8" y1="282.65" x2="209.8" y2="282.65"/>
<line class="tk" x1="207.8" y1="258.83" x2="209.8" y2="258.83"/>
<line class="tk" x1="207.8" y1="235.01" x2="209.8" y2="235.01"/>
<line class="tk" x1="207.8" y1="211.19" x2="209.8" y2="211.19"/>
<line class="tk" x1="207.8" y1="187.37" x2="209.8" y2="187.37"/>
<line class="tk" x1="207.8" y1="163.55" x2="209.8" y2="163.55"/>
<line class="fv" x1="207.8" y1="163.55" x2="207.8" y2="282.65"/>
<line class="fv" x1="328.2" y1="163.55" x2="328.2" y2="282.65"/>
<line class="fh" x1="207.1" y1="163.55" x2="328.9" y2="163.55"/>
<line class="fh" x1="207.1" y1="282.65" x2="328.9" y2="282.65"/>
<text class="tl" transform="translate(207.8,294.05) scale(1.2,1)" text-anchor="middle">−12</text>
<text class="tl" transform="translate(227.87,294.05) scale(1.2,1)" text-anchor="middle">−8</text>
<text class="tl" transform="translate(247.93,294.05) scale(1.2,1)" text-anchor="middle">−4</text>
<text class="tl" transform="translate(268,294.05) scale(1.2,1)" text-anchor="middle">0</text>
<text class="tl" transform="translate(288.07,294.05) scale(1.2,1)" text-anchor="middle">4</text>
<text class="tl" transform="translate(308.13,294.05) scale(1.2,1)" text-anchor="middle">8</text>
<text class="tl" transform="translate(328.2,294.05) scale(1.2,1)" text-anchor="middle">12</text>
<text class="tl" transform="translate(204.9,286.05) scale(1.2,1)" text-anchor="end">−1.0</text>
<text class="tl" transform="translate(204.9,262.23) scale(1.2,1)" text-anchor="end">−0.6</text>
<text class="tl" transform="translate(204.9,238.41) scale(1.2,1)" text-anchor="end">−0.2</text>
<text class="tl" transform="translate(204.9,214.59) scale(1.2,1)" text-anchor="end">0.2</text>
<text class="tl" transform="translate(204.9,190.77) scale(1.2,1)" text-anchor="end">0.6</text>
<text class="tl" transform="translate(204.9,166.95) scale(1.2,1)" text-anchor="end">1.0</text>
<line class="tk" x1="37.9" y1="439.2" x2="37.9" y2="437.9"/>
<line class="tk" x1="45.42" y1="439.2" x2="45.42" y2="437.9"/>
<line class="tk" x1="52.95" y1="439.2" x2="52.95" y2="437.9"/>
<line class="tk" x1="60.48" y1="439.2" x2="60.48" y2="437.9"/>
<line class="tk" x1="68" y1="439.2" x2="68" y2="437.9"/>
<line class="tk" x1="75.53" y1="439.2" x2="75.53" y2="437.9"/>
<line class="tk" x1="83.05" y1="439.2" x2="83.05" y2="437.9"/>
<line class="tk" x1="90.58" y1="439.2" x2="90.58" y2="437.9"/>
<line class="tk" x1="98.1" y1="439.2" x2="98.1" y2="437.9"/>
<line class="tk" x1="105.62" y1="439.2" x2="105.62" y2="437.9"/>
<line class="tk" x1="113.15" y1="439.2" x2="113.15" y2="437.9"/>
<line class="tk" x1="120.68" y1="439.2" x2="120.68" y2="437.9"/>
<line class="tk" x1="128.2" y1="439.2" x2="128.2" y2="437.9"/>
<line class="tk" x1="135.72" y1="439.2" x2="135.72" y2="437.9"/>
<line class="tk" x1="143.25" y1="439.2" x2="143.25" y2="437.9"/>
<line class="tk" x1="150.78" y1="439.2" x2="150.78" y2="437.9"/>
<line class="tk" x1="158.3" y1="439.2" x2="158.3" y2="437.9"/>
<line class="tk" x1="37.9" y1="439.2" x2="37.9" y2="437.2"/>
<line class="tk" x1="68" y1="439.2" x2="68" y2="437.2"/>
<line class="tk" x1="98.1" y1="439.2" x2="98.1" y2="437.2"/>
<line class="tk" x1="128.2" y1="439.2" x2="128.2" y2="437.2"/>
<line class="tk" x1="158.3" y1="439.2" x2="158.3" y2="437.2"/>
<line class="tk" x1="37.9" y1="439.2" x2="39.2" y2="439.2"/>
<line class="tk" x1="37.9" y1="431.72" x2="39.2" y2="431.72"/>
<line class="tk" x1="37.9" y1="424.23" x2="39.2" y2="424.23"/>
<line class="tk" x1="37.9" y1="416.75" x2="39.2" y2="416.75"/>
<line class="tk" x1="37.9" y1="409.26" x2="39.2" y2="409.26"/>
<line class="tk" x1="37.9" y1="401.78" x2="39.2" y2="401.78"/>
<line class="tk" x1="37.9" y1="394.29" x2="39.2" y2="394.29"/>
<line class="tk" x1="37.9" y1="386.81" x2="39.2" y2="386.81"/>
<line class="tk" x1="37.9" y1="379.32" x2="39.2" y2="379.32"/>
<line class="tk" x1="37.9" y1="371.84" x2="39.2" y2="371.84"/>
<line class="tk" x1="37.9" y1="364.36" x2="39.2" y2="364.36"/>
<line class="tk" x1="37.9" y1="356.87" x2="39.2" y2="356.87"/>
<line class="tk" x1="37.9" y1="349.39" x2="39.2" y2="349.39"/>
<line class="tk" x1="37.9" y1="341.9" x2="39.2" y2="341.9"/>
<line class="tk" x1="37.9" y1="334.42" x2="39.2" y2="334.42"/>
<line class="tk" x1="37.9" y1="326.93" x2="39.2" y2="326.93"/>
<line class="tk" x1="37.9" y1="319.45" x2="39.2" y2="319.45"/>
<line class="tk" x1="37.9" y1="439.2" x2="39.9" y2="439.2"/>
<line class="tk" x1="37.9" y1="409.26" x2="39.9" y2="409.26"/>
<line class="tk" x1="37.9" y1="379.32" x2="39.9" y2="379.32"/>
<line class="tk" x1="37.9" y1="349.39" x2="39.9" y2="349.39"/>
<line class="tk" x1="37.9" y1="319.45" x2="39.9" y2="319.45"/>
<line class="fv" x1="37.9" y1="319.45" x2="37.9" y2="439.2"/>
<line class="fv" x1="158.3" y1="319.45" x2="158.3" y2="439.2"/>
<line class="fh" x1="37.2" y1="319.45" x2="159" y2="319.45"/>
<line class="fh" x1="37.2" y1="439.2" x2="159" y2="439.2"/>
<text class="tl" transform="translate(37.9,450.6) scale(1.2,1)" text-anchor="middle">−8</text>
<text class="tl" transform="translate(68,450.6) scale(1.2,1)" text-anchor="middle">−4</text>
<text class="tl" transform="translate(98.1,450.6) scale(1.2,1)" text-anchor="middle">0</text>
<text class="tl" transform="translate(128.2,450.6) scale(1.2,1)" text-anchor="middle">4</text>
<text class="tl" transform="translate(158.3,450.6) scale(1.2,1)" text-anchor="middle">8</text>
<text class="tl" transform="translate(35,442.6) scale(1.2,1)" text-anchor="end">0.0</text>
<text class="tl" transform="translate(35,412.66) scale(1.2,1)" text-anchor="end">0.2</text>
<text class="tl" transform="translate(35,382.72) scale(1.2,1)" text-anchor="end">0.4</text>
<text class="tl" transform="translate(35,352.79) scale(1.2,1)" text-anchor="end">0.6</text>
<text class="tl" transform="translate(35,322.85) scale(1.2,1)" text-anchor="end">0.8</text>
<line class="tk" x1="207.8" y1="438.6" x2="207.8" y2="437.3"/>
<line class="tk" x1="215.33" y1="438.6" x2="215.33" y2="437.3"/>
<line class="tk" x1="222.85" y1="438.6" x2="222.85" y2="437.3"/>
<line class="tk" x1="230.38" y1="438.6" x2="230.38" y2="437.3"/>
<line class="tk" x1="237.9" y1="438.6" x2="237.9" y2="437.3"/>
<line class="tk" x1="245.43" y1="438.6" x2="245.43" y2="437.3"/>
<line class="tk" x1="252.95" y1="438.6" x2="252.95" y2="437.3"/>
<line class="tk" x1="260.48" y1="438.6" x2="260.48" y2="437.3"/>
<line class="tk" x1="268" y1="438.6" x2="268" y2="437.3"/>
<line class="tk" x1="275.52" y1="438.6" x2="275.52" y2="437.3"/>
<line class="tk" x1="283.05" y1="438.6" x2="283.05" y2="437.3"/>
<line class="tk" x1="290.57" y1="438.6" x2="290.57" y2="437.3"/>
<line class="tk" x1="298.1" y1="438.6" x2="298.1" y2="437.3"/>
<line class="tk" x1="305.62" y1="438.6" x2="305.62" y2="437.3"/>
<line class="tk" x1="313.15" y1="438.6" x2="313.15" y2="437.3"/>
<line class="tk" x1="320.67" y1="438.6" x2="320.67" y2="437.3"/>
<line class="tk" x1="328.2" y1="438.6" x2="328.2" y2="437.3"/>
<line class="tk" x1="207.8" y1="438.6" x2="207.8" y2="436.6"/>
<line class="tk" x1="237.9" y1="438.6" x2="237.9" y2="436.6"/>
<line class="tk" x1="268" y1="438.6" x2="268" y2="436.6"/>
<line class="tk" x1="298.1" y1="438.6" x2="298.1" y2="436.6"/>
<line class="tk" x1="328.2" y1="438.6" x2="328.2" y2="436.6"/>
<line class="tk" x1="207.8" y1="438.6" x2="209.1" y2="438.6"/>
<line class="tk" x1="207.8" y1="432.64" x2="209.1" y2="432.64"/>
<line class="tk" x1="207.8" y1="426.68" x2="209.1" y2="426.68"/>
<line class="tk" x1="207.8" y1="420.73" x2="209.1" y2="420.73"/>
<line class="tk" x1="207.8" y1="414.77" x2="209.1" y2="414.77"/>
<line class="tk" x1="207.8" y1="408.81" x2="209.1" y2="408.81"/>
<line class="tk" x1="207.8" y1="402.85" x2="209.1" y2="402.85"/>
<line class="tk" x1="207.8" y1="396.9" x2="209.1" y2="396.9"/>
<line class="tk" x1="207.8" y1="390.94" x2="209.1" y2="390.94"/>
<line class="tk" x1="207.8" y1="384.98" x2="209.1" y2="384.98"/>
<line class="tk" x1="207.8" y1="379.02" x2="209.1" y2="379.02"/>
<line class="tk" x1="207.8" y1="373.07" x2="209.1" y2="373.07"/>
<line class="tk" x1="207.8" y1="367.11" x2="209.1" y2="367.11"/>
<line class="tk" x1="207.8" y1="361.15" x2="209.1" y2="361.15"/>
<line class="tk" x1="207.8" y1="355.19" x2="209.1" y2="355.19"/>
<line class="tk" x1="207.8" y1="349.24" x2="209.1" y2="349.24"/>
<line class="tk" x1="207.8" y1="343.28" x2="209.1" y2="343.28"/>
<line class="tk" x1="207.8" y1="337.32" x2="209.1" y2="337.32"/>
<line class="tk" x1="207.8" y1="331.37" x2="209.1" y2="331.37"/>
<line class="tk" x1="207.8" y1="325.41" x2="209.1" y2="325.41"/>
<line class="tk" x1="207.8" y1="319.45" x2="209.1" y2="319.45"/>
<line class="tk" x1="207.8" y1="438.6" x2="209.8" y2="438.6"/>
<line class="tk" x1="207.8" y1="414.77" x2="209.8" y2="414.77"/>
<line class="tk" x1="207.8" y1="390.94" x2="209.8" y2="390.94"/>
<line class="tk" x1="207.8" y1="367.11" x2="209.8" y2="367.11"/>
<line class="tk" x1="207.8" y1="343.28" x2="209.8" y2="343.28"/>
<line class="tk" x1="207.8" y1="319.45" x2="209.8" y2="319.45"/>
<line class="fv" x1="207.8" y1="319.45" x2="207.8" y2="438.6"/>
<line class="fv" x1="328.2" y1="319.45" x2="328.2" y2="438.6"/>
<line class="fh" x1="207.1" y1="319.45" x2="328.9" y2="319.45"/>
<line class="fh" x1="207.1" y1="438.6" x2="328.9" y2="438.6"/>
<text class="tl" transform="translate(207.8,450) scale(1.2,1)" text-anchor="middle">−8</text>
<text class="tl" transform="translate(237.9,450) scale(1.2,1)" text-anchor="middle">−4</text>
<text class="tl" transform="translate(268,450) scale(1.2,1)" text-anchor="middle">0</text>
<text class="tl" transform="translate(298.1,450) scale(1.2,1)" text-anchor="middle">4</text>
<text class="tl" transform="translate(328.2,450) scale(1.2,1)" text-anchor="middle">8</text>
<text class="tl" transform="translate(204.9,442) scale(1.2,1)" text-anchor="end">−1.0</text>
<text class="tl" transform="translate(204.9,418.17) scale(1.2,1)" text-anchor="end">−0.6</text>
<text class="tl" transform="translate(204.9,394.34) scale(1.2,1)" text-anchor="end">−0.2</text>
<text class="tl" transform="translate(204.9,370.51) scale(1.2,1)" text-anchor="end">0.2</text>
<text class="tl" transform="translate(204.9,346.68) scale(1.2,1)" text-anchor="end">0.6</text>
<text class="tl" transform="translate(204.9,322.85) scale(1.2,1)" text-anchor="end">1.0</text>
<text class="ax axz" x="98.7" y="151.3" text-anchor="middle" textLength="18.6" lengthAdjust="spacingAndGlyphs">z/σ</text>
<text class="ax axz" x="268.6" y="151.05" text-anchor="middle" textLength="18.6" lengthAdjust="spacingAndGlyphs">z/σ</text>
<text class="ax axz" x="98.7" y="307.25" text-anchor="middle" textLength="18.6" lengthAdjust="spacingAndGlyphs">z/σ</text>
<text class="ax axz" x="268.6" y="306.65" text-anchor="middle" textLength="18.6" lengthAdjust="spacingAndGlyphs">z/σ</text>
<text class="ax axz" x="98.7" y="463.2" text-anchor="middle" textLength="18.6" lengthAdjust="spacingAndGlyphs">z/σ</text>
<text class="ax axz" x="268.6" y="462.6" text-anchor="middle" textLength="18.6" lengthAdjust="spacingAndGlyphs">z/σ</text>
<g transform="translate(10.8,84.17) rotate(-90)"><text class="ax" x="0.4" y="0" style="font-size:15px" textLength="8" lengthAdjust="spacingAndGlyphs">ρ</text><text class="ax" x="8.4" y="0" style="font-size:11.5px">*</text><text class="ax" x="14.2" y="0" style="font-size:16.5px">(</text><text class="ax" x="21.2" y="0" style="font-size:14px" textLength="6.5" lengthAdjust="spacingAndGlyphs">z</text><text class="ax" x="28" y="0" style="font-size:16.5px">)</text></g>
<g transform="translate(10.8,240.2) rotate(-90)"><text class="ax" x="0.4" y="0" style="font-size:15px" textLength="8" lengthAdjust="spacingAndGlyphs">ρ</text><text class="ax" x="8.4" y="0" style="font-size:11.5px">*</text><text class="ax" x="14.2" y="0" style="font-size:16.5px">(</text><text class="ax" x="21.2" y="0" style="font-size:14px" textLength="6.5" lengthAdjust="spacingAndGlyphs">z</text><text class="ax" x="28" y="0" style="font-size:16.5px">)</text></g>
<g transform="translate(10.8,396.12) rotate(-90)"><text class="ax" x="0.4" y="0" style="font-size:15px" textLength="8" lengthAdjust="spacingAndGlyphs">ρ</text><text class="ax" x="8.4" y="0" style="font-size:11.5px">*</text><text class="ax" x="14.2" y="0" style="font-size:16.5px">(</text><text class="ax" x="21.2" y="0" style="font-size:14px" textLength="6.5" lengthAdjust="spacingAndGlyphs">z</text><text class="ax" x="28" y="0" style="font-size:16.5px">)</text></g>
<g transform="translate(180.2,84.85) rotate(-90)"><text class="ax" x="-0.5" y="0" style="font-size:15px" textLength="13.2" lengthAdjust="spacingAndGlyphs">m</text><text class="ax" x="15" y="0" style="font-size:16.5px">(</text><text class="ax" x="21.4" y="0" style="font-size:14px" textLength="6.5" lengthAdjust="spacingAndGlyphs">z</text><text class="ax" x="29.3" y="0" style="font-size:16.5px">)</text></g>
<g transform="translate(180.2,240.7) rotate(-90)"><text class="ax" x="-0.5" y="0" style="font-size:15px" textLength="13.2" lengthAdjust="spacingAndGlyphs">m</text><text class="ax" x="15" y="0" style="font-size:16.5px">(</text><text class="ax" x="21.4" y="0" style="font-size:14px" textLength="6.5" lengthAdjust="spacingAndGlyphs">z</text><text class="ax" x="29.3" y="0" style="font-size:16.5px">)</text></g>
<g transform="translate(180.2,396.62) rotate(-90)"><text class="ax" x="-0.5" y="0" style="font-size:15px" textLength="13.2" lengthAdjust="spacingAndGlyphs">m</text><text class="ax" x="15" y="0" style="font-size:16.5px">(</text><text class="ax" x="21.4" y="0" style="font-size:14px" textLength="6.5" lengthAdjust="spacingAndGlyphs">z</text><text class="ax" x="29.3" y="0" style="font-size:16.5px">)</text></g>
<text class="pl" x="160.1" y="10.45">a)</text>
<text class="pl" x="330" y="10.45">b)</text>
<text class="pl" x="160.1" y="166.55">c)</text>
<text class="pl" x="330" y="166.55">d)</text>
<text class="pl" x="160.1" y="322.45">e)</text>
<text class="pl" x="330" y="322.45">f)</text>
<text class="rl" x="43.3" y="19.25" textLength="34.6" lengthAdjust="spacingAndGlyphs"><tspan font-style="italic">ρ</tspan>*=0.3</text>
<text class="rl" x="213.2" y="19.25" textLength="34.6" lengthAdjust="spacingAndGlyphs"><tspan font-style="italic">ρ</tspan>*=0.3</text>
<text class="rl" x="43.3" y="175.35" textLength="34.6" lengthAdjust="spacingAndGlyphs"><tspan font-style="italic">ρ</tspan>*=0.5</text>
<text class="rl" x="213.2" y="175.35" textLength="34.6" lengthAdjust="spacingAndGlyphs"><tspan font-style="italic">ρ</tspan>*=0.5</text>
<text class="rl" x="43.3" y="331.25" textLength="34.6" lengthAdjust="spacingAndGlyphs"><tspan font-style="italic">ρ</tspan>*=0.7</text>
<text class="rl" x="213.2" y="331.25" textLength="34.6" lengthAdjust="spacingAndGlyphs"><tspan font-style="italic">ρ</tspan>*=0.7</text>
<text class="cl" x="88.5" y="25.6" textLength="21" lengthAdjust="spacingAndGlyphs"><tspan font-style="italic">T</tspan>*=7</text>
<text class="cl cn" transform="translate(95.85,44.9) rotate(0) scale(1.13,1)">6</text>
<text class="cl cn" transform="translate(95.85,57.1) rotate(0) scale(1.13,1)">5</text>
<text class="cl" x="111.3" y="83" textLength="20.5" lengthAdjust="spacingAndGlyphs"><tspan font-style="italic">T</tspan>*=3</text>
<text class="cl" x="212" y="87" textLength="21" lengthAdjust="spacingAndGlyphs"><tspan font-style="italic">T</tspan>*=7</text>
<text class="cl cn" transform="translate(221.65,107.9) rotate(0) scale(1.13,1)">6</text>
<text class="cl cn" transform="translate(234.85,117.6) rotate(0) scale(1.13,1)">5</text>
<text class="cl" x="257.8" y="121.7" textLength="20.5" lengthAdjust="spacingAndGlyphs"><tspan font-style="italic">T</tspan>*=3</text>
<text class="cl" x="85" y="183.9" textLength="26.5" lengthAdjust="spacingAndGlyphs"><tspan font-style="italic">T</tspan>*=12</text>
<text class="cl cn" transform="translate(95.85,203.6) rotate(0) scale(1.13,1)">9</text>
<text class="cl cn" transform="translate(95.85,214) rotate(0) scale(1.13,1)">7</text>
<text class="cl cn" transform="translate(95.85,229) rotate(0) scale(1.13,1)">5</text>
<text class="cl" x="104.8" y="252" textLength="20.8" lengthAdjust="spacingAndGlyphs"><tspan font-style="italic">T</tspan>*=3</text>
<text class="cl" x="212" y="242" transform="rotate(-9 212 242)" textLength="25.5" lengthAdjust="spacingAndGlyphs"><tspan font-style="italic">T</tspan>*=12</text>
<text class="cl cn" transform="translate(221.25,257.1) rotate(-5) scale(1.13,1)">11</text>
<text class="cl cn" transform="translate(224.65,272.3) rotate(0) scale(1.13,1)">9</text>
<text class="cl cn" transform="translate(241.65,277.8) rotate(0) scale(1.13,1)">7</text>
<text class="cl" x="265.7" y="278.2" textLength="20" lengthAdjust="spacingAndGlyphs"><tspan font-style="italic">T</tspan>*=3</text>
<text class="cl" x="85" y="334.3" textLength="26.5" lengthAdjust="spacingAndGlyphs"><tspan font-style="italic">T</tspan>*=17</text>
<text class="cl cn" transform="translate(96.15,358.3) rotate(0) scale(1.13,1)">9</text>
<text class="cl cn" transform="translate(96.15,366.8) rotate(0) scale(1.13,1)">7</text>
<text class="cl cn" transform="translate(95.85,377.9) rotate(0) scale(1.13,1)">5</text>
<text class="cl" x="105" y="391.2" textLength="20.6" lengthAdjust="spacingAndGlyphs"><tspan font-style="italic">T</tspan>*=3</text>
<text class="cl" x="211.6" y="396.8" transform="rotate(-8 211.6 396.8)" textLength="26" lengthAdjust="spacingAndGlyphs"><tspan font-style="italic">T</tspan>*=17</text>
<text class="cl cn" transform="translate(219.05,416.4) rotate(-10) scale(1.13,1)">15</text>
<text class="cl cn" transform="translate(226.85,425.1) rotate(-9) scale(1.13,1)">13</text>
<text class="cl cn" transform="translate(239.55,429.1) rotate(-30) scale(1.13,1)">11</text>
<text class="cl" x="266.4" y="434" textLength="21.2" lengthAdjust="spacingAndGlyphs"><tspan font-style="italic">T</tspan>*=3</text>
</svg>
</body></html>
